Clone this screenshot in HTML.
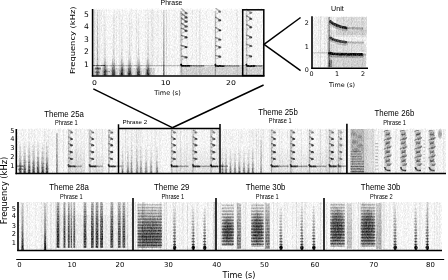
<!DOCTYPE html>
<html><head><meta charset="utf-8"><title>Spectrogram figure</title>
<style>html,body{margin:0;padding:0;background:#fff;}body{width:448px;height:280px;overflow:hidden;}svg{display:block;}text{fill:#000;}</style>
</head><body>
<svg width="448" height="280" viewBox="0 0 448 280"><defs><filter id="spec" color-interpolation-filters="sRGB" x="0" y="0" width="1" height="1">
<feGaussianBlur in="SourceGraphic" stdDeviation="0.5" result="blur"/>
<feComponentTransfer in="blur" result="inv"><feFuncR type="linear" slope="-1" intercept="1"/><feFuncG type="linear" slope="-1" intercept="1"/><feFuncB type="linear" slope="-1" intercept="1"/></feComponentTransfer>
<feTurbulence type="fractalNoise" baseFrequency="1.2 0.6" numOctaves="1" seed="4" result="turb"/>
<feColorMatrix in="turb" type="matrix" values="1.0 0 0 0 0.0  1.0 0 0 0 0.0  1.0 0 0 0 0.0  0 0 0 0 1" result="noise"/>
<feComposite in="inv" in2="noise" operator="arithmetic" k1="0.5" k2="0.75" k3="0.22" k4="-0.11" result="mod"/>
<feComponentTransfer in="mod"><feFuncR type="linear" slope="-1" intercept="1"/><feFuncG type="linear" slope="-1" intercept="1"/><feFuncB type="linear" slope="-1" intercept="1"/></feComponentTransfer>
</filter><linearGradient id="g1" x1="0" y1="0" x2="0" y2="1"><stop offset="0" stop-color="#000" stop-opacity="0.000"/><stop offset="0.6" stop-color="#000" stop-opacity="0.338"/><stop offset="1" stop-color="#000" stop-opacity="0.750"/></linearGradient><linearGradient id="g2" x1="0" y1="0" x2="0" y2="1"><stop offset="0" stop-color="#000" stop-opacity="0.000"/><stop offset="0.6" stop-color="#000" stop-opacity="0.144"/><stop offset="1" stop-color="#000" stop-opacity="0.320"/></linearGradient><linearGradient id="g3" x1="0" y1="0" x2="0" y2="1"><stop offset="0" stop-color="#000" stop-opacity="0.050"/><stop offset="0.75" stop-color="#000" stop-opacity="0.100"/><stop offset="1" stop-color="#000" stop-opacity="0.160"/></linearGradient><linearGradient id="g4" x1="0" y1="0" x2="0" y2="1"><stop offset="0" stop-color="#000" stop-opacity="0.000"/><stop offset="0.6" stop-color="#000" stop-opacity="0.338"/><stop offset="1" stop-color="#000" stop-opacity="0.750"/></linearGradient><linearGradient id="g5" x1="0" y1="0" x2="0" y2="1"><stop offset="0" stop-color="#000" stop-opacity="0.000"/><stop offset="0.6" stop-color="#000" stop-opacity="0.144"/><stop offset="1" stop-color="#000" stop-opacity="0.320"/></linearGradient><linearGradient id="g6" x1="0" y1="0" x2="0" y2="1"><stop offset="0" stop-color="#000" stop-opacity="0.050"/><stop offset="0.75" stop-color="#000" stop-opacity="0.100"/><stop offset="1" stop-color="#000" stop-opacity="0.160"/></linearGradient><linearGradient id="g7" x1="0" y1="0" x2="0" y2="1"><stop offset="0" stop-color="#000" stop-opacity="0.000"/><stop offset="0.6" stop-color="#000" stop-opacity="0.338"/><stop offset="1" stop-color="#000" stop-opacity="0.750"/></linearGradient><linearGradient id="g8" x1="0" y1="0" x2="0" y2="1"><stop offset="0" stop-color="#000" stop-opacity="0.000"/><stop offset="0.6" stop-color="#000" stop-opacity="0.144"/><stop offset="1" stop-color="#000" stop-opacity="0.320"/></linearGradient><linearGradient id="g9" x1="0" y1="0" x2="0" y2="1"><stop offset="0" stop-color="#000" stop-opacity="0.050"/><stop offset="0.75" stop-color="#000" stop-opacity="0.100"/><stop offset="1" stop-color="#000" stop-opacity="0.160"/></linearGradient><linearGradient id="g10" x1="0" y1="0" x2="0" y2="1"><stop offset="0" stop-color="#000" stop-opacity="0.000"/><stop offset="0.6" stop-color="#000" stop-opacity="0.338"/><stop offset="1" stop-color="#000" stop-opacity="0.750"/></linearGradient><linearGradient id="g11" x1="0" y1="0" x2="0" y2="1"><stop offset="0" stop-color="#000" stop-opacity="0.000"/><stop offset="0.6" stop-color="#000" stop-opacity="0.144"/><stop offset="1" stop-color="#000" stop-opacity="0.320"/></linearGradient><linearGradient id="g12" x1="0" y1="0" x2="0" y2="1"><stop offset="0" stop-color="#000" stop-opacity="0.050"/><stop offset="0.75" stop-color="#000" stop-opacity="0.100"/><stop offset="1" stop-color="#000" stop-opacity="0.160"/></linearGradient><linearGradient id="g13" x1="0" y1="0" x2="0" y2="1"><stop offset="0" stop-color="#000" stop-opacity="0.000"/><stop offset="0.6" stop-color="#000" stop-opacity="0.338"/><stop offset="1" stop-color="#000" stop-opacity="0.750"/></linearGradient><linearGradient id="g14" x1="0" y1="0" x2="0" y2="1"><stop offset="0" stop-color="#000" stop-opacity="0.000"/><stop offset="0.6" stop-color="#000" stop-opacity="0.144"/><stop offset="1" stop-color="#000" stop-opacity="0.320"/></linearGradient><linearGradient id="g15" x1="0" y1="0" x2="0" y2="1"><stop offset="0" stop-color="#000" stop-opacity="0.050"/><stop offset="0.75" stop-color="#000" stop-opacity="0.100"/><stop offset="1" stop-color="#000" stop-opacity="0.160"/></linearGradient><linearGradient id="g16" x1="0" y1="0" x2="0" y2="1"><stop offset="0" stop-color="#000" stop-opacity="0.000"/><stop offset="0.6" stop-color="#000" stop-opacity="0.338"/><stop offset="1" stop-color="#000" stop-opacity="0.750"/></linearGradient><linearGradient id="g17" x1="0" y1="0" x2="0" y2="1"><stop offset="0" stop-color="#000" stop-opacity="0.000"/><stop offset="0.6" stop-color="#000" stop-opacity="0.144"/><stop offset="1" stop-color="#000" stop-opacity="0.320"/></linearGradient><linearGradient id="g18" x1="0" y1="0" x2="0" y2="1"><stop offset="0" stop-color="#000" stop-opacity="0.050"/><stop offset="0.75" stop-color="#000" stop-opacity="0.100"/><stop offset="1" stop-color="#000" stop-opacity="0.160"/></linearGradient><linearGradient id="g19" x1="0" y1="0" x2="0" y2="1"><stop offset="0" stop-color="#000" stop-opacity="0.000"/><stop offset="0.6" stop-color="#000" stop-opacity="0.158"/><stop offset="1" stop-color="#000" stop-opacity="0.350"/></linearGradient><linearGradient id="g20" x1="0" y1="0" x2="0" y2="1"><stop offset="0" stop-color="#000" stop-opacity="0.000"/><stop offset="0.6" stop-color="#000" stop-opacity="0.068"/><stop offset="1" stop-color="#000" stop-opacity="0.150"/></linearGradient><linearGradient id="g21" x1="0" y1="0" x2="0" y2="1"><stop offset="0" stop-color="#000" stop-opacity="0.050"/><stop offset="0.75" stop-color="#000" stop-opacity="0.100"/><stop offset="1" stop-color="#000" stop-opacity="0.160"/></linearGradient><linearGradient id="g22" x1="0" y1="0" x2="0" y2="1"><stop offset="0" stop-color="#000" stop-opacity="0.100"/><stop offset="0.75" stop-color="#000" stop-opacity="0.190"/><stop offset="1" stop-color="#000" stop-opacity="0.300"/></linearGradient><linearGradient id="g23" x1="0" y1="0" x2="0" y2="1"><stop offset="0" stop-color="#000" stop-opacity="0.140"/><stop offset="0.75" stop-color="#000" stop-opacity="0.325"/><stop offset="1" stop-color="#000" stop-opacity="0.550"/></linearGradient><linearGradient id="g24" x1="0" y1="0" x2="0" y2="1"><stop offset="0" stop-color="#000" stop-opacity="0.300"/><stop offset="0.75" stop-color="#000" stop-opacity="0.458"/><stop offset="1" stop-color="#000" stop-opacity="0.650"/></linearGradient><linearGradient id="g25" x1="0" y1="0" x2="0" y2="1"><stop offset="0" stop-color="#000" stop-opacity="0.030"/><stop offset="0.5" stop-color="#000" stop-opacity="0.210"/><stop offset="0.8" stop-color="#000" stop-opacity="0.455"/><stop offset="1" stop-color="#000" stop-opacity="0.700"/></linearGradient><linearGradient id="g26" x1="0" y1="0" x2="0" y2="1"><stop offset="0" stop-color="#000" stop-opacity="0.000"/><stop offset="0.6" stop-color="#000" stop-opacity="0.105"/><stop offset="1" stop-color="#000" stop-opacity="0.245"/></linearGradient><linearGradient id="g27" x1="0" y1="0" x2="0" y2="1"><stop offset="0" stop-color="#000" stop-opacity="0.030"/><stop offset="0.5" stop-color="#000" stop-opacity="0.210"/><stop offset="0.8" stop-color="#000" stop-opacity="0.455"/><stop offset="1" stop-color="#000" stop-opacity="0.700"/></linearGradient><linearGradient id="g28" x1="0" y1="0" x2="0" y2="1"><stop offset="0" stop-color="#000" stop-opacity="0.000"/><stop offset="0.6" stop-color="#000" stop-opacity="0.105"/><stop offset="1" stop-color="#000" stop-opacity="0.245"/></linearGradient><linearGradient id="g29" x1="0" y1="0" x2="0" y2="1"><stop offset="0" stop-color="#000" stop-opacity="0.030"/><stop offset="0.5" stop-color="#000" stop-opacity="0.210"/><stop offset="0.8" stop-color="#000" stop-opacity="0.455"/><stop offset="1" stop-color="#000" stop-opacity="0.700"/></linearGradient><linearGradient id="g30" x1="0" y1="0" x2="0" y2="1"><stop offset="0" stop-color="#000" stop-opacity="0.000"/><stop offset="0.6" stop-color="#000" stop-opacity="0.105"/><stop offset="1" stop-color="#000" stop-opacity="0.245"/></linearGradient><linearGradient id="g31" x1="0" y1="0" x2="0" y2="1"><stop offset="0" stop-color="#000" stop-opacity="0.030"/><stop offset="0.5" stop-color="#000" stop-opacity="0.210"/><stop offset="0.8" stop-color="#000" stop-opacity="0.455"/><stop offset="1" stop-color="#000" stop-opacity="0.700"/></linearGradient><linearGradient id="g32" x1="0" y1="0" x2="0" y2="1"><stop offset="0" stop-color="#000" stop-opacity="0.000"/><stop offset="0.6" stop-color="#000" stop-opacity="0.105"/><stop offset="1" stop-color="#000" stop-opacity="0.245"/></linearGradient><linearGradient id="g33" x1="0" y1="0" x2="0" y2="1"><stop offset="0" stop-color="#000" stop-opacity="0.030"/><stop offset="0.5" stop-color="#000" stop-opacity="0.210"/><stop offset="0.8" stop-color="#000" stop-opacity="0.455"/><stop offset="1" stop-color="#000" stop-opacity="0.700"/></linearGradient><linearGradient id="g34" x1="0" y1="0" x2="0" y2="1"><stop offset="0" stop-color="#000" stop-opacity="0.000"/><stop offset="0.6" stop-color="#000" stop-opacity="0.105"/><stop offset="1" stop-color="#000" stop-opacity="0.245"/></linearGradient><linearGradient id="g35" x1="0" y1="0" x2="0" y2="1"><stop offset="0" stop-color="#000" stop-opacity="0.030"/><stop offset="0.5" stop-color="#000" stop-opacity="0.210"/><stop offset="0.8" stop-color="#000" stop-opacity="0.455"/><stop offset="1" stop-color="#000" stop-opacity="0.700"/></linearGradient><linearGradient id="g36" x1="0" y1="0" x2="0" y2="1"><stop offset="0" stop-color="#000" stop-opacity="0.000"/><stop offset="0.6" stop-color="#000" stop-opacity="0.105"/><stop offset="1" stop-color="#000" stop-opacity="0.245"/></linearGradient><linearGradient id="g37" x1="0" y1="0" x2="0" y2="1"><stop offset="0" stop-color="#000" stop-opacity="0.030"/><stop offset="0.5" stop-color="#000" stop-opacity="0.210"/><stop offset="0.8" stop-color="#000" stop-opacity="0.455"/><stop offset="1" stop-color="#000" stop-opacity="0.700"/></linearGradient><linearGradient id="g38" x1="0" y1="0" x2="0" y2="1"><stop offset="0" stop-color="#000" stop-opacity="0.000"/><stop offset="0.6" stop-color="#000" stop-opacity="0.105"/><stop offset="1" stop-color="#000" stop-opacity="0.245"/></linearGradient><linearGradient id="g39" x1="0" y1="0" x2="0" y2="1"><stop offset="0" stop-color="#000" stop-opacity="0.250"/><stop offset="0.5" stop-color="#000" stop-opacity="0.385"/><stop offset="1" stop-color="#000" stop-opacity="0.550"/></linearGradient><linearGradient id="g40" x1="0" y1="0" x2="0" y2="1"><stop offset="0" stop-color="#000" stop-opacity="0.000"/><stop offset="0.4" stop-color="#000" stop-opacity="0.060"/><stop offset="1" stop-color="#000" stop-opacity="0.090"/></linearGradient><linearGradient id="g41" x1="0" y1="0" x2="0" y2="1"><stop offset="0" stop-color="#000" stop-opacity="0.000"/><stop offset="0.4" stop-color="#000" stop-opacity="0.040"/><stop offset="1" stop-color="#000" stop-opacity="0.070"/></linearGradient><linearGradient id="g42" x1="0" y1="0" x2="0" y2="1"><stop offset="0" stop-color="#000" stop-opacity="0.030"/><stop offset="0.5" stop-color="#000" stop-opacity="0.126"/><stop offset="0.8" stop-color="#000" stop-opacity="0.273"/><stop offset="1" stop-color="#000" stop-opacity="0.420"/></linearGradient><linearGradient id="g43" x1="0" y1="0" x2="0" y2="1"><stop offset="0" stop-color="#000" stop-opacity="0.000"/><stop offset="0.6" stop-color="#000" stop-opacity="0.063"/><stop offset="1" stop-color="#000" stop-opacity="0.147"/></linearGradient><linearGradient id="g44" x1="0" y1="0" x2="0" y2="1"><stop offset="0" stop-color="#000" stop-opacity="0.030"/><stop offset="0.5" stop-color="#000" stop-opacity="0.126"/><stop offset="0.8" stop-color="#000" stop-opacity="0.273"/><stop offset="1" stop-color="#000" stop-opacity="0.420"/></linearGradient><linearGradient id="g45" x1="0" y1="0" x2="0" y2="1"><stop offset="0" stop-color="#000" stop-opacity="0.000"/><stop offset="0.6" stop-color="#000" stop-opacity="0.063"/><stop offset="1" stop-color="#000" stop-opacity="0.147"/></linearGradient><linearGradient id="g46" x1="0" y1="0" x2="0" y2="1"><stop offset="0" stop-color="#000" stop-opacity="0.030"/><stop offset="0.5" stop-color="#000" stop-opacity="0.126"/><stop offset="0.8" stop-color="#000" stop-opacity="0.273"/><stop offset="1" stop-color="#000" stop-opacity="0.420"/></linearGradient><linearGradient id="g47" x1="0" y1="0" x2="0" y2="1"><stop offset="0" stop-color="#000" stop-opacity="0.000"/><stop offset="0.6" stop-color="#000" stop-opacity="0.063"/><stop offset="1" stop-color="#000" stop-opacity="0.147"/></linearGradient><linearGradient id="g48" x1="0" y1="0" x2="0" y2="1"><stop offset="0" stop-color="#000" stop-opacity="0.030"/><stop offset="0.5" stop-color="#000" stop-opacity="0.126"/><stop offset="0.8" stop-color="#000" stop-opacity="0.273"/><stop offset="1" stop-color="#000" stop-opacity="0.420"/></linearGradient><linearGradient id="g49" x1="0" y1="0" x2="0" y2="1"><stop offset="0" stop-color="#000" stop-opacity="0.000"/><stop offset="0.6" stop-color="#000" stop-opacity="0.063"/><stop offset="1" stop-color="#000" stop-opacity="0.147"/></linearGradient><linearGradient id="g50" x1="0" y1="0" x2="0" y2="1"><stop offset="0" stop-color="#000" stop-opacity="0.030"/><stop offset="0.5" stop-color="#000" stop-opacity="0.126"/><stop offset="0.8" stop-color="#000" stop-opacity="0.273"/><stop offset="1" stop-color="#000" stop-opacity="0.420"/></linearGradient><linearGradient id="g51" x1="0" y1="0" x2="0" y2="1"><stop offset="0" stop-color="#000" stop-opacity="0.000"/><stop offset="0.6" stop-color="#000" stop-opacity="0.063"/><stop offset="1" stop-color="#000" stop-opacity="0.147"/></linearGradient><linearGradient id="g52" x1="0" y1="0" x2="0" y2="1"><stop offset="0" stop-color="#000" stop-opacity="0.030"/><stop offset="0.5" stop-color="#000" stop-opacity="0.126"/><stop offset="0.8" stop-color="#000" stop-opacity="0.273"/><stop offset="1" stop-color="#000" stop-opacity="0.420"/></linearGradient><linearGradient id="g53" x1="0" y1="0" x2="0" y2="1"><stop offset="0" stop-color="#000" stop-opacity="0.000"/><stop offset="0.6" stop-color="#000" stop-opacity="0.063"/><stop offset="1" stop-color="#000" stop-opacity="0.147"/></linearGradient><linearGradient id="g54" x1="0" y1="0" x2="0" y2="1"><stop offset="0" stop-color="#000" stop-opacity="0.030"/><stop offset="0.5" stop-color="#000" stop-opacity="0.126"/><stop offset="0.8" stop-color="#000" stop-opacity="0.273"/><stop offset="1" stop-color="#000" stop-opacity="0.420"/></linearGradient><linearGradient id="g55" x1="0" y1="0" x2="0" y2="1"><stop offset="0" stop-color="#000" stop-opacity="0.000"/><stop offset="0.6" stop-color="#000" stop-opacity="0.063"/><stop offset="1" stop-color="#000" stop-opacity="0.147"/></linearGradient><linearGradient id="g56" x1="0" y1="0" x2="0" y2="1"><stop offset="0" stop-color="#000" stop-opacity="0.030"/><stop offset="0.5" stop-color="#000" stop-opacity="0.126"/><stop offset="0.8" stop-color="#000" stop-opacity="0.273"/><stop offset="1" stop-color="#000" stop-opacity="0.420"/></linearGradient><linearGradient id="g57" x1="0" y1="0" x2="0" y2="1"><stop offset="0" stop-color="#000" stop-opacity="0.000"/><stop offset="0.6" stop-color="#000" stop-opacity="0.063"/><stop offset="1" stop-color="#000" stop-opacity="0.147"/></linearGradient><linearGradient id="g58" x1="0" y1="0" x2="0" y2="1"><stop offset="0" stop-color="#000" stop-opacity="0.000"/><stop offset="0.4" stop-color="#000" stop-opacity="0.040"/><stop offset="1" stop-color="#000" stop-opacity="0.070"/></linearGradient><linearGradient id="g59" x1="0" y1="0" x2="0" y2="1"><stop offset="0" stop-color="#000" stop-opacity="0.030"/><stop offset="0.5" stop-color="#000" stop-opacity="0.144"/><stop offset="0.8" stop-color="#000" stop-opacity="0.312"/><stop offset="1" stop-color="#000" stop-opacity="0.480"/></linearGradient><linearGradient id="g60" x1="0" y1="0" x2="0" y2="1"><stop offset="0" stop-color="#000" stop-opacity="0.000"/><stop offset="0.6" stop-color="#000" stop-opacity="0.072"/><stop offset="1" stop-color="#000" stop-opacity="0.168"/></linearGradient><linearGradient id="g61" x1="0" y1="0" x2="0" y2="1"><stop offset="0" stop-color="#000" stop-opacity="0.030"/><stop offset="0.5" stop-color="#000" stop-opacity="0.144"/><stop offset="0.8" stop-color="#000" stop-opacity="0.312"/><stop offset="1" stop-color="#000" stop-opacity="0.480"/></linearGradient><linearGradient id="g62" x1="0" y1="0" x2="0" y2="1"><stop offset="0" stop-color="#000" stop-opacity="0.000"/><stop offset="0.6" stop-color="#000" stop-opacity="0.072"/><stop offset="1" stop-color="#000" stop-opacity="0.168"/></linearGradient><linearGradient id="g63" x1="0" y1="0" x2="0" y2="1"><stop offset="0" stop-color="#000" stop-opacity="0.030"/><stop offset="0.5" stop-color="#000" stop-opacity="0.144"/><stop offset="0.8" stop-color="#000" stop-opacity="0.312"/><stop offset="1" stop-color="#000" stop-opacity="0.480"/></linearGradient><linearGradient id="g64" x1="0" y1="0" x2="0" y2="1"><stop offset="0" stop-color="#000" stop-opacity="0.000"/><stop offset="0.6" stop-color="#000" stop-opacity="0.072"/><stop offset="1" stop-color="#000" stop-opacity="0.168"/></linearGradient><linearGradient id="g65" x1="0" y1="0" x2="0" y2="1"><stop offset="0" stop-color="#000" stop-opacity="0.030"/><stop offset="0.5" stop-color="#000" stop-opacity="0.144"/><stop offset="0.8" stop-color="#000" stop-opacity="0.312"/><stop offset="1" stop-color="#000" stop-opacity="0.480"/></linearGradient><linearGradient id="g66" x1="0" y1="0" x2="0" y2="1"><stop offset="0" stop-color="#000" stop-opacity="0.000"/><stop offset="0.6" stop-color="#000" stop-opacity="0.072"/><stop offset="1" stop-color="#000" stop-opacity="0.168"/></linearGradient><linearGradient id="g67" x1="0" y1="0" x2="0" y2="1"><stop offset="0" stop-color="#000" stop-opacity="0.030"/><stop offset="0.5" stop-color="#000" stop-opacity="0.144"/><stop offset="0.8" stop-color="#000" stop-opacity="0.312"/><stop offset="1" stop-color="#000" stop-opacity="0.480"/></linearGradient><linearGradient id="g68" x1="0" y1="0" x2="0" y2="1"><stop offset="0" stop-color="#000" stop-opacity="0.000"/><stop offset="0.6" stop-color="#000" stop-opacity="0.072"/><stop offset="1" stop-color="#000" stop-opacity="0.168"/></linearGradient><linearGradient id="g69" x1="0" y1="0" x2="0" y2="1"><stop offset="0" stop-color="#000" stop-opacity="0.030"/><stop offset="0.5" stop-color="#000" stop-opacity="0.144"/><stop offset="0.8" stop-color="#000" stop-opacity="0.312"/><stop offset="1" stop-color="#000" stop-opacity="0.480"/></linearGradient><linearGradient id="g70" x1="0" y1="0" x2="0" y2="1"><stop offset="0" stop-color="#000" stop-opacity="0.000"/><stop offset="0.6" stop-color="#000" stop-opacity="0.072"/><stop offset="1" stop-color="#000" stop-opacity="0.168"/></linearGradient><linearGradient id="g71" x1="0" y1="0" x2="0" y2="1"><stop offset="0" stop-color="#000" stop-opacity="0.030"/><stop offset="0.5" stop-color="#000" stop-opacity="0.144"/><stop offset="0.8" stop-color="#000" stop-opacity="0.312"/><stop offset="1" stop-color="#000" stop-opacity="0.480"/></linearGradient><linearGradient id="g72" x1="0" y1="0" x2="0" y2="1"><stop offset="0" stop-color="#000" stop-opacity="0.000"/><stop offset="0.6" stop-color="#000" stop-opacity="0.072"/><stop offset="1" stop-color="#000" stop-opacity="0.168"/></linearGradient><linearGradient id="g73" x1="0" y1="0" x2="0" y2="1"><stop offset="0" stop-color="#000" stop-opacity="0.030"/><stop offset="0.5" stop-color="#000" stop-opacity="0.144"/><stop offset="0.8" stop-color="#000" stop-opacity="0.312"/><stop offset="1" stop-color="#000" stop-opacity="0.480"/></linearGradient><linearGradient id="g74" x1="0" y1="0" x2="0" y2="1"><stop offset="0" stop-color="#000" stop-opacity="0.000"/><stop offset="0.6" stop-color="#000" stop-opacity="0.072"/><stop offset="1" stop-color="#000" stop-opacity="0.168"/></linearGradient><linearGradient id="g75" x1="0" y1="0" x2="0" y2="1"><stop offset="0" stop-color="#000" stop-opacity="0.100"/><stop offset="0.75" stop-color="#000" stop-opacity="0.280"/><stop offset="1" stop-color="#000" stop-opacity="0.500"/></linearGradient><linearGradient id="g76" x1="0" y1="0" x2="0" y2="1"><stop offset="0" stop-color="#000" stop-opacity="0.000"/><stop offset="0.4" stop-color="#000" stop-opacity="0.040"/><stop offset="1" stop-color="#000" stop-opacity="0.070"/></linearGradient><linearGradient id="g77" x1="0" y1="0" x2="0" y2="1"><stop offset="0" stop-color="#000" stop-opacity="0.240"/><stop offset="0.5" stop-color="#000" stop-opacity="0.280"/><stop offset="1" stop-color="#000" stop-opacity="0.300"/></linearGradient><radialGradient id="g78"><stop offset="0" stop-color="#000" stop-opacity="0.220"/><stop offset="0.6" stop-color="#000" stop-opacity="0.132"/><stop offset="1" stop-color="#000" stop-opacity="0"/></radialGradient><radialGradient id="g79"><stop offset="0" stop-color="#000" stop-opacity="0.220"/><stop offset="0.6" stop-color="#000" stop-opacity="0.132"/><stop offset="1" stop-color="#000" stop-opacity="0"/></radialGradient><radialGradient id="g80"><stop offset="0" stop-color="#000" stop-opacity="0.220"/><stop offset="0.6" stop-color="#000" stop-opacity="0.132"/><stop offset="1" stop-color="#000" stop-opacity="0"/></radialGradient><radialGradient id="g81"><stop offset="0" stop-color="#000" stop-opacity="0.220"/><stop offset="0.6" stop-color="#000" stop-opacity="0.132"/><stop offset="1" stop-color="#000" stop-opacity="0"/></radialGradient><radialGradient id="g82"><stop offset="0" stop-color="#000" stop-opacity="0.220"/><stop offset="0.6" stop-color="#000" stop-opacity="0.132"/><stop offset="1" stop-color="#000" stop-opacity="0"/></radialGradient><linearGradient id="g83" x1="0" y1="0" x2="1" y2="0"><stop offset="0" stop-color="#000" stop-opacity="0.160"/><stop offset="1" stop-color="#000" stop-opacity="0.030"/></linearGradient><radialGradient id="g84"><stop offset="0" stop-color="#000" stop-opacity="0.240"/><stop offset="0.6" stop-color="#000" stop-opacity="0.144"/><stop offset="1" stop-color="#000" stop-opacity="0"/></radialGradient><radialGradient id="g85"><stop offset="0" stop-color="#000" stop-opacity="0.240"/><stop offset="0.6" stop-color="#000" stop-opacity="0.144"/><stop offset="1" stop-color="#000" stop-opacity="0"/></radialGradient><radialGradient id="g86"><stop offset="0" stop-color="#000" stop-opacity="0.240"/><stop offset="0.6" stop-color="#000" stop-opacity="0.144"/><stop offset="1" stop-color="#000" stop-opacity="0"/></radialGradient><radialGradient id="g87"><stop offset="0" stop-color="#000" stop-opacity="0.240"/><stop offset="0.6" stop-color="#000" stop-opacity="0.144"/><stop offset="1" stop-color="#000" stop-opacity="0"/></radialGradient><radialGradient id="g88"><stop offset="0" stop-color="#000" stop-opacity="0.240"/><stop offset="0.6" stop-color="#000" stop-opacity="0.144"/><stop offset="1" stop-color="#000" stop-opacity="0"/></radialGradient><radialGradient id="g89"><stop offset="0" stop-color="#000" stop-opacity="0.240"/><stop offset="0.6" stop-color="#000" stop-opacity="0.144"/><stop offset="1" stop-color="#000" stop-opacity="0"/></radialGradient><radialGradient id="g90"><stop offset="0" stop-color="#000" stop-opacity="0.240"/><stop offset="0.6" stop-color="#000" stop-opacity="0.144"/><stop offset="1" stop-color="#000" stop-opacity="0"/></radialGradient><radialGradient id="g91"><stop offset="0" stop-color="#000" stop-opacity="0.240"/><stop offset="0.6" stop-color="#000" stop-opacity="0.144"/><stop offset="1" stop-color="#000" stop-opacity="0"/></radialGradient><radialGradient id="g92"><stop offset="0" stop-color="#000" stop-opacity="0.240"/><stop offset="0.6" stop-color="#000" stop-opacity="0.144"/><stop offset="1" stop-color="#000" stop-opacity="0"/></radialGradient><radialGradient id="g93"><stop offset="0" stop-color="#000" stop-opacity="0.240"/><stop offset="0.6" stop-color="#000" stop-opacity="0.144"/><stop offset="1" stop-color="#000" stop-opacity="0"/></radialGradient><radialGradient id="g94"><stop offset="0" stop-color="#000" stop-opacity="0.240"/><stop offset="0.6" stop-color="#000" stop-opacity="0.144"/><stop offset="1" stop-color="#000" stop-opacity="0"/></radialGradient><radialGradient id="g95"><stop offset="0" stop-color="#000" stop-opacity="0.240"/><stop offset="0.6" stop-color="#000" stop-opacity="0.144"/><stop offset="1" stop-color="#000" stop-opacity="0"/></radialGradient><radialGradient id="g96"><stop offset="0" stop-color="#000" stop-opacity="0.240"/><stop offset="0.6" stop-color="#000" stop-opacity="0.144"/><stop offset="1" stop-color="#000" stop-opacity="0"/></radialGradient><radialGradient id="g97"><stop offset="0" stop-color="#000" stop-opacity="0.240"/><stop offset="0.6" stop-color="#000" stop-opacity="0.144"/><stop offset="1" stop-color="#000" stop-opacity="0"/></radialGradient><radialGradient id="g98"><stop offset="0" stop-color="#000" stop-opacity="0.240"/><stop offset="0.6" stop-color="#000" stop-opacity="0.144"/><stop offset="1" stop-color="#000" stop-opacity="0"/></radialGradient><radialGradient id="g99"><stop offset="0" stop-color="#000" stop-opacity="0.240"/><stop offset="0.6" stop-color="#000" stop-opacity="0.144"/><stop offset="1" stop-color="#000" stop-opacity="0"/></radialGradient><radialGradient id="g100"><stop offset="0" stop-color="#000" stop-opacity="0.240"/><stop offset="0.6" stop-color="#000" stop-opacity="0.144"/><stop offset="1" stop-color="#000" stop-opacity="0"/></radialGradient><radialGradient id="g101"><stop offset="0" stop-color="#000" stop-opacity="0.240"/><stop offset="0.6" stop-color="#000" stop-opacity="0.144"/><stop offset="1" stop-color="#000" stop-opacity="0"/></radialGradient><radialGradient id="g102"><stop offset="0" stop-color="#000" stop-opacity="0.240"/><stop offset="0.6" stop-color="#000" stop-opacity="0.144"/><stop offset="1" stop-color="#000" stop-opacity="0"/></radialGradient><radialGradient id="g103"><stop offset="0" stop-color="#000" stop-opacity="0.240"/><stop offset="0.6" stop-color="#000" stop-opacity="0.144"/><stop offset="1" stop-color="#000" stop-opacity="0"/></radialGradient><radialGradient id="g104"><stop offset="0" stop-color="#000" stop-opacity="0.240"/><stop offset="0.6" stop-color="#000" stop-opacity="0.144"/><stop offset="1" stop-color="#000" stop-opacity="0"/></radialGradient><radialGradient id="g105"><stop offset="0" stop-color="#000" stop-opacity="0.240"/><stop offset="0.6" stop-color="#000" stop-opacity="0.144"/><stop offset="1" stop-color="#000" stop-opacity="0"/></radialGradient><radialGradient id="g106"><stop offset="0" stop-color="#000" stop-opacity="0.240"/><stop offset="0.6" stop-color="#000" stop-opacity="0.144"/><stop offset="1" stop-color="#000" stop-opacity="0"/></radialGradient><radialGradient id="g107"><stop offset="0" stop-color="#000" stop-opacity="0.240"/><stop offset="0.6" stop-color="#000" stop-opacity="0.144"/><stop offset="1" stop-color="#000" stop-opacity="0"/></radialGradient><radialGradient id="g108"><stop offset="0" stop-color="#000" stop-opacity="0.240"/><stop offset="0.6" stop-color="#000" stop-opacity="0.144"/><stop offset="1" stop-color="#000" stop-opacity="0"/></radialGradient><radialGradient id="g109"><stop offset="0" stop-color="#000" stop-opacity="0.240"/><stop offset="0.6" stop-color="#000" stop-opacity="0.144"/><stop offset="1" stop-color="#000" stop-opacity="0"/></radialGradient><radialGradient id="g110"><stop offset="0" stop-color="#000" stop-opacity="0.240"/><stop offset="0.6" stop-color="#000" stop-opacity="0.144"/><stop offset="1" stop-color="#000" stop-opacity="0"/></radialGradient><radialGradient id="g111"><stop offset="0" stop-color="#000" stop-opacity="0.240"/><stop offset="0.6" stop-color="#000" stop-opacity="0.144"/><stop offset="1" stop-color="#000" stop-opacity="0"/></radialGradient><radialGradient id="g112"><stop offset="0" stop-color="#000" stop-opacity="0.240"/><stop offset="0.6" stop-color="#000" stop-opacity="0.144"/><stop offset="1" stop-color="#000" stop-opacity="0"/></radialGradient><radialGradient id="g113"><stop offset="0" stop-color="#000" stop-opacity="0.240"/><stop offset="0.6" stop-color="#000" stop-opacity="0.144"/><stop offset="1" stop-color="#000" stop-opacity="0"/></radialGradient><radialGradient id="g114"><stop offset="0" stop-color="#000" stop-opacity="0.240"/><stop offset="0.6" stop-color="#000" stop-opacity="0.144"/><stop offset="1" stop-color="#000" stop-opacity="0"/></radialGradient><radialGradient id="g115"><stop offset="0" stop-color="#000" stop-opacity="0.240"/><stop offset="0.6" stop-color="#000" stop-opacity="0.144"/><stop offset="1" stop-color="#000" stop-opacity="0"/></radialGradient><radialGradient id="g116"><stop offset="0" stop-color="#000" stop-opacity="0.400"/><stop offset="0.6" stop-color="#000" stop-opacity="0.240"/><stop offset="1" stop-color="#000" stop-opacity="0"/></radialGradient><linearGradient id="g117" x1="0" y1="0" x2="0" y2="1"><stop offset="0" stop-color="#000" stop-opacity="0.150"/><stop offset="0.6" stop-color="#000" stop-opacity="0.465"/><stop offset="1" stop-color="#000" stop-opacity="0.850"/></linearGradient><linearGradient id="g118" x1="0" y1="0" x2="0" y2="1"><stop offset="0" stop-color="#000" stop-opacity="0.000"/><stop offset="0.75" stop-color="#000" stop-opacity="0.180"/><stop offset="1" stop-color="#000" stop-opacity="0.400"/></linearGradient><linearGradient id="g119" x1="0" y1="0" x2="0" y2="1"><stop offset="0" stop-color="#000" stop-opacity="0.150"/><stop offset="0.6" stop-color="#000" stop-opacity="0.465"/><stop offset="1" stop-color="#000" stop-opacity="0.850"/></linearGradient><linearGradient id="g120" x1="0" y1="0" x2="0" y2="1"><stop offset="0" stop-color="#000" stop-opacity="0.000"/><stop offset="0.75" stop-color="#000" stop-opacity="0.180"/><stop offset="1" stop-color="#000" stop-opacity="0.400"/></linearGradient><linearGradient id="g121" x1="0" y1="0" x2="0" y2="1"><stop offset="0" stop-color="#000" stop-opacity="0.250"/><stop offset="0.35" stop-color="#000" stop-opacity="0.487"/><stop offset="0.8" stop-color="#000" stop-opacity="0.725"/><stop offset="1" stop-color="#000" stop-opacity="0.580"/></linearGradient><linearGradient id="g122" x1="0" y1="0" x2="0" y2="1"><stop offset="0" stop-color="#000" stop-opacity="0.225"/><stop offset="0.35" stop-color="#000" stop-opacity="0.439"/><stop offset="0.8" stop-color="#000" stop-opacity="0.652"/><stop offset="1" stop-color="#000" stop-opacity="0.522"/></linearGradient><linearGradient id="g123" x1="0" y1="0" x2="0" y2="1"><stop offset="0" stop-color="#000" stop-opacity="0.225"/><stop offset="0.35" stop-color="#000" stop-opacity="0.439"/><stop offset="0.8" stop-color="#000" stop-opacity="0.652"/><stop offset="1" stop-color="#000" stop-opacity="0.522"/></linearGradient><linearGradient id="g124" x1="0" y1="0" x2="0" y2="1"><stop offset="0" stop-color="#000" stop-opacity="0.175"/><stop offset="0.35" stop-color="#000" stop-opacity="0.341"/><stop offset="0.8" stop-color="#000" stop-opacity="0.507"/><stop offset="1" stop-color="#000" stop-opacity="0.406"/></linearGradient><linearGradient id="g125" x1="0" y1="0" x2="0" y2="1"><stop offset="0" stop-color="#000" stop-opacity="0.200"/><stop offset="0.35" stop-color="#000" stop-opacity="0.390"/><stop offset="0.8" stop-color="#000" stop-opacity="0.580"/><stop offset="1" stop-color="#000" stop-opacity="0.464"/></linearGradient><linearGradient id="g126" x1="0" y1="0" x2="0" y2="1"><stop offset="0" stop-color="#000" stop-opacity="0.225"/><stop offset="0.35" stop-color="#000" stop-opacity="0.439"/><stop offset="0.8" stop-color="#000" stop-opacity="0.652"/><stop offset="1" stop-color="#000" stop-opacity="0.522"/></linearGradient><linearGradient id="g127" x1="0" y1="0" x2="0" y2="1"><stop offset="0" stop-color="#000" stop-opacity="0.225"/><stop offset="0.35" stop-color="#000" stop-opacity="0.439"/><stop offset="0.8" stop-color="#000" stop-opacity="0.652"/><stop offset="1" stop-color="#000" stop-opacity="0.522"/></linearGradient><linearGradient id="g128" x1="0" y1="0" x2="0" y2="1"><stop offset="0" stop-color="#000" stop-opacity="0.225"/><stop offset="0.35" stop-color="#000" stop-opacity="0.439"/><stop offset="0.8" stop-color="#000" stop-opacity="0.652"/><stop offset="1" stop-color="#000" stop-opacity="0.522"/></linearGradient><linearGradient id="g129" x1="0" y1="0" x2="0" y2="1"><stop offset="0" stop-color="#000" stop-opacity="0.225"/><stop offset="0.35" stop-color="#000" stop-opacity="0.439"/><stop offset="0.8" stop-color="#000" stop-opacity="0.652"/><stop offset="1" stop-color="#000" stop-opacity="0.522"/></linearGradient><linearGradient id="g130" x1="0" y1="0" x2="0" y2="1"><stop offset="0" stop-color="#000" stop-opacity="0.225"/><stop offset="0.35" stop-color="#000" stop-opacity="0.439"/><stop offset="0.8" stop-color="#000" stop-opacity="0.652"/><stop offset="1" stop-color="#000" stop-opacity="0.522"/></linearGradient><linearGradient id="g131" x1="0" y1="0" x2="0" y2="1"><stop offset="0" stop-color="#000" stop-opacity="0.200"/><stop offset="0.35" stop-color="#000" stop-opacity="0.390"/><stop offset="0.8" stop-color="#000" stop-opacity="0.580"/><stop offset="1" stop-color="#000" stop-opacity="0.464"/></linearGradient><linearGradient id="g132" x1="0" y1="0" x2="0" y2="1"><stop offset="0" stop-color="#000" stop-opacity="0.200"/><stop offset="0.35" stop-color="#000" stop-opacity="0.390"/><stop offset="0.8" stop-color="#000" stop-opacity="0.580"/><stop offset="1" stop-color="#000" stop-opacity="0.464"/></linearGradient><linearGradient id="g133" x1="0" y1="0" x2="0" y2="1"><stop offset="0" stop-color="#000" stop-opacity="0.000"/><stop offset="0.35" stop-color="#000" stop-opacity="0.210"/><stop offset="0.8" stop-color="#000" stop-opacity="0.420"/><stop offset="1" stop-color="#000" stop-opacity="0.336"/></linearGradient><linearGradient id="g134" x1="0" y1="0" x2="0" y2="1"><stop offset="0" stop-color="#000" stop-opacity="0.000"/><stop offset="0.35" stop-color="#000" stop-opacity="0.105"/><stop offset="0.8" stop-color="#000" stop-opacity="0.210"/><stop offset="1" stop-color="#000" stop-opacity="0.168"/></linearGradient><radialGradient id="g135"><stop offset="0" stop-color="#000" stop-opacity="0.250"/><stop offset="0.6" stop-color="#000" stop-opacity="0.150"/><stop offset="1" stop-color="#000" stop-opacity="0"/></radialGradient><linearGradient id="g136" x1="0" y1="0" x2="0" y2="1"><stop offset="0" stop-color="#000" stop-opacity="0.040"/><stop offset="0.55" stop-color="#000" stop-opacity="0.260"/><stop offset="1" stop-color="#000" stop-opacity="0.528"/></linearGradient><linearGradient id="g137" x1="0" y1="0" x2="0" y2="1"><stop offset="0" stop-color="#000" stop-opacity="0.040"/><stop offset="0.55" stop-color="#000" stop-opacity="0.260"/><stop offset="1" stop-color="#000" stop-opacity="0.528"/></linearGradient><linearGradient id="g138" x1="0" y1="0" x2="0" y2="1"><stop offset="0" stop-color="#000" stop-opacity="0.040"/><stop offset="0.55" stop-color="#000" stop-opacity="0.260"/><stop offset="1" stop-color="#000" stop-opacity="0.528"/></linearGradient><linearGradient id="g139" x1="0" y1="0" x2="0" y2="1"><stop offset="0" stop-color="#000" stop-opacity="0.000"/><stop offset="0.35" stop-color="#000" stop-opacity="0.160"/><stop offset="0.8" stop-color="#000" stop-opacity="0.320"/><stop offset="1" stop-color="#000" stop-opacity="0.256"/></linearGradient><linearGradient id="g140" x1="0" y1="0" x2="0" y2="1"><stop offset="0" stop-color="#000" stop-opacity="0.000"/><stop offset="0.35" stop-color="#000" stop-opacity="0.080"/><stop offset="0.8" stop-color="#000" stop-opacity="0.160"/><stop offset="1" stop-color="#000" stop-opacity="0.128"/></linearGradient><radialGradient id="g141"><stop offset="0" stop-color="#000" stop-opacity="0.500"/><stop offset="0.6" stop-color="#000" stop-opacity="0.300"/><stop offset="1" stop-color="#000" stop-opacity="0"/></radialGradient><linearGradient id="g142" x1="0" y1="0" x2="0" y2="1"><stop offset="0" stop-color="#000" stop-opacity="0.150"/><stop offset="0.35" stop-color="#000" stop-opacity="0.275"/><stop offset="0.8" stop-color="#000" stop-opacity="0.400"/><stop offset="1" stop-color="#000" stop-opacity="0.320"/></linearGradient><linearGradient id="g143" x1="0" y1="0" x2="0" y2="1"><stop offset="0" stop-color="#000" stop-opacity="0.030"/><stop offset="0.35" stop-color="#000" stop-opacity="0.175"/><stop offset="0.8" stop-color="#000" stop-opacity="0.320"/><stop offset="1" stop-color="#000" stop-opacity="0.256"/></linearGradient><linearGradient id="g144" x1="0" y1="0" x2="0" y2="1"><stop offset="0" stop-color="#000" stop-opacity="0.015"/><stop offset="0.35" stop-color="#000" stop-opacity="0.087"/><stop offset="0.8" stop-color="#000" stop-opacity="0.160"/><stop offset="1" stop-color="#000" stop-opacity="0.128"/></linearGradient><radialGradient id="g145"><stop offset="0" stop-color="#000" stop-opacity="0.500"/><stop offset="0.6" stop-color="#000" stop-opacity="0.300"/><stop offset="1" stop-color="#000" stop-opacity="0"/></radialGradient><linearGradient id="g146" x1="0" y1="0" x2="0" y2="1"><stop offset="0" stop-color="#000" stop-opacity="0.150"/><stop offset="0.35" stop-color="#000" stop-opacity="0.285"/><stop offset="0.8" stop-color="#000" stop-opacity="0.420"/><stop offset="1" stop-color="#000" stop-opacity="0.336"/></linearGradient><linearGradient id="g147" x1="0" y1="0" x2="0" y2="1"><stop offset="0" stop-color="#000" stop-opacity="0.040"/><stop offset="0.55" stop-color="#000" stop-opacity="0.260"/><stop offset="1" stop-color="#000" stop-opacity="0.528"/></linearGradient><linearGradient id="g148" x1="0" y1="0" x2="0" y2="1"><stop offset="0" stop-color="#000" stop-opacity="0.040"/><stop offset="0.55" stop-color="#000" stop-opacity="0.260"/><stop offset="1" stop-color="#000" stop-opacity="0.528"/></linearGradient><linearGradient id="g149" x1="0" y1="0" x2="0" y2="1"><stop offset="0" stop-color="#000" stop-opacity="0.040"/><stop offset="0.55" stop-color="#000" stop-opacity="0.260"/><stop offset="1" stop-color="#000" stop-opacity="0.528"/></linearGradient><linearGradient id="g150" x1="0" y1="0" x2="0" y2="1"><stop offset="0" stop-color="#000" stop-opacity="0.080"/><stop offset="0.35" stop-color="#000" stop-opacity="0.220"/><stop offset="0.8" stop-color="#000" stop-opacity="0.360"/><stop offset="1" stop-color="#000" stop-opacity="0.288"/></linearGradient><linearGradient id="g151" x1="0" y1="0" x2="0" y2="1"><stop offset="0" stop-color="#000" stop-opacity="0.040"/><stop offset="0.35" stop-color="#000" stop-opacity="0.110"/><stop offset="0.8" stop-color="#000" stop-opacity="0.180"/><stop offset="1" stop-color="#000" stop-opacity="0.144"/></linearGradient><radialGradient id="g152"><stop offset="0" stop-color="#000" stop-opacity="0.500"/><stop offset="0.6" stop-color="#000" stop-opacity="0.300"/><stop offset="1" stop-color="#000" stop-opacity="0"/></radialGradient><linearGradient id="g153" x1="0" y1="0" x2="0" y2="1"><stop offset="0" stop-color="#000" stop-opacity="0.100"/><stop offset="0.35" stop-color="#000" stop-opacity="0.150"/><stop offset="0.8" stop-color="#000" stop-opacity="0.200"/><stop offset="1" stop-color="#000" stop-opacity="0.160"/></linearGradient><linearGradient id="g154" x1="0" y1="0" x2="0" y2="1"><stop offset="0" stop-color="#000" stop-opacity="0.080"/><stop offset="0.35" stop-color="#000" stop-opacity="0.220"/><stop offset="0.8" stop-color="#000" stop-opacity="0.360"/><stop offset="1" stop-color="#000" stop-opacity="0.288"/></linearGradient><linearGradient id="g155" x1="0" y1="0" x2="0" y2="1"><stop offset="0" stop-color="#000" stop-opacity="0.040"/><stop offset="0.35" stop-color="#000" stop-opacity="0.110"/><stop offset="0.8" stop-color="#000" stop-opacity="0.180"/><stop offset="1" stop-color="#000" stop-opacity="0.144"/></linearGradient><radialGradient id="g156"><stop offset="0" stop-color="#000" stop-opacity="0.500"/><stop offset="0.6" stop-color="#000" stop-opacity="0.300"/><stop offset="1" stop-color="#000" stop-opacity="0"/></radialGradient><linearGradient id="g157" x1="0" y1="0" x2="0" y2="1"><stop offset="0" stop-color="#000" stop-opacity="0.150"/><stop offset="0.35" stop-color="#000" stop-opacity="0.200"/><stop offset="0.8" stop-color="#000" stop-opacity="0.250"/><stop offset="1" stop-color="#000" stop-opacity="0.200"/></linearGradient><linearGradient id="g158" x1="0" y1="0" x2="0" y2="1"><stop offset="0" stop-color="#000" stop-opacity="0.040"/><stop offset="0.55" stop-color="#000" stop-opacity="0.260"/><stop offset="1" stop-color="#000" stop-opacity="0.528"/></linearGradient><linearGradient id="g159" x1="0" y1="0" x2="0" y2="1"><stop offset="0" stop-color="#000" stop-opacity="0.040"/><stop offset="0.55" stop-color="#000" stop-opacity="0.260"/><stop offset="1" stop-color="#000" stop-opacity="0.528"/></linearGradient><linearGradient id="g160" x1="0" y1="0" x2="0" y2="1"><stop offset="0" stop-color="#000" stop-opacity="0.040"/><stop offset="0.55" stop-color="#000" stop-opacity="0.260"/><stop offset="1" stop-color="#000" stop-opacity="0.528"/></linearGradient></defs><g filter="url(#spec)">
<rect x="93.00" y="9.50" width="171.00" height="66.00" fill="#f6f6f6" fill-opacity="1.000"/>
<rect x="199.27" y="9.5" width="1.22" height="66.0" fill="#000" fill-opacity="0.057"/>
<rect x="131.29" y="9.5" width="0.74" height="66.0" fill="#000" fill-opacity="0.062"/>
<rect x="93.90" y="9.5" width="1.16" height="66.0" fill="#000" fill-opacity="0.058"/>
<rect x="172.55" y="9.5" width="0.74" height="66.0" fill="#000" fill-opacity="0.027"/>
<rect x="136.33" y="9.5" width="0.86" height="66.0" fill="#000" fill-opacity="0.040"/>
<rect x="187.09" y="9.5" width="1.30" height="66.0" fill="#000" fill-opacity="0.058"/>
<rect x="198.77" y="9.5" width="1.29" height="66.0" fill="#000" fill-opacity="0.023"/>
<rect x="120.24" y="9.5" width="0.99" height="66.0" fill="#000" fill-opacity="0.013"/>
<rect x="99.07" y="9.5" width="0.91" height="66.0" fill="#000" fill-opacity="0.038"/>
<rect x="248.92" y="9.5" width="1.00" height="66.0" fill="#000" fill-opacity="0.041"/>
<rect x="177.47" y="9.5" width="0.70" height="66.0" fill="#000" fill-opacity="0.011"/>
<rect x="125.71" y="9.5" width="1.05" height="66.0" fill="#000" fill-opacity="0.022"/>
<rect x="155.82" y="9.5" width="0.50" height="66.0" fill="#000" fill-opacity="0.060"/>
<rect x="119.26" y="9.5" width="0.71" height="66.0" fill="#000" fill-opacity="0.063"/>
<rect x="179.66" y="9.5" width="1.18" height="66.0" fill="#000" fill-opacity="0.048"/>
<rect x="219.10" y="9.5" width="0.57" height="66.0" fill="#000" fill-opacity="0.042"/>
<rect x="179.32" y="9.5" width="1.20" height="66.0" fill="#000" fill-opacity="0.032"/>
<rect x="194.69" y="9.5" width="0.55" height="66.0" fill="#000" fill-opacity="0.033"/>
<rect x="147.92" y="9.5" width="0.62" height="66.0" fill="#000" fill-opacity="0.059"/>
<rect x="157.51" y="9.5" width="1.28" height="66.0" fill="#000" fill-opacity="0.045"/>
<rect x="195.86" y="9.5" width="1.01" height="66.0" fill="#000" fill-opacity="0.051"/>
<rect x="118.63" y="9.5" width="0.85" height="66.0" fill="#000" fill-opacity="0.024"/>
<rect x="161.42" y="9.5" width="0.58" height="66.0" fill="#000" fill-opacity="0.068"/>
<rect x="129.55" y="9.5" width="1.04" height="66.0" fill="#000" fill-opacity="0.028"/>
<rect x="241.59" y="9.5" width="1.03" height="66.0" fill="#000" fill-opacity="0.018"/>
<rect x="236.66" y="9.5" width="1.26" height="66.0" fill="#000" fill-opacity="0.064"/>
<rect x="189.85" y="9.5" width="0.62" height="66.0" fill="#000" fill-opacity="0.022"/>
<rect x="250.74" y="9.5" width="0.94" height="66.0" fill="#000" fill-opacity="0.021"/>
<rect x="243.29" y="9.5" width="1.01" height="66.0" fill="#000" fill-opacity="0.044"/>
<rect x="156.97" y="9.5" width="0.83" height="66.0" fill="#000" fill-opacity="0.024"/>
<rect x="99.47" y="9.5" width="1.20" height="66.0" fill="#000" fill-opacity="0.038"/>
<rect x="186.10" y="9.5" width="0.76" height="66.0" fill="#000" fill-opacity="0.055"/>
<rect x="97.28" y="9.5" width="0.80" height="66.0" fill="#000" fill-opacity="0.012"/>
<rect x="113.89" y="9.5" width="1.27" height="66.0" fill="#000" fill-opacity="0.049"/>
<rect x="165.80" y="9.5" width="0.92" height="66.0" fill="#000" fill-opacity="0.062"/>
<rect x="151.52" y="9.5" width="0.97" height="66.0" fill="#000" fill-opacity="0.051"/>
<rect x="153.42" y="9.5" width="0.92" height="66.0" fill="#000" fill-opacity="0.056"/>
<rect x="247.56" y="9.5" width="0.62" height="66.0" fill="#000" fill-opacity="0.066"/>
<rect x="93.88" y="9.5" width="1.10" height="66.0" fill="#000" fill-opacity="0.059"/>
<rect x="116.25" y="9.5" width="0.84" height="66.0" fill="#000" fill-opacity="0.059"/>
<rect x="95.43" y="9.5" width="1.00" height="66.0" fill="#000" fill-opacity="0.058"/>
<rect x="180.21" y="9.5" width="1.08" height="66.0" fill="#000" fill-opacity="0.024"/>
<rect x="126.75" y="9.5" width="0.79" height="66.0" fill="#000" fill-opacity="0.021"/>
<rect x="151.83" y="9.5" width="1.26" height="66.0" fill="#000" fill-opacity="0.044"/>
<rect x="150.81" y="9.5" width="0.72" height="66.0" fill="#000" fill-opacity="0.067"/>
<rect x="168.56" y="9.5" width="1.28" height="66.0" fill="#000" fill-opacity="0.041"/>
<rect x="181.60" y="9.5" width="1.22" height="66.0" fill="#000" fill-opacity="0.055"/>
<rect x="191.71" y="9.5" width="0.84" height="66.0" fill="#000" fill-opacity="0.063"/>
<rect x="162.98" y="9.5" width="1.24" height="66.0" fill="#000" fill-opacity="0.014"/>
<rect x="166.10" y="9.5" width="0.92" height="66.0" fill="#000" fill-opacity="0.067"/>
<rect x="135.67" y="9.5" width="1.14" height="66.0" fill="#000" fill-opacity="0.051"/>
<rect x="214.90" y="9.5" width="1.00" height="66.0" fill="#000" fill-opacity="0.068"/>
<rect x="149.56" y="9.5" width="0.82" height="66.0" fill="#000" fill-opacity="0.022"/>
<rect x="101.62" y="9.5" width="0.67" height="66.0" fill="#000" fill-opacity="0.065"/>
<rect x="235.83" y="9.5" width="0.59" height="66.0" fill="#000" fill-opacity="0.046"/>
<rect x="174.46" y="9.5" width="0.98" height="66.0" fill="#000" fill-opacity="0.050"/>
<rect x="145.13" y="9.5" width="1.27" height="66.0" fill="#000" fill-opacity="0.038"/>
<rect x="199.78" y="9.5" width="1.01" height="66.0" fill="#000" fill-opacity="0.021"/>
<rect x="103.52" y="9.5" width="0.83" height="66.0" fill="#000" fill-opacity="0.056"/>
<rect x="231.59" y="9.5" width="1.08" height="66.0" fill="#000" fill-opacity="0.017"/>
<rect x="103.70" y="53.00" width="2.60" height="22.50" fill="url(#g1)"/>
<rect x="102.30" y="61.00" width="5.40" height="14.50" fill="url(#g2)"/>
<rect x="104.30" y="14.00" width="1.40" height="41.00" fill="url(#g3)"/>
<rect x="112.20" y="53.00" width="2.60" height="22.50" fill="url(#g4)"/>
<rect x="110.80" y="61.00" width="5.40" height="14.50" fill="url(#g5)"/>
<rect x="112.80" y="14.00" width="1.40" height="41.00" fill="url(#g6)"/>
<rect x="120.70" y="53.00" width="2.60" height="22.50" fill="url(#g7)"/>
<rect x="119.30" y="61.00" width="5.40" height="14.50" fill="url(#g8)"/>
<rect x="121.30" y="14.00" width="1.40" height="41.00" fill="url(#g9)"/>
<rect x="128.20" y="53.00" width="2.60" height="22.50" fill="url(#g10)"/>
<rect x="126.80" y="61.00" width="5.40" height="14.50" fill="url(#g11)"/>
<rect x="128.80" y="14.00" width="1.40" height="41.00" fill="url(#g12)"/>
<rect x="137.20" y="53.00" width="2.60" height="22.50" fill="url(#g13)"/>
<rect x="135.80" y="61.00" width="5.40" height="14.50" fill="url(#g14)"/>
<rect x="137.80" y="14.00" width="1.40" height="41.00" fill="url(#g15)"/>
<rect x="146.70" y="53.00" width="2.60" height="22.50" fill="url(#g16)"/>
<rect x="145.30" y="61.00" width="5.40" height="14.50" fill="url(#g17)"/>
<rect x="147.30" y="14.00" width="1.40" height="41.00" fill="url(#g18)"/>
<rect x="96.00" y="58.00" width="3.00" height="17.50" fill="url(#g19)"/>
<rect x="94.60" y="66.00" width="5.80" height="9.50" fill="url(#g20)"/>
<rect x="96.80" y="12.00" width="1.40" height="48.00" fill="url(#g21)"/>
<rect x="95.00" y="67.50" width="6.00" height="2.00" fill="#000" fill-opacity="0.450"/>
<rect x="95.00" y="71.50" width="5.00" height="1.50" fill="#000" fill-opacity="0.350"/>
<rect x="104.00" y="71.00" width="6.00" height="1.20" fill="#000" fill-opacity="0.300"/>
<rect x="93.00" y="65.00" width="12.00" height="1.10" fill="#000" fill-opacity="0.550"/>
<rect x="93.00" y="68.00" width="62.00" height="7.50" fill="#000" fill-opacity="0.100"/>
<rect x="104.00" y="65.20" width="160.00" height="1.00" fill="#000" fill-opacity="0.300"/>
<rect x="97.00" y="10.00" width="1.20" height="65.50" fill="url(#g22)"/>
<rect x="163.00" y="10.00" width="1.60" height="65.50" fill="url(#g23)"/>
<rect x="180.50" y="11" width="1.4" height="64.5" fill="#000" fill-opacity="0.22"/>
<path d="M181.40,8.60 L184.92,11.83 L186.80,13.50" stroke="#000" stroke-opacity="0.30" stroke-width="1.4" stroke-linejoin="round" stroke-linecap="round" fill="none"/>
<ellipse cx="186.00" cy="13.20" rx="1.7" ry="1.1" fill="#000" fill-opacity="0.42"/>
<path d="M185.60,13.90 L181.80,15.50" stroke="#000" stroke-opacity="0.12" stroke-width="1.1" stroke-linecap="round" fill="none"/>
<path d="M181.40,13.30 L184.92,16.15 L186.80,17.70" stroke="#000" stroke-opacity="0.43" stroke-width="1.4" stroke-linejoin="round" stroke-linecap="round" fill="none"/>
<ellipse cx="186.00" cy="17.40" rx="1.7" ry="1.1" fill="#000" fill-opacity="0.61"/>
<path d="M185.60,18.10 L181.80,19.70" stroke="#000" stroke-opacity="0.18" stroke-width="1.1" stroke-linecap="round" fill="none"/>
<path d="M181.40,18.00 L184.92,20.48 L186.80,21.90" stroke="#000" stroke-opacity="0.43" stroke-width="1.4" stroke-linejoin="round" stroke-linecap="round" fill="none"/>
<ellipse cx="186.00" cy="21.60" rx="1.7" ry="1.1" fill="#000" fill-opacity="0.61"/>
<path d="M185.60,22.30 L181.80,23.90" stroke="#000" stroke-opacity="0.18" stroke-width="1.1" stroke-linecap="round" fill="none"/>
<path d="M181.40,23.40 L184.92,25.50 L186.80,26.80" stroke="#000" stroke-opacity="0.43" stroke-width="1.4" stroke-linejoin="round" stroke-linecap="round" fill="none"/>
<ellipse cx="186.00" cy="26.50" rx="1.7" ry="1.1" fill="#000" fill-opacity="0.61"/>
<path d="M185.60,27.20 L181.80,28.80" stroke="#000" stroke-opacity="0.18" stroke-width="1.1" stroke-linecap="round" fill="none"/>
<path d="M181.40,28.20 L184.92,29.93 L186.80,31.10" stroke="#000" stroke-opacity="0.43" stroke-width="1.4" stroke-linejoin="round" stroke-linecap="round" fill="none"/>
<ellipse cx="186.00" cy="30.80" rx="1.7" ry="1.1" fill="#000" fill-opacity="0.61"/>
<path d="M185.60,31.50 L181.80,33.10" stroke="#000" stroke-opacity="0.18" stroke-width="1.1" stroke-linecap="round" fill="none"/>
<path d="M181.40,35.30 L184.92,36.65 L186.80,37.70" stroke="#000" stroke-opacity="0.43" stroke-width="1.4" stroke-linejoin="round" stroke-linecap="round" fill="none"/>
<ellipse cx="186.00" cy="37.40" rx="1.7" ry="1.1" fill="#000" fill-opacity="0.61"/>
<path d="M185.60,38.10 L181.80,39.70" stroke="#000" stroke-opacity="0.18" stroke-width="1.1" stroke-linecap="round" fill="none"/>
<path d="M181.40,45.50 L184.92,46.47 L186.80,47.40" stroke="#000" stroke-opacity="0.43" stroke-width="1.4" stroke-linejoin="round" stroke-linecap="round" fill="none"/>
<ellipse cx="186.00" cy="47.10" rx="1.7" ry="1.1" fill="#000" fill-opacity="0.61"/>
<path d="M185.60,47.80 L181.80,49.40" stroke="#000" stroke-opacity="0.18" stroke-width="1.1" stroke-linecap="round" fill="none"/>
<path d="M181.40,56.20 L184.92,56.80 L186.80,57.60" stroke="#000" stroke-opacity="0.43" stroke-width="1.4" stroke-linejoin="round" stroke-linecap="round" fill="none"/>
<ellipse cx="186.00" cy="57.30" rx="1.7" ry="1.1" fill="#000" fill-opacity="0.61"/>
<path d="M185.60,58.00 L181.80,59.60" stroke="#000" stroke-opacity="0.18" stroke-width="1.1" stroke-linecap="round" fill="none"/>
<path d="M180.7,63.8 L181.7,65.8 L190.2,65.8" stroke="#000" stroke-opacity="0.9" stroke-width="1.8" fill="none"/>
<rect x="190.20" y="65.00" width="14.00" height="1.6" fill="#000" fill-opacity="0.4"/>
<rect x="214.80" y="11" width="1.4" height="64.5" fill="#000" fill-opacity="0.22"/>
<path d="M215.70,8.10 L218.86,10.58 L220.50,12.00" stroke="#000" stroke-opacity="0.26" stroke-width="1.4" stroke-linejoin="round" stroke-linecap="round" fill="none"/>
<ellipse cx="219.70" cy="11.70" rx="1.7" ry="1.1" fill="#000" fill-opacity="0.37"/>
<path d="M219.30,12.40 L216.10,14.00" stroke="#000" stroke-opacity="0.11" stroke-width="1.1" stroke-linecap="round" fill="none"/>
<path d="M215.70,17.20 L218.86,19.30 L220.50,20.60" stroke="#000" stroke-opacity="0.38" stroke-width="1.4" stroke-linejoin="round" stroke-linecap="round" fill="none"/>
<ellipse cx="219.70" cy="20.30" rx="1.7" ry="1.1" fill="#000" fill-opacity="0.54"/>
<path d="M219.30,21.00 L216.10,22.60" stroke="#000" stroke-opacity="0.16" stroke-width="1.1" stroke-linecap="round" fill="none"/>
<path d="M215.70,27.70 L218.86,29.43 L220.50,30.60" stroke="#000" stroke-opacity="0.38" stroke-width="1.4" stroke-linejoin="round" stroke-linecap="round" fill="none"/>
<ellipse cx="219.70" cy="30.30" rx="1.7" ry="1.1" fill="#000" fill-opacity="0.54"/>
<path d="M219.30,31.00 L216.10,32.60" stroke="#000" stroke-opacity="0.16" stroke-width="1.1" stroke-linecap="round" fill="none"/>
<path d="M215.70,37.50 L218.86,38.85 L220.50,39.90" stroke="#000" stroke-opacity="0.38" stroke-width="1.4" stroke-linejoin="round" stroke-linecap="round" fill="none"/>
<ellipse cx="219.70" cy="39.60" rx="1.7" ry="1.1" fill="#000" fill-opacity="0.54"/>
<path d="M219.30,40.30 L216.10,41.90" stroke="#000" stroke-opacity="0.16" stroke-width="1.1" stroke-linecap="round" fill="none"/>
<path d="M215.70,45.70 L218.86,46.67 L220.50,47.60" stroke="#000" stroke-opacity="0.38" stroke-width="1.4" stroke-linejoin="round" stroke-linecap="round" fill="none"/>
<ellipse cx="219.70" cy="47.30" rx="1.7" ry="1.1" fill="#000" fill-opacity="0.54"/>
<path d="M219.30,48.00 L216.10,49.60" stroke="#000" stroke-opacity="0.16" stroke-width="1.1" stroke-linecap="round" fill="none"/>
<path d="M215.70,55.60 L218.86,56.20 L220.50,57.00" stroke="#000" stroke-opacity="0.38" stroke-width="1.4" stroke-linejoin="round" stroke-linecap="round" fill="none"/>
<ellipse cx="219.70" cy="56.70" rx="1.7" ry="1.1" fill="#000" fill-opacity="0.54"/>
<path d="M219.30,57.40 L216.10,59.00" stroke="#000" stroke-opacity="0.16" stroke-width="1.1" stroke-linecap="round" fill="none"/>
<path d="M215.0,64 L216.0,66 L224.5,66" stroke="#000" stroke-opacity="0.8" stroke-width="1.8" fill="none"/>
<rect x="224.50" y="65.20" width="15.00" height="1.6" fill="#000" fill-opacity="0.35"/>
<rect x="245.80" y="11" width="1.4" height="64.5" fill="#000" fill-opacity="0.22"/>
<path d="M246.70,9.20 L249.86,11.68 L251.50,13.10" stroke="#000" stroke-opacity="0.26" stroke-width="1.4" stroke-linejoin="round" stroke-linecap="round" fill="none"/>
<ellipse cx="250.70" cy="12.80" rx="1.7" ry="1.1" fill="#000" fill-opacity="0.37"/>
<path d="M250.30,13.50 L247.10,15.10" stroke="#000" stroke-opacity="0.11" stroke-width="1.1" stroke-linecap="round" fill="none"/>
<path d="M246.70,15.80 L249.86,17.90 L251.50,19.20" stroke="#000" stroke-opacity="0.38" stroke-width="1.4" stroke-linejoin="round" stroke-linecap="round" fill="none"/>
<ellipse cx="250.70" cy="18.90" rx="1.7" ry="1.1" fill="#000" fill-opacity="0.54"/>
<path d="M250.30,19.60 L247.10,21.20" stroke="#000" stroke-opacity="0.16" stroke-width="1.1" stroke-linecap="round" fill="none"/>
<path d="M246.70,24.70 L249.86,26.43 L251.50,27.60" stroke="#000" stroke-opacity="0.38" stroke-width="1.4" stroke-linejoin="round" stroke-linecap="round" fill="none"/>
<ellipse cx="250.70" cy="27.30" rx="1.7" ry="1.1" fill="#000" fill-opacity="0.54"/>
<path d="M250.30,28.00 L247.10,29.60" stroke="#000" stroke-opacity="0.16" stroke-width="1.1" stroke-linecap="round" fill="none"/>
<path d="M246.70,35.20 L249.86,36.55 L251.50,37.60" stroke="#000" stroke-opacity="0.38" stroke-width="1.4" stroke-linejoin="round" stroke-linecap="round" fill="none"/>
<ellipse cx="250.70" cy="37.30" rx="1.7" ry="1.1" fill="#000" fill-opacity="0.54"/>
<path d="M250.30,38.00 L247.10,39.60" stroke="#000" stroke-opacity="0.16" stroke-width="1.1" stroke-linecap="round" fill="none"/>
<path d="M246.70,44.40 L249.86,45.38 L251.50,46.30" stroke="#000" stroke-opacity="0.38" stroke-width="1.4" stroke-linejoin="round" stroke-linecap="round" fill="none"/>
<ellipse cx="250.70" cy="46.00" rx="1.7" ry="1.1" fill="#000" fill-opacity="0.54"/>
<path d="M250.30,46.70 L247.10,48.30" stroke="#000" stroke-opacity="0.16" stroke-width="1.1" stroke-linecap="round" fill="none"/>
<path d="M246.70,55.20 L249.86,55.80 L251.50,56.60" stroke="#000" stroke-opacity="0.38" stroke-width="1.4" stroke-linejoin="round" stroke-linecap="round" fill="none"/>
<ellipse cx="250.70" cy="56.30" rx="1.7" ry="1.1" fill="#000" fill-opacity="0.54"/>
<path d="M250.30,57.00 L247.10,58.60" stroke="#000" stroke-opacity="0.16" stroke-width="1.1" stroke-linecap="round" fill="none"/>
<path d="M246.0,64 L247.0,66 L255.5,66" stroke="#000" stroke-opacity="0.8" stroke-width="1.8" fill="none"/>
<rect x="255.50" y="65.20" width="7.00" height="1.6" fill="#000" fill-opacity="0.4"/>
<rect x="181.00" y="66.50" width="82.00" height="9.00" fill="#000" fill-opacity="0.140"/>
</g>
<line x1="92.6" y1="9" x2="92.6" y2="76.4" stroke="#000" stroke-width="1.6"/>
<line x1="91.8" y1="76.0" x2="264.5" y2="76.0" stroke="#000" stroke-width="1.6"/>
<rect x="242.7" y="9.8" width="21.1" height="65.8" fill="none" stroke="#000" stroke-width="1.5"/>
<text x="88.8" y="16.6" style="font-family:'DejaVu Sans',sans-serif;font-size:7.6px" text-anchor="end" >5</text>
<text x="88.8" y="29.3" style="font-family:'DejaVu Sans',sans-serif;font-size:7.6px" text-anchor="end" >4</text>
<text x="88.8" y="41.8" style="font-family:'DejaVu Sans',sans-serif;font-size:7.6px" text-anchor="end" >3</text>
<text x="88.8" y="54.3" style="font-family:'DejaVu Sans',sans-serif;font-size:7.6px" text-anchor="end" >2</text>
<text x="88.8" y="66.8" style="font-family:'DejaVu Sans',sans-serif;font-size:7.6px" text-anchor="end" >1</text>
<text x="0" y="0" style="font-family:'DejaVu Sans',sans-serif;font-size:6.6px" text-anchor="middle" transform="translate(94.5,85) scale(1.18,1)">0</text>
<text x="0" y="0" style="font-family:'DejaVu Sans',sans-serif;font-size:6.6px" text-anchor="middle" transform="translate(165.6,85) scale(1.18,1)">10</text>
<text x="0" y="0" style="font-family:'DejaVu Sans',sans-serif;font-size:6.6px" text-anchor="middle" transform="translate(231.0,85) scale(1.18,1)">20</text>
<text x="167.5" y="94.8" style="font-family:'DejaVu Sans',sans-serif;font-size:6.5px" text-anchor="middle" >Time (s)</text>
<text x="171.5" y="5.2" style="font-family:'Liberation Sans',Arial,sans-serif;font-size:6.9px" text-anchor="middle" >Phrase</text>
<text x="0" y="0" style="font-family:'DejaVu Sans',sans-serif;font-size:7.8px" text-anchor="middle" transform="translate(74.7,40.3) rotate(-90) scale(1.07,1)">Frequency (kHz)</text>
<g filter="url(#spec)">
<rect x="313.00" y="16.50" width="54.00" height="51.00" fill="#f3f3f3" fill-opacity="1.000"/>
<rect x="361.41" y="16.5" width="1.14" height="51.0" fill="#000" fill-opacity="0.063"/>
<rect x="340.74" y="16.5" width="1.23" height="51.0" fill="#000" fill-opacity="0.013"/>
<rect x="314.61" y="16.5" width="0.52" height="51.0" fill="#000" fill-opacity="0.025"/>
<rect x="326.17" y="16.5" width="0.65" height="51.0" fill="#000" fill-opacity="0.044"/>
<rect x="315.07" y="16.5" width="0.97" height="51.0" fill="#000" fill-opacity="0.020"/>
<rect x="348.93" y="16.5" width="0.52" height="51.0" fill="#000" fill-opacity="0.029"/>
<rect x="362.73" y="16.5" width="0.93" height="51.0" fill="#000" fill-opacity="0.059"/>
<rect x="347.88" y="16.5" width="0.99" height="51.0" fill="#000" fill-opacity="0.021"/>
<rect x="343.44" y="16.5" width="0.53" height="51.0" fill="#000" fill-opacity="0.058"/>
<rect x="363.88" y="16.5" width="1.18" height="51.0" fill="#000" fill-opacity="0.013"/>
<rect x="330.95" y="16.5" width="0.75" height="51.0" fill="#000" fill-opacity="0.017"/>
<rect x="346.21" y="16.5" width="1.14" height="51.0" fill="#000" fill-opacity="0.029"/>
<rect x="358.73" y="16.5" width="1.14" height="51.0" fill="#000" fill-opacity="0.018"/>
<rect x="353.64" y="16.5" width="1.21" height="51.0" fill="#000" fill-opacity="0.022"/>
<rect x="343.40" y="16.5" width="1.01" height="51.0" fill="#000" fill-opacity="0.047"/>
<rect x="318.10" y="16.5" width="1.03" height="51.0" fill="#000" fill-opacity="0.048"/>
<rect x="356.67" y="16.5" width="1.14" height="51.0" fill="#000" fill-opacity="0.030"/>
<rect x="351.27" y="16.5" width="1.19" height="51.0" fill="#000" fill-opacity="0.064"/>
<rect x="321.56" y="16.5" width="0.52" height="51.0" fill="#000" fill-opacity="0.049"/>
<rect x="324.38" y="16.5" width="0.95" height="51.0" fill="#000" fill-opacity="0.067"/>
<rect x="333.10" y="16.5" width="0.70" height="51.0" fill="#000" fill-opacity="0.037"/>
<rect x="347.83" y="16.5" width="0.58" height="51.0" fill="#000" fill-opacity="0.033"/>
<rect x="320.09" y="16.5" width="1.03" height="51.0" fill="#000" fill-opacity="0.060"/>
<rect x="332.97" y="16.5" width="0.80" height="51.0" fill="#000" fill-opacity="0.042"/>
<rect x="324.40" y="16.5" width="0.70" height="51.0" fill="#000" fill-opacity="0.030"/>
<rect x="337.24" y="16.5" width="0.57" height="51.0" fill="#000" fill-opacity="0.055"/>
<rect x="343.69" y="16.5" width="0.74" height="51.0" fill="#000" fill-opacity="0.015"/>
<rect x="353.45" y="16.5" width="0.60" height="51.0" fill="#000" fill-opacity="0.018"/>
<rect x="319.93" y="16.5" width="0.57" height="51.0" fill="#000" fill-opacity="0.064"/>
<rect x="327.27" y="16.5" width="0.75" height="51.0" fill="#000" fill-opacity="0.060"/>
<rect x="328.30" y="17.00" width="1.80" height="50.50" fill="url(#g24)"/>
<rect x="327.00" y="17.00" width="5.00" height="50.00" fill="#000" fill-opacity="0.080"/>
<rect x="336.00" y="17.00" width="31.00" height="18.00" fill="#000" fill-opacity="0.090"/>
<rect x="331.00" y="30.00" width="36.00" height="7.00" fill="#000" fill-opacity="0.060"/>
<rect x="331.00" y="44.00" width="35.00" height="8.00" fill="#000" fill-opacity="0.080"/>
<rect x="330.00" y="55.50" width="36.00" height="12.00" fill="#000" fill-opacity="0.130"/>
<rect x="313.00" y="52.30" width="16.00" height="1.10" fill="#000" fill-opacity="0.200"/>
<path d="M330.5,21.5 C333,24 338,26.5 346,27.8" transform="translate(0,1.6)" stroke="#000" stroke-opacity="0.22" stroke-width="3.8" fill="none" stroke-linecap="round"/>
<path d="M330.5,21.5 C333,24 338,26.5 346,27.8" stroke="#000" stroke-opacity="0.75" stroke-width="2.8" fill="none" stroke-linecap="round"/>
<path d="M346,27.8 C352,28.3 358,28.4 363,28.6" stroke="#000" stroke-opacity="0.26" stroke-width="2.2399999999999998" fill="none"/>
<path d="M330.5,37.8 C333,39.5 338,41.3 346,42.2" transform="translate(0,1.6)" stroke="#000" stroke-opacity="0.22" stroke-width="3.6" fill="none" stroke-linecap="round"/>
<path d="M330.5,37.8 C333,39.5 338,41.3 346,42.2" stroke="#000" stroke-opacity="0.75" stroke-width="2.6" fill="none" stroke-linecap="round"/>
<path d="M346,42.2 C352,42.5 358,42.7 364,42.8" stroke="#000" stroke-opacity="0.26" stroke-width="2.08" fill="none"/>
<path d="M329.5,53 C331,53.8 334,54 340,54.1 L362,54.4" transform="translate(0,1.6)" stroke="#000" stroke-opacity="0.27" stroke-width="3.6" fill="none" stroke-linecap="round"/>
<path d="M329.5,53 C331,53.8 334,54 340,54.1 L362,54.4" stroke="#000" stroke-opacity="0.90" stroke-width="2.6" fill="none" stroke-linecap="round"/>
<path d="M362,54.4 L366,54.5" stroke="#000" stroke-opacity="0.32" stroke-width="2.08" fill="none"/>
<rect x="329.00" y="60.00" width="3.00" height="7.00" fill="#000" fill-opacity="0.300"/>
</g>
<line x1="312" y1="16.2" x2="312" y2="69" stroke="#000" stroke-width="1.6"/>
<line x1="311.3" y1="68.3" x2="368" y2="68.3" stroke="#000" stroke-width="1.6"/>
<text x="308.8" y="24.7" style="font-family:'DejaVu Sans',sans-serif;font-size:6.4px" text-anchor="end" >2</text>
<text x="308.8" y="49.2" style="font-family:'DejaVu Sans',sans-serif;font-size:6.4px" text-anchor="end" >1</text>
<text x="308.8" y="72.4" style="font-family:'DejaVu Sans',sans-serif;font-size:6.4px" text-anchor="end" >0</text>
<text x="311.6" y="76" style="font-family:'DejaVu Sans',sans-serif;font-size:6.4px" text-anchor="middle" >0</text>
<text x="337" y="76" style="font-family:'DejaVu Sans',sans-serif;font-size:6.4px" text-anchor="middle" >1</text>
<text x="363.1" y="76" style="font-family:'DejaVu Sans',sans-serif;font-size:6.4px" text-anchor="middle" >2</text>
<text x="342" y="86.5" style="font-family:'DejaVu Sans',sans-serif;font-size:6.4px" text-anchor="middle" >Time (s)</text>
<text x="337.4" y="11" style="font-family:'Liberation Sans',Arial,sans-serif;font-size:7.1px" text-anchor="middle" >Unit</text>
<line x1="264" y1="44.4" x2="300.6" y2="17.5" stroke="#000" stroke-width="1.5"/>
<line x1="264" y1="44.4" x2="300.6" y2="70.6" stroke="#000" stroke-width="1.5"/>
<line x1="93.3" y1="88.9" x2="172.3" y2="127.7" stroke="#000" stroke-width="1.5"/>
<line x1="263.6" y1="85" x2="172.3" y2="127.7" stroke="#000" stroke-width="1.5"/>
<g filter="url(#spec)">
<rect x="17.00" y="129.00" width="429.00" height="44.50" fill="#f5f5f5" fill-opacity="1.000"/>
<rect x="282.33" y="129" width="0.65" height="44.5" fill="#000" fill-opacity="0.036"/>
<rect x="395.32" y="129" width="0.80" height="44.5" fill="#000" fill-opacity="0.053"/>
<rect x="58.43" y="129" width="1.08" height="44.5" fill="#000" fill-opacity="0.057"/>
<rect x="370.43" y="129" width="1.04" height="44.5" fill="#000" fill-opacity="0.032"/>
<rect x="44.48" y="129" width="0.92" height="44.5" fill="#000" fill-opacity="0.055"/>
<rect x="98.68" y="129" width="0.71" height="44.5" fill="#000" fill-opacity="0.042"/>
<rect x="337.29" y="129" width="1.22" height="44.5" fill="#000" fill-opacity="0.018"/>
<rect x="95.87" y="129" width="1.14" height="44.5" fill="#000" fill-opacity="0.049"/>
<rect x="325.58" y="129" width="1.30" height="44.5" fill="#000" fill-opacity="0.066"/>
<rect x="377.81" y="129" width="1.12" height="44.5" fill="#000" fill-opacity="0.034"/>
<rect x="291.45" y="129" width="0.65" height="44.5" fill="#000" fill-opacity="0.056"/>
<rect x="341.29" y="129" width="1.08" height="44.5" fill="#000" fill-opacity="0.037"/>
<rect x="178.86" y="129" width="0.84" height="44.5" fill="#000" fill-opacity="0.012"/>
<rect x="378.37" y="129" width="0.93" height="44.5" fill="#000" fill-opacity="0.033"/>
<rect x="251.56" y="129" width="1.08" height="44.5" fill="#000" fill-opacity="0.033"/>
<rect x="372.51" y="129" width="1.24" height="44.5" fill="#000" fill-opacity="0.033"/>
<rect x="75.99" y="129" width="1.11" height="44.5" fill="#000" fill-opacity="0.070"/>
<rect x="80.34" y="129" width="1.07" height="44.5" fill="#000" fill-opacity="0.060"/>
<rect x="411.00" y="129" width="0.60" height="44.5" fill="#000" fill-opacity="0.016"/>
<rect x="439.81" y="129" width="0.59" height="44.5" fill="#000" fill-opacity="0.021"/>
<rect x="263.08" y="129" width="0.86" height="44.5" fill="#000" fill-opacity="0.055"/>
<rect x="98.56" y="129" width="1.23" height="44.5" fill="#000" fill-opacity="0.023"/>
<rect x="346.18" y="129" width="0.55" height="44.5" fill="#000" fill-opacity="0.038"/>
<rect x="30.93" y="129" width="0.75" height="44.5" fill="#000" fill-opacity="0.029"/>
<rect x="325.05" y="129" width="0.86" height="44.5" fill="#000" fill-opacity="0.013"/>
<rect x="443.01" y="129" width="1.21" height="44.5" fill="#000" fill-opacity="0.065"/>
<rect x="122.53" y="129" width="0.82" height="44.5" fill="#000" fill-opacity="0.024"/>
<rect x="70.46" y="129" width="0.53" height="44.5" fill="#000" fill-opacity="0.040"/>
<rect x="69.70" y="129" width="0.64" height="44.5" fill="#000" fill-opacity="0.062"/>
<rect x="224.26" y="129" width="0.65" height="44.5" fill="#000" fill-opacity="0.050"/>
<rect x="130.79" y="129" width="0.92" height="44.5" fill="#000" fill-opacity="0.027"/>
<rect x="237.92" y="129" width="1.00" height="44.5" fill="#000" fill-opacity="0.042"/>
<rect x="186.32" y="129" width="1.13" height="44.5" fill="#000" fill-opacity="0.062"/>
<rect x="93.77" y="129" width="0.61" height="44.5" fill="#000" fill-opacity="0.017"/>
<rect x="436.27" y="129" width="1.25" height="44.5" fill="#000" fill-opacity="0.024"/>
<rect x="432.12" y="129" width="0.67" height="44.5" fill="#000" fill-opacity="0.040"/>
<rect x="229.88" y="129" width="1.23" height="44.5" fill="#000" fill-opacity="0.012"/>
<rect x="151.97" y="129" width="0.98" height="44.5" fill="#000" fill-opacity="0.014"/>
<rect x="118.24" y="129" width="0.87" height="44.5" fill="#000" fill-opacity="0.063"/>
<rect x="342.69" y="129" width="1.16" height="44.5" fill="#000" fill-opacity="0.056"/>
<rect x="319.90" y="129" width="1.18" height="44.5" fill="#000" fill-opacity="0.051"/>
<rect x="331.87" y="129" width="0.74" height="44.5" fill="#000" fill-opacity="0.020"/>
<rect x="340.79" y="129" width="0.63" height="44.5" fill="#000" fill-opacity="0.065"/>
<rect x="272.36" y="129" width="0.76" height="44.5" fill="#000" fill-opacity="0.066"/>
<rect x="83.40" y="129" width="0.91" height="44.5" fill="#000" fill-opacity="0.015"/>
<rect x="430.20" y="129" width="0.96" height="44.5" fill="#000" fill-opacity="0.058"/>
<rect x="137.66" y="129" width="1.14" height="44.5" fill="#000" fill-opacity="0.052"/>
<rect x="292.50" y="129" width="1.26" height="44.5" fill="#000" fill-opacity="0.036"/>
<rect x="194.66" y="129" width="1.05" height="44.5" fill="#000" fill-opacity="0.060"/>
<rect x="160.41" y="129" width="1.04" height="44.5" fill="#000" fill-opacity="0.023"/>
<rect x="253.13" y="129" width="1.12" height="44.5" fill="#000" fill-opacity="0.014"/>
<rect x="328.52" y="129" width="0.51" height="44.5" fill="#000" fill-opacity="0.068"/>
<rect x="217.59" y="129" width="0.83" height="44.5" fill="#000" fill-opacity="0.053"/>
<rect x="240.97" y="129" width="1.08" height="44.5" fill="#000" fill-opacity="0.015"/>
<rect x="257.87" y="129" width="0.95" height="44.5" fill="#000" fill-opacity="0.066"/>
<rect x="33.95" y="129" width="0.86" height="44.5" fill="#000" fill-opacity="0.048"/>
<rect x="252.72" y="129" width="0.56" height="44.5" fill="#000" fill-opacity="0.046"/>
<rect x="112.10" y="129" width="0.66" height="44.5" fill="#000" fill-opacity="0.063"/>
<rect x="101.68" y="129" width="0.86" height="44.5" fill="#000" fill-opacity="0.055"/>
<rect x="319.73" y="129" width="0.94" height="44.5" fill="#000" fill-opacity="0.058"/>
<rect x="216.37" y="129" width="1.00" height="44.5" fill="#000" fill-opacity="0.059"/>
<rect x="307.22" y="129" width="1.01" height="44.5" fill="#000" fill-opacity="0.034"/>
<rect x="255.96" y="129" width="0.82" height="44.5" fill="#000" fill-opacity="0.055"/>
<rect x="179.82" y="129" width="0.87" height="44.5" fill="#000" fill-opacity="0.055"/>
<rect x="232.56" y="129" width="0.77" height="44.5" fill="#000" fill-opacity="0.060"/>
<rect x="180.05" y="129" width="1.18" height="44.5" fill="#000" fill-opacity="0.057"/>
<rect x="208.44" y="129" width="1.07" height="44.5" fill="#000" fill-opacity="0.012"/>
<rect x="183.83" y="129" width="1.19" height="44.5" fill="#000" fill-opacity="0.045"/>
<rect x="255.75" y="129" width="1.03" height="44.5" fill="#000" fill-opacity="0.051"/>
<rect x="266.78" y="129" width="0.84" height="44.5" fill="#000" fill-opacity="0.021"/>
<rect x="142.25" y="129" width="0.73" height="44.5" fill="#000" fill-opacity="0.036"/>
<rect x="444.60" y="129" width="0.78" height="44.5" fill="#000" fill-opacity="0.037"/>
<rect x="176.06" y="129" width="0.97" height="44.5" fill="#000" fill-opacity="0.067"/>
<rect x="397.52" y="129" width="0.80" height="44.5" fill="#000" fill-opacity="0.026"/>
<rect x="395.52" y="129" width="0.90" height="44.5" fill="#000" fill-opacity="0.051"/>
<rect x="48.37" y="129" width="1.19" height="44.5" fill="#000" fill-opacity="0.029"/>
<rect x="228.66" y="129" width="0.66" height="44.5" fill="#000" fill-opacity="0.035"/>
<rect x="371.40" y="129" width="1.16" height="44.5" fill="#000" fill-opacity="0.038"/>
<rect x="345.67" y="129" width="0.87" height="44.5" fill="#000" fill-opacity="0.032"/>
<rect x="250.64" y="129" width="0.66" height="44.5" fill="#000" fill-opacity="0.029"/>
<rect x="319.39" y="129" width="1.12" height="44.5" fill="#000" fill-opacity="0.013"/>
<rect x="330.65" y="129" width="1.15" height="44.5" fill="#000" fill-opacity="0.037"/>
<rect x="43.73" y="129" width="1.05" height="44.5" fill="#000" fill-opacity="0.025"/>
<rect x="292.36" y="129" width="0.80" height="44.5" fill="#000" fill-opacity="0.048"/>
<rect x="127.48" y="129" width="0.88" height="44.5" fill="#000" fill-opacity="0.041"/>
<rect x="287.07" y="129" width="0.66" height="44.5" fill="#000" fill-opacity="0.068"/>
<rect x="140.75" y="129" width="0.74" height="44.5" fill="#000" fill-opacity="0.025"/>
<rect x="45.88" y="129" width="0.84" height="44.5" fill="#000" fill-opacity="0.056"/>
<rect x="320.69" y="129" width="0.66" height="44.5" fill="#000" fill-opacity="0.018"/>
<rect x="154.57" y="129" width="1.11" height="44.5" fill="#000" fill-opacity="0.039"/>
<rect x="412.12" y="129" width="1.03" height="44.5" fill="#000" fill-opacity="0.047"/>
<rect x="345.57" y="129" width="1.10" height="44.5" fill="#000" fill-opacity="0.031"/>
<rect x="127.00" y="129" width="0.85" height="44.5" fill="#000" fill-opacity="0.039"/>
<rect x="77.66" y="129" width="0.85" height="44.5" fill="#000" fill-opacity="0.048"/>
<rect x="75.09" y="129" width="0.61" height="44.5" fill="#000" fill-opacity="0.020"/>
<rect x="138.27" y="129" width="1.27" height="44.5" fill="#000" fill-opacity="0.012"/>
<rect x="95.64" y="129" width="0.63" height="44.5" fill="#000" fill-opacity="0.038"/>
<rect x="23.45" y="129" width="0.87" height="44.5" fill="#000" fill-opacity="0.020"/>
<rect x="132.41" y="129" width="1.13" height="44.5" fill="#000" fill-opacity="0.021"/>
<rect x="281.13" y="129" width="0.83" height="44.5" fill="#000" fill-opacity="0.035"/>
<rect x="366.61" y="129" width="0.63" height="44.5" fill="#000" fill-opacity="0.065"/>
<rect x="399.41" y="129" width="1.03" height="44.5" fill="#000" fill-opacity="0.013"/>
<rect x="300.90" y="129" width="0.98" height="44.5" fill="#000" fill-opacity="0.056"/>
<rect x="108.52" y="129" width="1.26" height="44.5" fill="#000" fill-opacity="0.063"/>
<rect x="65.94" y="129" width="0.75" height="44.5" fill="#000" fill-opacity="0.012"/>
<rect x="372.65" y="129" width="1.23" height="44.5" fill="#000" fill-opacity="0.069"/>
<rect x="278.90" y="129" width="1.03" height="44.5" fill="#000" fill-opacity="0.051"/>
<rect x="261.02" y="129" width="1.26" height="44.5" fill="#000" fill-opacity="0.046"/>
<rect x="160.69" y="129" width="0.91" height="44.5" fill="#000" fill-opacity="0.011"/>
<rect x="326.93" y="129" width="1.06" height="44.5" fill="#000" fill-opacity="0.035"/>
<rect x="381.43" y="129" width="1.10" height="44.5" fill="#000" fill-opacity="0.030"/>
<rect x="50.17" y="129" width="0.61" height="44.5" fill="#000" fill-opacity="0.021"/>
<rect x="147.08" y="129" width="0.86" height="44.5" fill="#000" fill-opacity="0.066"/>
<rect x="136.16" y="129" width="1.22" height="44.5" fill="#000" fill-opacity="0.051"/>
<rect x="382.29" y="129" width="0.82" height="44.5" fill="#000" fill-opacity="0.010"/>
<rect x="353.82" y="129" width="0.70" height="44.5" fill="#000" fill-opacity="0.019"/>
<rect x="359.18" y="129" width="1.05" height="44.5" fill="#000" fill-opacity="0.023"/>
<rect x="131.53" y="129" width="1.25" height="44.5" fill="#000" fill-opacity="0.026"/>
<rect x="317.63" y="129" width="0.60" height="44.5" fill="#000" fill-opacity="0.059"/>
<rect x="67.33" y="129" width="0.91" height="44.5" fill="#000" fill-opacity="0.012"/>
<rect x="252.43" y="129" width="1.18" height="44.5" fill="#000" fill-opacity="0.015"/>
<rect x="134.38" y="129" width="1.11" height="44.5" fill="#000" fill-opacity="0.046"/>
<rect x="150.88" y="129" width="1.00" height="44.5" fill="#000" fill-opacity="0.037"/>
<rect x="386.09" y="129" width="0.73" height="44.5" fill="#000" fill-opacity="0.055"/>
<rect x="289.07" y="129" width="1.09" height="44.5" fill="#000" fill-opacity="0.033"/>
<rect x="327.27" y="129" width="1.06" height="44.5" fill="#000" fill-opacity="0.033"/>
<rect x="28.32" y="129" width="1.27" height="44.5" fill="#000" fill-opacity="0.053"/>
<rect x="104.63" y="129" width="1.08" height="44.5" fill="#000" fill-opacity="0.027"/>
<rect x="217.85" y="129" width="1.19" height="44.5" fill="#000" fill-opacity="0.037"/>
<rect x="140.27" y="129" width="0.74" height="44.5" fill="#000" fill-opacity="0.015"/>
<rect x="110.95" y="129" width="0.72" height="44.5" fill="#000" fill-opacity="0.020"/>
<rect x="43.99" y="129" width="0.87" height="44.5" fill="#000" fill-opacity="0.023"/>
<rect x="333.19" y="129" width="1.24" height="44.5" fill="#000" fill-opacity="0.026"/>
<rect x="261.92" y="129" width="0.91" height="44.5" fill="#000" fill-opacity="0.015"/>
<rect x="70.45" y="129" width="1.21" height="44.5" fill="#000" fill-opacity="0.038"/>
<rect x="361.37" y="129" width="0.55" height="44.5" fill="#000" fill-opacity="0.046"/>
<rect x="387.35" y="129" width="1.19" height="44.5" fill="#000" fill-opacity="0.010"/>
<rect x="240.30" y="129" width="0.80" height="44.5" fill="#000" fill-opacity="0.056"/>
<rect x="48.34" y="129" width="0.71" height="44.5" fill="#000" fill-opacity="0.059"/>
<rect x="217.97" y="129" width="0.86" height="44.5" fill="#000" fill-opacity="0.068"/>
<rect x="153.91" y="129" width="0.53" height="44.5" fill="#000" fill-opacity="0.034"/>
<rect x="82.64" y="129" width="0.57" height="44.5" fill="#000" fill-opacity="0.044"/>
<rect x="425.13" y="129" width="0.96" height="44.5" fill="#000" fill-opacity="0.049"/>
<rect x="155.51" y="129" width="0.96" height="44.5" fill="#000" fill-opacity="0.055"/>
<rect x="269.21" y="129" width="1.14" height="44.5" fill="#000" fill-opacity="0.043"/>
<rect x="101.81" y="129" width="0.97" height="44.5" fill="#000" fill-opacity="0.039"/>
<rect x="88.02" y="129" width="1.00" height="44.5" fill="#000" fill-opacity="0.059"/>
<rect x="74.82" y="129" width="0.94" height="44.5" fill="#000" fill-opacity="0.054"/>
<rect x="189.49" y="129" width="0.72" height="44.5" fill="#000" fill-opacity="0.032"/>
<rect x="248.85" y="129" width="1.05" height="44.5" fill="#000" fill-opacity="0.044"/>
<rect x="62.81" y="129" width="1.15" height="44.5" fill="#000" fill-opacity="0.065"/>
<rect x="60.35" y="129" width="0.70" height="44.5" fill="#000" fill-opacity="0.020"/>
<rect x="380.44" y="129" width="1.23" height="44.5" fill="#000" fill-opacity="0.013"/>
<rect x="159.28" y="129" width="0.65" height="44.5" fill="#000" fill-opacity="0.038"/>
<rect x="411.44" y="129" width="0.56" height="44.5" fill="#000" fill-opacity="0.020"/>
<rect x="225.45" y="129" width="0.92" height="44.5" fill="#000" fill-opacity="0.055"/>
<rect x="204.33" y="129" width="0.61" height="44.5" fill="#000" fill-opacity="0.031"/>
<rect x="437.34" y="129" width="1.10" height="44.5" fill="#000" fill-opacity="0.017"/>
<rect x="362.91" y="129" width="0.75" height="44.5" fill="#000" fill-opacity="0.057"/>
<rect x="22.44" y="129" width="1.20" height="44.5" fill="#000" fill-opacity="0.020"/>
<rect x="212.06" y="129" width="1.03" height="44.5" fill="#000" fill-opacity="0.040"/>
<rect x="87.79" y="129" width="0.61" height="44.5" fill="#000" fill-opacity="0.027"/>
<rect x="39.42" y="129" width="0.67" height="44.5" fill="#000" fill-opacity="0.018"/>
<rect x="215.93" y="129" width="0.79" height="44.5" fill="#000" fill-opacity="0.045"/>
<rect x="137.22" y="129" width="0.53" height="44.5" fill="#000" fill-opacity="0.030"/>
<rect x="340.22" y="129" width="0.70" height="44.5" fill="#000" fill-opacity="0.034"/>
<rect x="340.13" y="129" width="0.83" height="44.5" fill="#000" fill-opacity="0.063"/>
<rect x="409.93" y="129" width="0.75" height="44.5" fill="#000" fill-opacity="0.054"/>
<rect x="125.33" y="129" width="0.61" height="44.5" fill="#000" fill-opacity="0.036"/>
<rect x="274.86" y="129" width="1.25" height="44.5" fill="#000" fill-opacity="0.019"/>
<rect x="321.89" y="129" width="0.88" height="44.5" fill="#000" fill-opacity="0.018"/>
<rect x="433.30" y="129" width="1.06" height="44.5" fill="#000" fill-opacity="0.018"/>
<rect x="404.66" y="129" width="0.58" height="44.5" fill="#000" fill-opacity="0.016"/>
<rect x="158.90" y="129" width="1.25" height="44.5" fill="#000" fill-opacity="0.012"/>
<rect x="409.99" y="129" width="0.99" height="44.5" fill="#000" fill-opacity="0.014"/>
<rect x="260.36" y="129" width="0.87" height="44.5" fill="#000" fill-opacity="0.044"/>
<rect x="332.52" y="129" width="1.04" height="44.5" fill="#000" fill-opacity="0.070"/>
<rect x="84.05" y="129" width="1.15" height="44.5" fill="#000" fill-opacity="0.035"/>
<rect x="352.26" y="129" width="1.21" height="44.5" fill="#000" fill-opacity="0.070"/>
<rect x="130.87" y="129" width="0.86" height="44.5" fill="#000" fill-opacity="0.067"/>
<rect x="421.78" y="129" width="0.80" height="44.5" fill="#000" fill-opacity="0.066"/>
<rect x="190.72" y="129" width="0.80" height="44.5" fill="#000" fill-opacity="0.055"/>
<rect x="218.68" y="129" width="0.86" height="44.5" fill="#000" fill-opacity="0.033"/>
<rect x="202.24" y="129" width="0.61" height="44.5" fill="#000" fill-opacity="0.014"/>
<rect x="339.71" y="129" width="0.95" height="44.5" fill="#000" fill-opacity="0.050"/>
<rect x="360.40" y="129" width="0.68" height="44.5" fill="#000" fill-opacity="0.024"/>
<rect x="135.94" y="129" width="0.74" height="44.5" fill="#000" fill-opacity="0.056"/>
<rect x="177.15" y="129" width="0.76" height="44.5" fill="#000" fill-opacity="0.048"/>
<rect x="96.85" y="129" width="0.59" height="44.5" fill="#000" fill-opacity="0.052"/>
<rect x="340.76" y="129" width="0.74" height="44.5" fill="#000" fill-opacity="0.048"/>
<rect x="31.58" y="129" width="0.82" height="44.5" fill="#000" fill-opacity="0.045"/>
<rect x="125.46" y="129" width="0.78" height="44.5" fill="#000" fill-opacity="0.047"/>
<rect x="269.48" y="129" width="0.62" height="44.5" fill="#000" fill-opacity="0.052"/>
<rect x="51.25" y="129" width="1.28" height="44.5" fill="#000" fill-opacity="0.022"/>
<rect x="125.52" y="129" width="0.66" height="44.5" fill="#000" fill-opacity="0.069"/>
<rect x="139.66" y="129" width="0.98" height="44.5" fill="#000" fill-opacity="0.069"/>
<rect x="423.63" y="129" width="0.53" height="44.5" fill="#000" fill-opacity="0.041"/>
<rect x="274.36" y="129" width="1.06" height="44.5" fill="#000" fill-opacity="0.030"/>
<rect x="157.34" y="129" width="0.50" height="44.5" fill="#000" fill-opacity="0.012"/>
<rect x="252.42" y="129" width="0.56" height="44.5" fill="#000" fill-opacity="0.022"/>
<rect x="19.25" y="142.00" width="2.00" height="31.00" fill="url(#g25)"/>
<rect x="18.45" y="156.00" width="3.60" height="17.00" fill="url(#g26)"/>
<rect x="18.75" y="146.60" width="3.00" height="0.90" fill="#000" fill-opacity="0.053"/>
<rect x="18.75" y="151.17" width="3.00" height="0.90" fill="#000" fill-opacity="0.076"/>
<rect x="18.75" y="156.27" width="3.00" height="0.90" fill="#000" fill-opacity="0.101"/>
<rect x="18.75" y="163.62" width="3.00" height="0.90" fill="#000" fill-opacity="0.137"/>
<rect x="18.75" y="167.64" width="3.00" height="0.90" fill="#000" fill-opacity="0.157"/>
<rect x="23.70" y="142.00" width="2.00" height="31.00" fill="url(#g27)"/>
<rect x="22.90" y="156.00" width="3.60" height="17.00" fill="url(#g28)"/>
<rect x="23.20" y="146.29" width="3.00" height="0.90" fill="#000" fill-opacity="0.051"/>
<rect x="23.20" y="152.70" width="3.00" height="0.90" fill="#000" fill-opacity="0.083"/>
<rect x="23.20" y="156.22" width="3.00" height="0.90" fill="#000" fill-opacity="0.101"/>
<rect x="23.20" y="161.99" width="3.00" height="0.90" fill="#000" fill-opacity="0.129"/>
<rect x="23.20" y="168.91" width="3.00" height="0.90" fill="#000" fill-opacity="0.164"/>
<rect x="28.20" y="142.00" width="2.00" height="31.00" fill="url(#g29)"/>
<rect x="27.40" y="156.00" width="3.60" height="17.00" fill="url(#g30)"/>
<rect x="27.70" y="147.95" width="3.00" height="0.90" fill="#000" fill-opacity="0.060"/>
<rect x="27.70" y="152.53" width="3.00" height="0.90" fill="#000" fill-opacity="0.082"/>
<rect x="27.70" y="156.42" width="3.00" height="0.90" fill="#000" fill-opacity="0.102"/>
<rect x="27.70" y="162.16" width="3.00" height="0.90" fill="#000" fill-opacity="0.130"/>
<rect x="27.70" y="166.67" width="3.00" height="0.90" fill="#000" fill-opacity="0.153"/>
<rect x="32.60" y="142.00" width="2.00" height="31.00" fill="url(#g31)"/>
<rect x="31.80" y="156.00" width="3.60" height="17.00" fill="url(#g32)"/>
<rect x="32.10" y="146.33" width="3.00" height="0.90" fill="#000" fill-opacity="0.051"/>
<rect x="32.10" y="151.06" width="3.00" height="0.90" fill="#000" fill-opacity="0.075"/>
<rect x="32.10" y="156.50" width="3.00" height="0.90" fill="#000" fill-opacity="0.102"/>
<rect x="32.10" y="162.92" width="3.00" height="0.90" fill="#000" fill-opacity="0.134"/>
<rect x="32.10" y="166.84" width="3.00" height="0.90" fill="#000" fill-opacity="0.153"/>
<rect x="37.10" y="142.00" width="2.00" height="31.00" fill="url(#g33)"/>
<rect x="36.30" y="156.00" width="3.60" height="17.00" fill="url(#g34)"/>
<rect x="36.60" y="146.17" width="3.00" height="0.90" fill="#000" fill-opacity="0.051"/>
<rect x="36.60" y="153.17" width="3.00" height="0.90" fill="#000" fill-opacity="0.085"/>
<rect x="36.60" y="157.01" width="3.00" height="0.90" fill="#000" fill-opacity="0.105"/>
<rect x="36.60" y="162.20" width="3.00" height="0.90" fill="#000" fill-opacity="0.130"/>
<rect x="36.60" y="166.81" width="3.00" height="0.90" fill="#000" fill-opacity="0.153"/>
<rect x="41.60" y="142.00" width="2.00" height="31.00" fill="url(#g35)"/>
<rect x="40.80" y="156.00" width="3.60" height="17.00" fill="url(#g36)"/>
<rect x="41.10" y="147.71" width="3.00" height="0.90" fill="#000" fill-opacity="0.058"/>
<rect x="41.10" y="152.62" width="3.00" height="0.90" fill="#000" fill-opacity="0.083"/>
<rect x="41.10" y="157.51" width="3.00" height="0.90" fill="#000" fill-opacity="0.107"/>
<rect x="41.10" y="162.88" width="3.00" height="0.90" fill="#000" fill-opacity="0.134"/>
<rect x="41.10" y="166.84" width="3.00" height="0.90" fill="#000" fill-opacity="0.153"/>
<rect x="46.00" y="142.00" width="2.00" height="31.00" fill="url(#g37)"/>
<rect x="45.20" y="156.00" width="3.60" height="17.00" fill="url(#g38)"/>
<rect x="45.50" y="146.42" width="3.00" height="0.90" fill="#000" fill-opacity="0.052"/>
<rect x="45.50" y="152.40" width="3.00" height="0.90" fill="#000" fill-opacity="0.082"/>
<rect x="45.50" y="158.49" width="3.00" height="0.90" fill="#000" fill-opacity="0.112"/>
<rect x="45.50" y="163.36" width="3.00" height="0.90" fill="#000" fill-opacity="0.136"/>
<rect x="45.50" y="168.14" width="3.00" height="0.90" fill="#000" fill-opacity="0.160"/>
<rect x="56.20" y="133.00" width="1.50" height="40.00" fill="url(#g39)"/>
<rect x="17.00" y="165.60" width="7.00" height="1.10" fill="#000" fill-opacity="0.550"/>
<rect x="18.00" y="168.50" width="5.00" height="1.50" fill="#000" fill-opacity="0.350"/>
<rect x="67.90" y="130" width="1.4" height="43.5" fill="#000" fill-opacity="0.22"/>
<path d="M68.80,130.00 L71.12,131.65 L72.20,132.80" stroke="#000" stroke-opacity="0.26" stroke-width="1.4" stroke-linejoin="round" stroke-linecap="round" fill="none"/>
<ellipse cx="71.40" cy="132.50" rx="1.7" ry="1.1" fill="#000" fill-opacity="0.37"/>
<path d="M71.00,133.20 L69.20,134.80" stroke="#000" stroke-opacity="0.11" stroke-width="1.1" stroke-linecap="round" fill="none"/>
<path d="M68.80,136.88 L71.12,138.24 L72.20,139.30" stroke="#000" stroke-opacity="0.38" stroke-width="1.4" stroke-linejoin="round" stroke-linecap="round" fill="none"/>
<ellipse cx="71.40" cy="139.00" rx="1.7" ry="1.1" fill="#000" fill-opacity="0.54"/>
<path d="M71.00,139.70 L69.20,141.30" stroke="#000" stroke-opacity="0.16" stroke-width="1.1" stroke-linecap="round" fill="none"/>
<path d="M68.80,143.56 L71.12,144.64 L72.20,145.60" stroke="#000" stroke-opacity="0.38" stroke-width="1.4" stroke-linejoin="round" stroke-linecap="round" fill="none"/>
<ellipse cx="71.40" cy="145.30" rx="1.7" ry="1.1" fill="#000" fill-opacity="0.54"/>
<path d="M71.00,146.00 L69.20,147.60" stroke="#000" stroke-opacity="0.16" stroke-width="1.1" stroke-linecap="round" fill="none"/>
<path d="M68.80,150.84 L71.12,151.64 L72.20,152.50" stroke="#000" stroke-opacity="0.38" stroke-width="1.4" stroke-linejoin="round" stroke-linecap="round" fill="none"/>
<ellipse cx="71.40" cy="152.20" rx="1.7" ry="1.1" fill="#000" fill-opacity="0.54"/>
<path d="M71.00,152.90 L69.20,154.50" stroke="#000" stroke-opacity="0.16" stroke-width="1.1" stroke-linecap="round" fill="none"/>
<path d="M68.80,158.02 L71.12,158.53 L72.20,159.30" stroke="#000" stroke-opacity="0.38" stroke-width="1.4" stroke-linejoin="round" stroke-linecap="round" fill="none"/>
<ellipse cx="71.40" cy="159.00" rx="1.7" ry="1.1" fill="#000" fill-opacity="0.54"/>
<path d="M71.00,159.70 L69.20,161.30" stroke="#000" stroke-opacity="0.16" stroke-width="1.1" stroke-linecap="round" fill="none"/>
<path d="M68.1,164.3 L69.1,166.3 L75.6,166.3" stroke="#000" stroke-opacity="0.8" stroke-width="1.8" fill="none"/>
<rect x="75.60" y="165.50" width="6.00" height="1.6" fill="#000" fill-opacity="0.3"/>
<rect x="89.10" y="130" width="1.4" height="43.5" fill="#000" fill-opacity="0.22"/>
<path d="M90.00,130.00 L92.32,131.65 L93.40,132.80" stroke="#000" stroke-opacity="0.26" stroke-width="1.4" stroke-linejoin="round" stroke-linecap="round" fill="none"/>
<ellipse cx="92.60" cy="132.50" rx="1.7" ry="1.1" fill="#000" fill-opacity="0.37"/>
<path d="M92.20,133.20 L90.40,134.80" stroke="#000" stroke-opacity="0.11" stroke-width="1.1" stroke-linecap="round" fill="none"/>
<path d="M90.00,136.88 L92.32,138.24 L93.40,139.30" stroke="#000" stroke-opacity="0.38" stroke-width="1.4" stroke-linejoin="round" stroke-linecap="round" fill="none"/>
<ellipse cx="92.60" cy="139.00" rx="1.7" ry="1.1" fill="#000" fill-opacity="0.54"/>
<path d="M92.20,139.70 L90.40,141.30" stroke="#000" stroke-opacity="0.16" stroke-width="1.1" stroke-linecap="round" fill="none"/>
<path d="M90.00,143.56 L92.32,144.64 L93.40,145.60" stroke="#000" stroke-opacity="0.38" stroke-width="1.4" stroke-linejoin="round" stroke-linecap="round" fill="none"/>
<ellipse cx="92.60" cy="145.30" rx="1.7" ry="1.1" fill="#000" fill-opacity="0.54"/>
<path d="M92.20,146.00 L90.40,147.60" stroke="#000" stroke-opacity="0.16" stroke-width="1.1" stroke-linecap="round" fill="none"/>
<path d="M90.00,150.84 L92.32,151.64 L93.40,152.50" stroke="#000" stroke-opacity="0.38" stroke-width="1.4" stroke-linejoin="round" stroke-linecap="round" fill="none"/>
<ellipse cx="92.60" cy="152.20" rx="1.7" ry="1.1" fill="#000" fill-opacity="0.54"/>
<path d="M92.20,152.90 L90.40,154.50" stroke="#000" stroke-opacity="0.16" stroke-width="1.1" stroke-linecap="round" fill="none"/>
<path d="M90.00,158.02 L92.32,158.53 L93.40,159.30" stroke="#000" stroke-opacity="0.38" stroke-width="1.4" stroke-linejoin="round" stroke-linecap="round" fill="none"/>
<ellipse cx="92.60" cy="159.00" rx="1.7" ry="1.1" fill="#000" fill-opacity="0.54"/>
<path d="M92.20,159.70 L90.40,161.30" stroke="#000" stroke-opacity="0.16" stroke-width="1.1" stroke-linecap="round" fill="none"/>
<path d="M89.3,164.3 L90.3,166.3 L96.8,166.3" stroke="#000" stroke-opacity="0.8" stroke-width="1.8" fill="none"/>
<rect x="96.80" y="165.50" width="6.00" height="1.6" fill="#000" fill-opacity="0.3"/>
<rect x="108.10" y="130" width="1.4" height="43.5" fill="#000" fill-opacity="0.22"/>
<path d="M109.00,130.00 L111.32,131.65 L112.40,132.80" stroke="#000" stroke-opacity="0.26" stroke-width="1.4" stroke-linejoin="round" stroke-linecap="round" fill="none"/>
<ellipse cx="111.60" cy="132.50" rx="1.7" ry="1.1" fill="#000" fill-opacity="0.37"/>
<path d="M111.20,133.20 L109.40,134.80" stroke="#000" stroke-opacity="0.11" stroke-width="1.1" stroke-linecap="round" fill="none"/>
<path d="M109.00,136.88 L111.32,138.24 L112.40,139.30" stroke="#000" stroke-opacity="0.38" stroke-width="1.4" stroke-linejoin="round" stroke-linecap="round" fill="none"/>
<ellipse cx="111.60" cy="139.00" rx="1.7" ry="1.1" fill="#000" fill-opacity="0.54"/>
<path d="M111.20,139.70 L109.40,141.30" stroke="#000" stroke-opacity="0.16" stroke-width="1.1" stroke-linecap="round" fill="none"/>
<path d="M109.00,143.56 L111.32,144.64 L112.40,145.60" stroke="#000" stroke-opacity="0.38" stroke-width="1.4" stroke-linejoin="round" stroke-linecap="round" fill="none"/>
<ellipse cx="111.60" cy="145.30" rx="1.7" ry="1.1" fill="#000" fill-opacity="0.54"/>
<path d="M111.20,146.00 L109.40,147.60" stroke="#000" stroke-opacity="0.16" stroke-width="1.1" stroke-linecap="round" fill="none"/>
<path d="M109.00,150.84 L111.32,151.64 L112.40,152.50" stroke="#000" stroke-opacity="0.38" stroke-width="1.4" stroke-linejoin="round" stroke-linecap="round" fill="none"/>
<ellipse cx="111.60" cy="152.20" rx="1.7" ry="1.1" fill="#000" fill-opacity="0.54"/>
<path d="M111.20,152.90 L109.40,154.50" stroke="#000" stroke-opacity="0.16" stroke-width="1.1" stroke-linecap="round" fill="none"/>
<path d="M109.00,158.02 L111.32,158.53 L112.40,159.30" stroke="#000" stroke-opacity="0.38" stroke-width="1.4" stroke-linejoin="round" stroke-linecap="round" fill="none"/>
<ellipse cx="111.60" cy="159.00" rx="1.7" ry="1.1" fill="#000" fill-opacity="0.54"/>
<path d="M111.20,159.70 L109.40,161.30" stroke="#000" stroke-opacity="0.16" stroke-width="1.1" stroke-linecap="round" fill="none"/>
<path d="M108.3,164.3 L109.3,166.3 L115.8,166.3" stroke="#000" stroke-opacity="0.8" stroke-width="1.8" fill="none"/>
<rect x="115.80" y="165.50" width="6.00" height="1.6" fill="#000" fill-opacity="0.3"/>
<rect x="69.00" y="145.00" width="16.00" height="28.00" fill="url(#g40)"/>
<rect x="90.00" y="150.00" width="14.00" height="23.00" fill="url(#g41)"/>
<rect x="121.70" y="146.00" width="1.60" height="27.00" fill="url(#g42)"/>
<rect x="120.90" y="160.00" width="3.20" height="13.00" fill="url(#g43)"/>
<rect x="121.00" y="151.05" width="3.00" height="0.90" fill="#000" fill-opacity="0.047"/>
<rect x="121.00" y="155.04" width="3.00" height="0.90" fill="#000" fill-opacity="0.061"/>
<rect x="121.00" y="162.34" width="3.00" height="0.90" fill="#000" fill-opacity="0.086"/>
<rect x="121.00" y="165.56" width="3.00" height="0.90" fill="#000" fill-opacity="0.097"/>
<rect x="121.00" y="170.91" width="3.00" height="0.90" fill="#000" fill-opacity="0.115"/>
<rect x="127.20" y="146.00" width="1.60" height="27.00" fill="url(#g44)"/>
<rect x="126.40" y="160.00" width="3.20" height="13.00" fill="url(#g45)"/>
<rect x="126.50" y="151.46" width="3.00" height="0.90" fill="#000" fill-opacity="0.049"/>
<rect x="126.50" y="156.95" width="3.00" height="0.90" fill="#000" fill-opacity="0.067"/>
<rect x="126.50" y="162.09" width="3.00" height="0.90" fill="#000" fill-opacity="0.085"/>
<rect x="126.50" y="166.49" width="3.00" height="0.90" fill="#000" fill-opacity="0.100"/>
<rect x="126.50" y="171.02" width="3.00" height="0.90" fill="#000" fill-opacity="0.116"/>
<rect x="130.70" y="146.00" width="1.60" height="27.00" fill="url(#g46)"/>
<rect x="129.90" y="160.00" width="3.20" height="13.00" fill="url(#g47)"/>
<rect x="130.00" y="149.88" width="3.00" height="0.90" fill="#000" fill-opacity="0.043"/>
<rect x="130.00" y="157.04" width="3.00" height="0.90" fill="#000" fill-opacity="0.068"/>
<rect x="130.00" y="162.55" width="3.00" height="0.90" fill="#000" fill-opacity="0.087"/>
<rect x="130.00" y="165.99" width="3.00" height="0.90" fill="#000" fill-opacity="0.098"/>
<rect x="130.00" y="172.68" width="3.00" height="0.90" fill="#000" fill-opacity="0.121"/>
<rect x="136.20" y="146.00" width="1.60" height="27.00" fill="url(#g48)"/>
<rect x="135.40" y="160.00" width="3.20" height="13.00" fill="url(#g49)"/>
<rect x="135.50" y="150.77" width="3.00" height="0.90" fill="#000" fill-opacity="0.046"/>
<rect x="135.50" y="155.75" width="3.00" height="0.90" fill="#000" fill-opacity="0.063"/>
<rect x="135.50" y="161.41" width="3.00" height="0.90" fill="#000" fill-opacity="0.083"/>
<rect x="135.50" y="165.42" width="3.00" height="0.90" fill="#000" fill-opacity="0.096"/>
<rect x="135.50" y="171.66" width="3.00" height="0.90" fill="#000" fill-opacity="0.118"/>
<rect x="140.20" y="146.00" width="1.60" height="27.00" fill="url(#g50)"/>
<rect x="139.40" y="160.00" width="3.20" height="13.00" fill="url(#g51)"/>
<rect x="139.50" y="150.28" width="3.00" height="0.90" fill="#000" fill-opacity="0.045"/>
<rect x="139.50" y="156.71" width="3.00" height="0.90" fill="#000" fill-opacity="0.067"/>
<rect x="139.50" y="161.41" width="3.00" height="0.90" fill="#000" fill-opacity="0.083"/>
<rect x="139.50" y="167.49" width="3.00" height="0.90" fill="#000" fill-opacity="0.104"/>
<rect x="139.50" y="172.75" width="3.00" height="0.90" fill="#000" fill-opacity="0.122"/>
<rect x="145.20" y="146.00" width="1.60" height="27.00" fill="url(#g52)"/>
<rect x="144.40" y="160.00" width="3.20" height="13.00" fill="url(#g53)"/>
<rect x="144.50" y="150.56" width="3.00" height="0.90" fill="#000" fill-opacity="0.046"/>
<rect x="144.50" y="155.67" width="3.00" height="0.90" fill="#000" fill-opacity="0.063"/>
<rect x="144.50" y="162.45" width="3.00" height="0.90" fill="#000" fill-opacity="0.086"/>
<rect x="144.50" y="166.61" width="3.00" height="0.90" fill="#000" fill-opacity="0.101"/>
<rect x="144.50" y="170.83" width="3.00" height="0.90" fill="#000" fill-opacity="0.115"/>
<rect x="150.20" y="146.00" width="1.60" height="27.00" fill="url(#g54)"/>
<rect x="149.40" y="160.00" width="3.20" height="13.00" fill="url(#g55)"/>
<rect x="149.50" y="149.91" width="3.00" height="0.90" fill="#000" fill-opacity="0.043"/>
<rect x="149.50" y="157.38" width="3.00" height="0.90" fill="#000" fill-opacity="0.069"/>
<rect x="149.50" y="161.59" width="3.00" height="0.90" fill="#000" fill-opacity="0.083"/>
<rect x="149.50" y="165.53" width="3.00" height="0.90" fill="#000" fill-opacity="0.097"/>
<rect x="149.50" y="171.83" width="3.00" height="0.90" fill="#000" fill-opacity="0.118"/>
<rect x="156.20" y="146.00" width="1.60" height="27.00" fill="url(#g56)"/>
<rect x="155.40" y="160.00" width="3.20" height="13.00" fill="url(#g57)"/>
<rect x="155.50" y="151.01" width="3.00" height="0.90" fill="#000" fill-opacity="0.047"/>
<rect x="155.50" y="156.04" width="3.00" height="0.90" fill="#000" fill-opacity="0.064"/>
<rect x="155.50" y="162.48" width="3.00" height="0.90" fill="#000" fill-opacity="0.086"/>
<rect x="155.50" y="167.68" width="3.00" height="0.90" fill="#000" fill-opacity="0.104"/>
<rect x="155.50" y="170.90" width="3.00" height="0.90" fill="#000" fill-opacity="0.115"/>
<rect x="170.80" y="130" width="1.4" height="43.5" fill="#000" fill-opacity="0.22"/>
<path d="M171.70,130.00 L174.02,131.65 L175.10,132.80" stroke="#000" stroke-opacity="0.26" stroke-width="1.4" stroke-linejoin="round" stroke-linecap="round" fill="none"/>
<ellipse cx="174.30" cy="132.50" rx="1.7" ry="1.1" fill="#000" fill-opacity="0.37"/>
<path d="M173.90,133.20 L172.10,134.80" stroke="#000" stroke-opacity="0.11" stroke-width="1.1" stroke-linecap="round" fill="none"/>
<path d="M171.70,136.88 L174.02,138.24 L175.10,139.30" stroke="#000" stroke-opacity="0.38" stroke-width="1.4" stroke-linejoin="round" stroke-linecap="round" fill="none"/>
<ellipse cx="174.30" cy="139.00" rx="1.7" ry="1.1" fill="#000" fill-opacity="0.54"/>
<path d="M173.90,139.70 L172.10,141.30" stroke="#000" stroke-opacity="0.16" stroke-width="1.1" stroke-linecap="round" fill="none"/>
<path d="M171.70,143.56 L174.02,144.64 L175.10,145.60" stroke="#000" stroke-opacity="0.38" stroke-width="1.4" stroke-linejoin="round" stroke-linecap="round" fill="none"/>
<ellipse cx="174.30" cy="145.30" rx="1.7" ry="1.1" fill="#000" fill-opacity="0.54"/>
<path d="M173.90,146.00 L172.10,147.60" stroke="#000" stroke-opacity="0.16" stroke-width="1.1" stroke-linecap="round" fill="none"/>
<path d="M171.70,150.84 L174.02,151.64 L175.10,152.50" stroke="#000" stroke-opacity="0.38" stroke-width="1.4" stroke-linejoin="round" stroke-linecap="round" fill="none"/>
<ellipse cx="174.30" cy="152.20" rx="1.7" ry="1.1" fill="#000" fill-opacity="0.54"/>
<path d="M173.90,152.90 L172.10,154.50" stroke="#000" stroke-opacity="0.16" stroke-width="1.1" stroke-linecap="round" fill="none"/>
<path d="M171.70,158.02 L174.02,158.53 L175.10,159.30" stroke="#000" stroke-opacity="0.38" stroke-width="1.4" stroke-linejoin="round" stroke-linecap="round" fill="none"/>
<ellipse cx="174.30" cy="159.00" rx="1.7" ry="1.1" fill="#000" fill-opacity="0.54"/>
<path d="M173.90,159.70 L172.10,161.30" stroke="#000" stroke-opacity="0.16" stroke-width="1.1" stroke-linecap="round" fill="none"/>
<path d="M171.0,164.3 L172.0,166.3 L178.5,166.3" stroke="#000" stroke-opacity="0.8" stroke-width="1.8" fill="none"/>
<rect x="178.50" y="165.50" width="10.00" height="1.6" fill="#000" fill-opacity="0.35"/>
<rect x="192.30" y="130" width="1.4" height="43.5" fill="#000" fill-opacity="0.22"/>
<path d="M193.20,130.00 L195.52,131.65 L196.60,132.80" stroke="#000" stroke-opacity="0.26" stroke-width="1.4" stroke-linejoin="round" stroke-linecap="round" fill="none"/>
<ellipse cx="195.80" cy="132.50" rx="1.7" ry="1.1" fill="#000" fill-opacity="0.37"/>
<path d="M195.40,133.20 L193.60,134.80" stroke="#000" stroke-opacity="0.11" stroke-width="1.1" stroke-linecap="round" fill="none"/>
<path d="M193.20,136.88 L195.52,138.24 L196.60,139.30" stroke="#000" stroke-opacity="0.38" stroke-width="1.4" stroke-linejoin="round" stroke-linecap="round" fill="none"/>
<ellipse cx="195.80" cy="139.00" rx="1.7" ry="1.1" fill="#000" fill-opacity="0.54"/>
<path d="M195.40,139.70 L193.60,141.30" stroke="#000" stroke-opacity="0.16" stroke-width="1.1" stroke-linecap="round" fill="none"/>
<path d="M193.20,143.56 L195.52,144.64 L196.60,145.60" stroke="#000" stroke-opacity="0.38" stroke-width="1.4" stroke-linejoin="round" stroke-linecap="round" fill="none"/>
<ellipse cx="195.80" cy="145.30" rx="1.7" ry="1.1" fill="#000" fill-opacity="0.54"/>
<path d="M195.40,146.00 L193.60,147.60" stroke="#000" stroke-opacity="0.16" stroke-width="1.1" stroke-linecap="round" fill="none"/>
<path d="M193.20,150.84 L195.52,151.64 L196.60,152.50" stroke="#000" stroke-opacity="0.38" stroke-width="1.4" stroke-linejoin="round" stroke-linecap="round" fill="none"/>
<ellipse cx="195.80" cy="152.20" rx="1.7" ry="1.1" fill="#000" fill-opacity="0.54"/>
<path d="M195.40,152.90 L193.60,154.50" stroke="#000" stroke-opacity="0.16" stroke-width="1.1" stroke-linecap="round" fill="none"/>
<path d="M193.20,158.02 L195.52,158.53 L196.60,159.30" stroke="#000" stroke-opacity="0.38" stroke-width="1.4" stroke-linejoin="round" stroke-linecap="round" fill="none"/>
<ellipse cx="195.80" cy="159.00" rx="1.7" ry="1.1" fill="#000" fill-opacity="0.54"/>
<path d="M195.40,159.70 L193.60,161.30" stroke="#000" stroke-opacity="0.16" stroke-width="1.1" stroke-linecap="round" fill="none"/>
<path d="M192.5,164.3 L193.5,166.3 L200,166.3" stroke="#000" stroke-opacity="0.8" stroke-width="1.8" fill="none"/>
<rect x="200.00" y="165.50" width="10.00" height="1.6" fill="#000" fill-opacity="0.35"/>
<rect x="210.30" y="130" width="1.4" height="43.5" fill="#000" fill-opacity="0.22"/>
<path d="M211.20,130.00 L213.52,131.65 L214.60,132.80" stroke="#000" stroke-opacity="0.26" stroke-width="1.4" stroke-linejoin="round" stroke-linecap="round" fill="none"/>
<ellipse cx="213.80" cy="132.50" rx="1.7" ry="1.1" fill="#000" fill-opacity="0.37"/>
<path d="M213.40,133.20 L211.60,134.80" stroke="#000" stroke-opacity="0.11" stroke-width="1.1" stroke-linecap="round" fill="none"/>
<path d="M211.20,136.88 L213.52,138.24 L214.60,139.30" stroke="#000" stroke-opacity="0.38" stroke-width="1.4" stroke-linejoin="round" stroke-linecap="round" fill="none"/>
<ellipse cx="213.80" cy="139.00" rx="1.7" ry="1.1" fill="#000" fill-opacity="0.54"/>
<path d="M213.40,139.70 L211.60,141.30" stroke="#000" stroke-opacity="0.16" stroke-width="1.1" stroke-linecap="round" fill="none"/>
<path d="M211.20,143.56 L213.52,144.64 L214.60,145.60" stroke="#000" stroke-opacity="0.38" stroke-width="1.4" stroke-linejoin="round" stroke-linecap="round" fill="none"/>
<ellipse cx="213.80" cy="145.30" rx="1.7" ry="1.1" fill="#000" fill-opacity="0.54"/>
<path d="M213.40,146.00 L211.60,147.60" stroke="#000" stroke-opacity="0.16" stroke-width="1.1" stroke-linecap="round" fill="none"/>
<path d="M211.20,150.84 L213.52,151.64 L214.60,152.50" stroke="#000" stroke-opacity="0.38" stroke-width="1.4" stroke-linejoin="round" stroke-linecap="round" fill="none"/>
<ellipse cx="213.80" cy="152.20" rx="1.7" ry="1.1" fill="#000" fill-opacity="0.54"/>
<path d="M213.40,152.90 L211.60,154.50" stroke="#000" stroke-opacity="0.16" stroke-width="1.1" stroke-linecap="round" fill="none"/>
<path d="M211.20,158.02 L213.52,158.53 L214.60,159.30" stroke="#000" stroke-opacity="0.38" stroke-width="1.4" stroke-linejoin="round" stroke-linecap="round" fill="none"/>
<ellipse cx="213.80" cy="159.00" rx="1.7" ry="1.1" fill="#000" fill-opacity="0.54"/>
<path d="M213.40,159.70 L211.60,161.30" stroke="#000" stroke-opacity="0.16" stroke-width="1.1" stroke-linecap="round" fill="none"/>
<path d="M210.5,164.3 L211.5,166.3 L218,166.3" stroke="#000" stroke-opacity="0.8" stroke-width="1.8" fill="none"/>
<rect x="218.00" y="165.50" width="10.00" height="1.6" fill="#000" fill-opacity="0.35"/>
<rect x="171.00" y="145.00" width="45.00" height="28.00" fill="url(#g58)"/>
<rect x="221.70" y="148.00" width="1.60" height="25.00" fill="url(#g59)"/>
<rect x="220.90" y="162.00" width="3.20" height="11.00" fill="url(#g60)"/>
<rect x="221.00" y="152.16" width="3.00" height="0.90" fill="#000" fill-opacity="0.048"/>
<rect x="221.00" y="157.98" width="3.00" height="0.90" fill="#000" fill-opacity="0.072"/>
<rect x="221.00" y="164.20" width="3.00" height="0.90" fill="#000" fill-opacity="0.098"/>
<rect x="221.00" y="168.90" width="3.00" height="0.90" fill="#000" fill-opacity="0.118"/>
<rect x="225.20" y="148.00" width="1.60" height="25.00" fill="url(#g61)"/>
<rect x="224.40" y="162.00" width="3.20" height="11.00" fill="url(#g62)"/>
<rect x="224.50" y="153.55" width="3.00" height="0.90" fill="#000" fill-opacity="0.053"/>
<rect x="224.50" y="158.38" width="3.00" height="0.90" fill="#000" fill-opacity="0.074"/>
<rect x="224.50" y="162.70" width="3.00" height="0.90" fill="#000" fill-opacity="0.092"/>
<rect x="224.50" y="169.36" width="3.00" height="0.90" fill="#000" fill-opacity="0.120"/>
<rect x="229.70" y="148.00" width="1.60" height="25.00" fill="url(#g63)"/>
<rect x="228.90" y="162.00" width="3.20" height="11.00" fill="url(#g64)"/>
<rect x="229.00" y="151.83" width="3.00" height="0.90" fill="#000" fill-opacity="0.046"/>
<rect x="229.00" y="158.68" width="3.00" height="0.90" fill="#000" fill-opacity="0.075"/>
<rect x="229.00" y="162.67" width="3.00" height="0.90" fill="#000" fill-opacity="0.092"/>
<rect x="229.00" y="168.53" width="3.00" height="0.90" fill="#000" fill-opacity="0.117"/>
<rect x="234.20" y="148.00" width="1.60" height="25.00" fill="url(#g65)"/>
<rect x="233.40" y="162.00" width="3.20" height="11.00" fill="url(#g66)"/>
<rect x="233.50" y="154.14" width="3.00" height="0.90" fill="#000" fill-opacity="0.056"/>
<rect x="233.50" y="158.29" width="3.00" height="0.90" fill="#000" fill-opacity="0.073"/>
<rect x="233.50" y="162.34" width="3.00" height="0.90" fill="#000" fill-opacity="0.091"/>
<rect x="233.50" y="168.43" width="3.00" height="0.90" fill="#000" fill-opacity="0.116"/>
<rect x="238.60" y="148.00" width="1.60" height="25.00" fill="url(#g67)"/>
<rect x="237.80" y="162.00" width="3.20" height="11.00" fill="url(#g68)"/>
<rect x="237.90" y="153.38" width="3.00" height="0.90" fill="#000" fill-opacity="0.053"/>
<rect x="237.90" y="157.14" width="3.00" height="0.90" fill="#000" fill-opacity="0.069"/>
<rect x="237.90" y="162.81" width="3.00" height="0.90" fill="#000" fill-opacity="0.093"/>
<rect x="237.90" y="167.44" width="3.00" height="0.90" fill="#000" fill-opacity="0.112"/>
<rect x="243.20" y="148.00" width="1.60" height="25.00" fill="url(#g69)"/>
<rect x="242.40" y="162.00" width="3.20" height="11.00" fill="url(#g70)"/>
<rect x="242.50" y="153.10" width="3.00" height="0.90" fill="#000" fill-opacity="0.052"/>
<rect x="242.50" y="157.92" width="3.00" height="0.90" fill="#000" fill-opacity="0.072"/>
<rect x="242.50" y="163.41" width="3.00" height="0.90" fill="#000" fill-opacity="0.095"/>
<rect x="242.50" y="168.11" width="3.00" height="0.90" fill="#000" fill-opacity="0.115"/>
<rect x="247.60" y="148.00" width="1.60" height="25.00" fill="url(#g71)"/>
<rect x="246.80" y="162.00" width="3.20" height="11.00" fill="url(#g72)"/>
<rect x="246.90" y="153.38" width="3.00" height="0.90" fill="#000" fill-opacity="0.053"/>
<rect x="246.90" y="157.42" width="3.00" height="0.90" fill="#000" fill-opacity="0.070"/>
<rect x="246.90" y="164.38" width="3.00" height="0.90" fill="#000" fill-opacity="0.099"/>
<rect x="246.90" y="169.70" width="3.00" height="0.90" fill="#000" fill-opacity="0.122"/>
<rect x="252.00" y="148.00" width="1.60" height="25.00" fill="url(#g73)"/>
<rect x="251.20" y="162.00" width="3.20" height="11.00" fill="url(#g74)"/>
<rect x="251.30" y="152.98" width="3.00" height="0.90" fill="#000" fill-opacity="0.051"/>
<rect x="251.30" y="158.12" width="3.00" height="0.90" fill="#000" fill-opacity="0.073"/>
<rect x="251.30" y="164.26" width="3.00" height="0.90" fill="#000" fill-opacity="0.099"/>
<rect x="251.30" y="168.10" width="3.00" height="0.90" fill="#000" fill-opacity="0.115"/>
<rect x="260.30" y="140.00" width="1.40" height="33.00" fill="url(#g75)"/>
<rect x="219.00" y="165.60" width="4.00" height="1.10" fill="#000" fill-opacity="0.500"/>
<rect x="270.80" y="130" width="1.4" height="43.5" fill="#000" fill-opacity="0.22"/>
<path d="M271.70,130.00 L274.02,131.65 L275.10,132.80" stroke="#000" stroke-opacity="0.26" stroke-width="1.4" stroke-linejoin="round" stroke-linecap="round" fill="none"/>
<ellipse cx="274.30" cy="132.50" rx="1.7" ry="1.1" fill="#000" fill-opacity="0.37"/>
<path d="M273.90,133.20 L272.10,134.80" stroke="#000" stroke-opacity="0.11" stroke-width="1.1" stroke-linecap="round" fill="none"/>
<path d="M271.70,136.88 L274.02,138.24 L275.10,139.30" stroke="#000" stroke-opacity="0.38" stroke-width="1.4" stroke-linejoin="round" stroke-linecap="round" fill="none"/>
<ellipse cx="274.30" cy="139.00" rx="1.7" ry="1.1" fill="#000" fill-opacity="0.54"/>
<path d="M273.90,139.70 L272.10,141.30" stroke="#000" stroke-opacity="0.16" stroke-width="1.1" stroke-linecap="round" fill="none"/>
<path d="M271.70,143.56 L274.02,144.64 L275.10,145.60" stroke="#000" stroke-opacity="0.38" stroke-width="1.4" stroke-linejoin="round" stroke-linecap="round" fill="none"/>
<ellipse cx="274.30" cy="145.30" rx="1.7" ry="1.1" fill="#000" fill-opacity="0.54"/>
<path d="M273.90,146.00 L272.10,147.60" stroke="#000" stroke-opacity="0.16" stroke-width="1.1" stroke-linecap="round" fill="none"/>
<path d="M271.70,150.84 L274.02,151.64 L275.10,152.50" stroke="#000" stroke-opacity="0.38" stroke-width="1.4" stroke-linejoin="round" stroke-linecap="round" fill="none"/>
<ellipse cx="274.30" cy="152.20" rx="1.7" ry="1.1" fill="#000" fill-opacity="0.54"/>
<path d="M273.90,152.90 L272.10,154.50" stroke="#000" stroke-opacity="0.16" stroke-width="1.1" stroke-linecap="round" fill="none"/>
<path d="M271.70,158.02 L274.02,158.53 L275.10,159.30" stroke="#000" stroke-opacity="0.38" stroke-width="1.4" stroke-linejoin="round" stroke-linecap="round" fill="none"/>
<ellipse cx="274.30" cy="159.00" rx="1.7" ry="1.1" fill="#000" fill-opacity="0.54"/>
<path d="M273.90,159.70 L272.10,161.30" stroke="#000" stroke-opacity="0.16" stroke-width="1.1" stroke-linecap="round" fill="none"/>
<path d="M271.0,164.3 L272.0,166.3 L278.5,166.3" stroke="#000" stroke-opacity="0.8" stroke-width="1.8" fill="none"/>
<rect x="278.50" y="165.50" width="10.00" height="1.6" fill="#000" fill-opacity="0.35"/>
<rect x="290.10" y="130" width="1.4" height="43.5" fill="#000" fill-opacity="0.22"/>
<path d="M291.00,130.00 L293.32,131.65 L294.40,132.80" stroke="#000" stroke-opacity="0.26" stroke-width="1.4" stroke-linejoin="round" stroke-linecap="round" fill="none"/>
<ellipse cx="293.60" cy="132.50" rx="1.7" ry="1.1" fill="#000" fill-opacity="0.37"/>
<path d="M293.20,133.20 L291.40,134.80" stroke="#000" stroke-opacity="0.11" stroke-width="1.1" stroke-linecap="round" fill="none"/>
<path d="M291.00,136.88 L293.32,138.24 L294.40,139.30" stroke="#000" stroke-opacity="0.38" stroke-width="1.4" stroke-linejoin="round" stroke-linecap="round" fill="none"/>
<ellipse cx="293.60" cy="139.00" rx="1.7" ry="1.1" fill="#000" fill-opacity="0.54"/>
<path d="M293.20,139.70 L291.40,141.30" stroke="#000" stroke-opacity="0.16" stroke-width="1.1" stroke-linecap="round" fill="none"/>
<path d="M291.00,143.56 L293.32,144.64 L294.40,145.60" stroke="#000" stroke-opacity="0.38" stroke-width="1.4" stroke-linejoin="round" stroke-linecap="round" fill="none"/>
<ellipse cx="293.60" cy="145.30" rx="1.7" ry="1.1" fill="#000" fill-opacity="0.54"/>
<path d="M293.20,146.00 L291.40,147.60" stroke="#000" stroke-opacity="0.16" stroke-width="1.1" stroke-linecap="round" fill="none"/>
<path d="M291.00,150.84 L293.32,151.64 L294.40,152.50" stroke="#000" stroke-opacity="0.38" stroke-width="1.4" stroke-linejoin="round" stroke-linecap="round" fill="none"/>
<ellipse cx="293.60" cy="152.20" rx="1.7" ry="1.1" fill="#000" fill-opacity="0.54"/>
<path d="M293.20,152.90 L291.40,154.50" stroke="#000" stroke-opacity="0.16" stroke-width="1.1" stroke-linecap="round" fill="none"/>
<path d="M291.00,158.02 L293.32,158.53 L294.40,159.30" stroke="#000" stroke-opacity="0.38" stroke-width="1.4" stroke-linejoin="round" stroke-linecap="round" fill="none"/>
<ellipse cx="293.60" cy="159.00" rx="1.7" ry="1.1" fill="#000" fill-opacity="0.54"/>
<path d="M293.20,159.70 L291.40,161.30" stroke="#000" stroke-opacity="0.16" stroke-width="1.1" stroke-linecap="round" fill="none"/>
<path d="M290.3,164.3 L291.3,166.3 L297.8,166.3" stroke="#000" stroke-opacity="0.8" stroke-width="1.8" fill="none"/>
<rect x="297.80" y="165.50" width="10.00" height="1.6" fill="#000" fill-opacity="0.35"/>
<rect x="308.80" y="130" width="1.4" height="43.5" fill="#000" fill-opacity="0.22"/>
<path d="M309.70,130.00 L312.02,131.65 L313.10,132.80" stroke="#000" stroke-opacity="0.26" stroke-width="1.4" stroke-linejoin="round" stroke-linecap="round" fill="none"/>
<ellipse cx="312.30" cy="132.50" rx="1.7" ry="1.1" fill="#000" fill-opacity="0.37"/>
<path d="M311.90,133.20 L310.10,134.80" stroke="#000" stroke-opacity="0.11" stroke-width="1.1" stroke-linecap="round" fill="none"/>
<path d="M309.70,136.88 L312.02,138.24 L313.10,139.30" stroke="#000" stroke-opacity="0.38" stroke-width="1.4" stroke-linejoin="round" stroke-linecap="round" fill="none"/>
<ellipse cx="312.30" cy="139.00" rx="1.7" ry="1.1" fill="#000" fill-opacity="0.54"/>
<path d="M311.90,139.70 L310.10,141.30" stroke="#000" stroke-opacity="0.16" stroke-width="1.1" stroke-linecap="round" fill="none"/>
<path d="M309.70,143.56 L312.02,144.64 L313.10,145.60" stroke="#000" stroke-opacity="0.38" stroke-width="1.4" stroke-linejoin="round" stroke-linecap="round" fill="none"/>
<ellipse cx="312.30" cy="145.30" rx="1.7" ry="1.1" fill="#000" fill-opacity="0.54"/>
<path d="M311.90,146.00 L310.10,147.60" stroke="#000" stroke-opacity="0.16" stroke-width="1.1" stroke-linecap="round" fill="none"/>
<path d="M309.70,150.84 L312.02,151.64 L313.10,152.50" stroke="#000" stroke-opacity="0.38" stroke-width="1.4" stroke-linejoin="round" stroke-linecap="round" fill="none"/>
<ellipse cx="312.30" cy="152.20" rx="1.7" ry="1.1" fill="#000" fill-opacity="0.54"/>
<path d="M311.90,152.90 L310.10,154.50" stroke="#000" stroke-opacity="0.16" stroke-width="1.1" stroke-linecap="round" fill="none"/>
<path d="M309.70,158.02 L312.02,158.53 L313.10,159.30" stroke="#000" stroke-opacity="0.38" stroke-width="1.4" stroke-linejoin="round" stroke-linecap="round" fill="none"/>
<ellipse cx="312.30" cy="159.00" rx="1.7" ry="1.1" fill="#000" fill-opacity="0.54"/>
<path d="M311.90,159.70 L310.10,161.30" stroke="#000" stroke-opacity="0.16" stroke-width="1.1" stroke-linecap="round" fill="none"/>
<path d="M309.0,164.3 L310.0,166.3 L316.5,166.3" stroke="#000" stroke-opacity="0.8" stroke-width="1.8" fill="none"/>
<rect x="316.50" y="165.50" width="10.00" height="1.6" fill="#000" fill-opacity="0.35"/>
<rect x="328.80" y="130" width="1.4" height="43.5" fill="#000" fill-opacity="0.22"/>
<path d="M329.70,130.00 L332.02,131.65 L333.10,132.80" stroke="#000" stroke-opacity="0.26" stroke-width="1.4" stroke-linejoin="round" stroke-linecap="round" fill="none"/>
<ellipse cx="332.30" cy="132.50" rx="1.7" ry="1.1" fill="#000" fill-opacity="0.37"/>
<path d="M331.90,133.20 L330.10,134.80" stroke="#000" stroke-opacity="0.11" stroke-width="1.1" stroke-linecap="round" fill="none"/>
<path d="M329.70,136.88 L332.02,138.24 L333.10,139.30" stroke="#000" stroke-opacity="0.38" stroke-width="1.4" stroke-linejoin="round" stroke-linecap="round" fill="none"/>
<ellipse cx="332.30" cy="139.00" rx="1.7" ry="1.1" fill="#000" fill-opacity="0.54"/>
<path d="M331.90,139.70 L330.10,141.30" stroke="#000" stroke-opacity="0.16" stroke-width="1.1" stroke-linecap="round" fill="none"/>
<path d="M329.70,143.56 L332.02,144.64 L333.10,145.60" stroke="#000" stroke-opacity="0.38" stroke-width="1.4" stroke-linejoin="round" stroke-linecap="round" fill="none"/>
<ellipse cx="332.30" cy="145.30" rx="1.7" ry="1.1" fill="#000" fill-opacity="0.54"/>
<path d="M331.90,146.00 L330.10,147.60" stroke="#000" stroke-opacity="0.16" stroke-width="1.1" stroke-linecap="round" fill="none"/>
<path d="M329.70,150.84 L332.02,151.64 L333.10,152.50" stroke="#000" stroke-opacity="0.38" stroke-width="1.4" stroke-linejoin="round" stroke-linecap="round" fill="none"/>
<ellipse cx="332.30" cy="152.20" rx="1.7" ry="1.1" fill="#000" fill-opacity="0.54"/>
<path d="M331.90,152.90 L330.10,154.50" stroke="#000" stroke-opacity="0.16" stroke-width="1.1" stroke-linecap="round" fill="none"/>
<path d="M329.70,158.02 L332.02,158.53 L333.10,159.30" stroke="#000" stroke-opacity="0.38" stroke-width="1.4" stroke-linejoin="round" stroke-linecap="round" fill="none"/>
<ellipse cx="332.30" cy="159.00" rx="1.7" ry="1.1" fill="#000" fill-opacity="0.54"/>
<path d="M331.90,159.70 L330.10,161.30" stroke="#000" stroke-opacity="0.16" stroke-width="1.1" stroke-linecap="round" fill="none"/>
<path d="M329.0,164.3 L330.0,166.3 L336.5,166.3" stroke="#000" stroke-opacity="0.8" stroke-width="1.8" fill="none"/>
<rect x="336.50" y="165.50" width="10.00" height="1.6" fill="#000" fill-opacity="0.35"/>
<rect x="337.80" y="130" width="1.4" height="43.5" fill="#000" fill-opacity="0.22"/>
<path d="M338.70,130.00 L340.78,131.65 L341.70,132.80" stroke="#000" stroke-opacity="0.15" stroke-width="1.4" stroke-linejoin="round" stroke-linecap="round" fill="none"/>
<ellipse cx="340.90" cy="132.50" rx="1.7" ry="1.1" fill="#000" fill-opacity="0.21"/>
<path d="M340.50,133.20 L339.10,134.80" stroke="#000" stroke-opacity="0.06" stroke-width="1.1" stroke-linecap="round" fill="none"/>
<path d="M338.70,136.88 L340.78,138.24 L341.70,139.30" stroke="#000" stroke-opacity="0.22" stroke-width="1.4" stroke-linejoin="round" stroke-linecap="round" fill="none"/>
<ellipse cx="340.90" cy="139.00" rx="1.7" ry="1.1" fill="#000" fill-opacity="0.31"/>
<path d="M340.50,139.70 L339.10,141.30" stroke="#000" stroke-opacity="0.09" stroke-width="1.1" stroke-linecap="round" fill="none"/>
<path d="M338.70,143.56 L340.78,144.64 L341.70,145.60" stroke="#000" stroke-opacity="0.22" stroke-width="1.4" stroke-linejoin="round" stroke-linecap="round" fill="none"/>
<ellipse cx="340.90" cy="145.30" rx="1.7" ry="1.1" fill="#000" fill-opacity="0.31"/>
<path d="M340.50,146.00 L339.10,147.60" stroke="#000" stroke-opacity="0.09" stroke-width="1.1" stroke-linecap="round" fill="none"/>
<path d="M338.70,150.84 L340.78,151.64 L341.70,152.50" stroke="#000" stroke-opacity="0.22" stroke-width="1.4" stroke-linejoin="round" stroke-linecap="round" fill="none"/>
<ellipse cx="340.90" cy="152.20" rx="1.7" ry="1.1" fill="#000" fill-opacity="0.31"/>
<path d="M340.50,152.90 L339.10,154.50" stroke="#000" stroke-opacity="0.09" stroke-width="1.1" stroke-linecap="round" fill="none"/>
<path d="M338.70,158.02 L340.78,158.53 L341.70,159.30" stroke="#000" stroke-opacity="0.22" stroke-width="1.4" stroke-linejoin="round" stroke-linecap="round" fill="none"/>
<ellipse cx="340.90" cy="159.00" rx="1.7" ry="1.1" fill="#000" fill-opacity="0.31"/>
<path d="M340.50,159.70 L339.10,161.30" stroke="#000" stroke-opacity="0.09" stroke-width="1.1" stroke-linecap="round" fill="none"/>
<path d="M338.0,164.3 L339.0,166.3 L341.5,166.3" stroke="#000" stroke-opacity="0.45" stroke-width="1.8" fill="none"/>
<rect x="271.00" y="145.00" width="70.00" height="28.00" fill="url(#g76)"/>
<rect x="350.50" y="129.00" width="13.40" height="44.00" fill="url(#g77)"/>
<ellipse cx="354.00" cy="134.00" rx="4.00" ry="3.00" fill="url(#g78)"/>
<ellipse cx="359.00" cy="137.00" rx="4.00" ry="3.00" fill="url(#g79)"/>
<ellipse cx="355.00" cy="142.00" rx="4.00" ry="3.00" fill="url(#g80)"/>
<ellipse cx="360.00" cy="146.00" rx="4.00" ry="3.00" fill="url(#g81)"/>
<ellipse cx="356.00" cy="150.00" rx="4.00" ry="3.00" fill="url(#g82)"/>
<rect x="350.50" y="151.00" width="10.40" height="1.00" fill="#000" fill-opacity="0.260"/>
<rect x="350.50" y="153.50" width="10.40" height="1.00" fill="#000" fill-opacity="0.260"/>
<rect x="350.50" y="156.00" width="10.40" height="1.00" fill="#000" fill-opacity="0.260"/>
<rect x="350.50" y="158.50" width="10.40" height="1.00" fill="#000" fill-opacity="0.260"/>
<rect x="350.50" y="161.00" width="13.40" height="1.00" fill="#000" fill-opacity="0.260"/>
<rect x="350.50" y="163.50" width="13.40" height="1.00" fill="#000" fill-opacity="0.260"/>
<rect x="350.50" y="166.00" width="13.40" height="1.00" fill="#000" fill-opacity="0.420"/>
<rect x="350.50" y="168.50" width="13.40" height="1.00" fill="#000" fill-opacity="0.420"/>
<rect x="350.50" y="171.00" width="13.40" height="1.00" fill="#000" fill-opacity="0.420"/>
<rect x="363.90" y="129.00" width="12.00" height="44.00" fill="url(#g83)"/>
<rect x="375.30" y="143.00" width="2.60" height="1.20" fill="#000" fill-opacity="0.250"/>
<rect x="375.30" y="146.20" width="2.60" height="1.20" fill="#000" fill-opacity="0.250"/>
<rect x="375.30" y="149.40" width="2.60" height="1.20" fill="#000" fill-opacity="0.250"/>
<rect x="375.30" y="152.60" width="2.60" height="1.20" fill="#000" fill-opacity="0.250"/>
<rect x="375.30" y="155.80" width="2.60" height="1.20" fill="#000" fill-opacity="0.250"/>
<rect x="375.30" y="159.00" width="2.60" height="1.20" fill="#000" fill-opacity="0.250"/>
<rect x="375.30" y="162.20" width="2.60" height="1.20" fill="#000" fill-opacity="0.250"/>
<rect x="375.30" y="165.40" width="2.60" height="1.20" fill="#000" fill-opacity="0.250"/>
<rect x="375.30" y="168.60" width="2.60" height="1.20" fill="#000" fill-opacity="0.250"/>
<rect x="384.20" y="130.00" width="6.40" height="42.00" fill="#000" fill-opacity="0.140"/>
<ellipse cx="386.80" cy="132.50" rx="2.90" ry="2.0" fill="none" stroke="#000" stroke-opacity="0.36" stroke-width="1.1" stroke-dasharray="5 3"/>
<ellipse cx="387.30" cy="133.50" rx="3.20" ry="2.20" fill="url(#g84)"/>
<ellipse cx="388.20" cy="136.90" rx="2.90" ry="2.0" fill="none" stroke="#000" stroke-opacity="0.36" stroke-width="1.1" stroke-dasharray="5 3"/>
<ellipse cx="388.70" cy="137.90" rx="3.20" ry="2.20" fill="url(#g85)"/>
<ellipse cx="386.80" cy="141.30" rx="2.90" ry="2.0" fill="none" stroke="#000" stroke-opacity="0.36" stroke-width="1.1" stroke-dasharray="5 3"/>
<ellipse cx="387.30" cy="142.30" rx="3.20" ry="2.20" fill="url(#g86)"/>
<ellipse cx="388.20" cy="145.70" rx="2.90" ry="2.0" fill="none" stroke="#000" stroke-opacity="0.36" stroke-width="1.1" stroke-dasharray="5 3"/>
<ellipse cx="388.70" cy="146.70" rx="3.20" ry="2.20" fill="url(#g87)"/>
<ellipse cx="386.80" cy="150.10" rx="2.90" ry="2.0" fill="none" stroke="#000" stroke-opacity="0.36" stroke-width="1.1" stroke-dasharray="5 3"/>
<ellipse cx="387.30" cy="151.10" rx="3.20" ry="2.20" fill="url(#g88)"/>
<ellipse cx="388.20" cy="154.50" rx="2.90" ry="2.0" fill="none" stroke="#000" stroke-opacity="0.36" stroke-width="1.1" stroke-dasharray="5 3"/>
<ellipse cx="388.70" cy="155.50" rx="3.20" ry="2.20" fill="url(#g89)"/>
<ellipse cx="386.80" cy="158.90" rx="2.90" ry="2.0" fill="none" stroke="#000" stroke-opacity="0.36" stroke-width="1.1" stroke-dasharray="5 3"/>
<ellipse cx="387.30" cy="159.90" rx="3.20" ry="2.20" fill="url(#g90)"/>
<ellipse cx="388.20" cy="163.30" rx="2.90" ry="2.0" fill="none" stroke="#000" stroke-opacity="0.36" stroke-width="1.1" stroke-dasharray="5 3"/>
<ellipse cx="388.70" cy="164.30" rx="3.20" ry="2.20" fill="url(#g91)"/>
<path d="M384.70,167.00 q0.5,4 5.90,3.5" stroke="#000" stroke-opacity="0.66" stroke-width="1.6" fill="none"/>
<rect x="400.20" y="130.00" width="6.00" height="42.00" fill="#000" fill-opacity="0.140"/>
<ellipse cx="402.60" cy="132.50" rx="2.70" ry="2.0" fill="none" stroke="#000" stroke-opacity="0.36" stroke-width="1.1" stroke-dasharray="5 3"/>
<ellipse cx="403.10" cy="133.50" rx="3.00" ry="2.20" fill="url(#g92)"/>
<ellipse cx="404.00" cy="136.90" rx="2.70" ry="2.0" fill="none" stroke="#000" stroke-opacity="0.36" stroke-width="1.1" stroke-dasharray="5 3"/>
<ellipse cx="404.50" cy="137.90" rx="3.00" ry="2.20" fill="url(#g93)"/>
<ellipse cx="402.60" cy="141.30" rx="2.70" ry="2.0" fill="none" stroke="#000" stroke-opacity="0.36" stroke-width="1.1" stroke-dasharray="5 3"/>
<ellipse cx="403.10" cy="142.30" rx="3.00" ry="2.20" fill="url(#g94)"/>
<ellipse cx="404.00" cy="145.70" rx="2.70" ry="2.0" fill="none" stroke="#000" stroke-opacity="0.36" stroke-width="1.1" stroke-dasharray="5 3"/>
<ellipse cx="404.50" cy="146.70" rx="3.00" ry="2.20" fill="url(#g95)"/>
<ellipse cx="402.60" cy="150.10" rx="2.70" ry="2.0" fill="none" stroke="#000" stroke-opacity="0.36" stroke-width="1.1" stroke-dasharray="5 3"/>
<ellipse cx="403.10" cy="151.10" rx="3.00" ry="2.20" fill="url(#g96)"/>
<ellipse cx="404.00" cy="154.50" rx="2.70" ry="2.0" fill="none" stroke="#000" stroke-opacity="0.36" stroke-width="1.1" stroke-dasharray="5 3"/>
<ellipse cx="404.50" cy="155.50" rx="3.00" ry="2.20" fill="url(#g97)"/>
<ellipse cx="402.60" cy="158.90" rx="2.70" ry="2.0" fill="none" stroke="#000" stroke-opacity="0.36" stroke-width="1.1" stroke-dasharray="5 3"/>
<ellipse cx="403.10" cy="159.90" rx="3.00" ry="2.20" fill="url(#g98)"/>
<ellipse cx="404.00" cy="163.30" rx="2.70" ry="2.0" fill="none" stroke="#000" stroke-opacity="0.36" stroke-width="1.1" stroke-dasharray="5 3"/>
<ellipse cx="404.50" cy="164.30" rx="3.00" ry="2.20" fill="url(#g99)"/>
<path d="M400.70,167.00 q0.5,4 5.50,3.5" stroke="#000" stroke-opacity="0.66" stroke-width="1.6" fill="none"/>
<rect x="414.70" y="130.00" width="6.40" height="42.00" fill="#000" fill-opacity="0.140"/>
<ellipse cx="417.30" cy="132.50" rx="2.90" ry="2.0" fill="none" stroke="#000" stroke-opacity="0.36" stroke-width="1.1" stroke-dasharray="5 3"/>
<ellipse cx="417.80" cy="133.50" rx="3.20" ry="2.20" fill="url(#g100)"/>
<ellipse cx="418.70" cy="136.90" rx="2.90" ry="2.0" fill="none" stroke="#000" stroke-opacity="0.36" stroke-width="1.1" stroke-dasharray="5 3"/>
<ellipse cx="419.20" cy="137.90" rx="3.20" ry="2.20" fill="url(#g101)"/>
<ellipse cx="417.30" cy="141.30" rx="2.90" ry="2.0" fill="none" stroke="#000" stroke-opacity="0.36" stroke-width="1.1" stroke-dasharray="5 3"/>
<ellipse cx="417.80" cy="142.30" rx="3.20" ry="2.20" fill="url(#g102)"/>
<ellipse cx="418.70" cy="145.70" rx="2.90" ry="2.0" fill="none" stroke="#000" stroke-opacity="0.36" stroke-width="1.1" stroke-dasharray="5 3"/>
<ellipse cx="419.20" cy="146.70" rx="3.20" ry="2.20" fill="url(#g103)"/>
<ellipse cx="417.30" cy="150.10" rx="2.90" ry="2.0" fill="none" stroke="#000" stroke-opacity="0.36" stroke-width="1.1" stroke-dasharray="5 3"/>
<ellipse cx="417.80" cy="151.10" rx="3.20" ry="2.20" fill="url(#g104)"/>
<ellipse cx="418.70" cy="154.50" rx="2.90" ry="2.0" fill="none" stroke="#000" stroke-opacity="0.36" stroke-width="1.1" stroke-dasharray="5 3"/>
<ellipse cx="419.20" cy="155.50" rx="3.20" ry="2.20" fill="url(#g105)"/>
<ellipse cx="417.30" cy="158.90" rx="2.90" ry="2.0" fill="none" stroke="#000" stroke-opacity="0.36" stroke-width="1.1" stroke-dasharray="5 3"/>
<ellipse cx="417.80" cy="159.90" rx="3.20" ry="2.20" fill="url(#g106)"/>
<ellipse cx="418.70" cy="163.30" rx="2.90" ry="2.0" fill="none" stroke="#000" stroke-opacity="0.36" stroke-width="1.1" stroke-dasharray="5 3"/>
<ellipse cx="419.20" cy="164.30" rx="3.20" ry="2.20" fill="url(#g107)"/>
<path d="M415.20,167.00 q0.5,4 5.90,3.5" stroke="#000" stroke-opacity="0.66" stroke-width="1.6" fill="none"/>
<rect x="428.70" y="130.00" width="6.00" height="42.00" fill="#000" fill-opacity="0.140"/>
<ellipse cx="431.10" cy="132.50" rx="2.70" ry="2.0" fill="none" stroke="#000" stroke-opacity="0.36" stroke-width="1.1" stroke-dasharray="5 3"/>
<ellipse cx="431.60" cy="133.50" rx="3.00" ry="2.20" fill="url(#g108)"/>
<ellipse cx="432.50" cy="136.90" rx="2.70" ry="2.0" fill="none" stroke="#000" stroke-opacity="0.36" stroke-width="1.1" stroke-dasharray="5 3"/>
<ellipse cx="433.00" cy="137.90" rx="3.00" ry="2.20" fill="url(#g109)"/>
<ellipse cx="431.10" cy="141.30" rx="2.70" ry="2.0" fill="none" stroke="#000" stroke-opacity="0.36" stroke-width="1.1" stroke-dasharray="5 3"/>
<ellipse cx="431.60" cy="142.30" rx="3.00" ry="2.20" fill="url(#g110)"/>
<ellipse cx="432.50" cy="145.70" rx="2.70" ry="2.0" fill="none" stroke="#000" stroke-opacity="0.36" stroke-width="1.1" stroke-dasharray="5 3"/>
<ellipse cx="433.00" cy="146.70" rx="3.00" ry="2.20" fill="url(#g111)"/>
<ellipse cx="431.10" cy="150.10" rx="2.70" ry="2.0" fill="none" stroke="#000" stroke-opacity="0.36" stroke-width="1.1" stroke-dasharray="5 3"/>
<ellipse cx="431.60" cy="151.10" rx="3.00" ry="2.20" fill="url(#g112)"/>
<ellipse cx="432.50" cy="154.50" rx="2.70" ry="2.0" fill="none" stroke="#000" stroke-opacity="0.36" stroke-width="1.1" stroke-dasharray="5 3"/>
<ellipse cx="433.00" cy="155.50" rx="3.00" ry="2.20" fill="url(#g113)"/>
<ellipse cx="431.10" cy="158.90" rx="2.70" ry="2.0" fill="none" stroke="#000" stroke-opacity="0.36" stroke-width="1.1" stroke-dasharray="5 3"/>
<ellipse cx="431.60" cy="159.90" rx="3.00" ry="2.20" fill="url(#g114)"/>
<ellipse cx="432.50" cy="163.30" rx="2.70" ry="2.0" fill="none" stroke="#000" stroke-opacity="0.36" stroke-width="1.1" stroke-dasharray="5 3"/>
<ellipse cx="433.00" cy="164.30" rx="3.00" ry="2.20" fill="url(#g115)"/>
<path d="M429.20,167.00 q0.5,4 5.50,3.5" stroke="#000" stroke-opacity="0.66" stroke-width="1.6" fill="none"/>
<ellipse cx="440.00" cy="134.00" rx="2.50" ry="6.00" fill="url(#g116)"/>
<rect x="423.50" y="140.00" width="1.60" height="1.20" fill="#000" fill-opacity="0.200"/>
<rect x="423.50" y="143.50" width="1.60" height="1.20" fill="#000" fill-opacity="0.200"/>
<rect x="423.50" y="147.00" width="1.60" height="1.20" fill="#000" fill-opacity="0.200"/>
<rect x="423.50" y="150.50" width="1.60" height="1.20" fill="#000" fill-opacity="0.200"/>
<rect x="423.50" y="154.00" width="1.60" height="1.20" fill="#000" fill-opacity="0.200"/>
<rect x="423.50" y="157.50" width="1.60" height="1.20" fill="#000" fill-opacity="0.200"/>
<rect x="423.50" y="161.00" width="1.60" height="1.20" fill="#000" fill-opacity="0.200"/>
<rect x="423.50" y="164.50" width="1.60" height="1.20" fill="#000" fill-opacity="0.200"/>
<rect x="423.50" y="168.00" width="1.60" height="1.20" fill="#000" fill-opacity="0.200"/>
<rect x="423.50" y="171.50" width="1.60" height="1.20" fill="#000" fill-opacity="0.200"/>
</g>
<line x1="16.3" y1="129" x2="16.3" y2="174.2" stroke="#000" stroke-width="1.6"/>
<line x1="15.5" y1="173.5" x2="446" y2="173.5" stroke="#000" stroke-width="1.6"/>
<path d="M118.5,124.3 V173.5 M117.8,128.6 H220 M220,124.1 V173.5" stroke="#000" stroke-width="1.5" fill="none"/>
<line x1="346.9" y1="123.8" x2="346.9" y2="173.5" stroke="#000" stroke-width="1.6"/>
<text x="14.4" y="132.9" style="font-family:'DejaVu Sans',sans-serif;font-size:6.6px" text-anchor="end" >5</text>
<text x="14.4" y="141.4" style="font-family:'DejaVu Sans',sans-serif;font-size:6.6px" text-anchor="end" >4</text>
<text x="14.4" y="150.4" style="font-family:'DejaVu Sans',sans-serif;font-size:6.6px" text-anchor="end" >3</text>
<text x="14.4" y="159.4" style="font-family:'DejaVu Sans',sans-serif;font-size:6.6px" text-anchor="end" >2</text>
<text x="14.4" y="168.20000000000002" style="font-family:'DejaVu Sans',sans-serif;font-size:6.6px" text-anchor="end" >1</text>
<text x="0" y="0" style="font-family:'Liberation Sans',Arial,sans-serif;font-size:8.5px" text-anchor="middle" transform="translate(64.10,117.10) scale(0.925,1)">Theme 25a</text>
<text x="0" y="0" style="font-family:'Liberation Sans',Arial,sans-serif;font-size:6.5px" text-anchor="middle" transform="translate(66.30,124.50) scale(0.875,1)">Phrase 1</text>
<text x="0" y="0" style="font-family:'Liberation Sans',Arial,sans-serif;font-size:8.5px" text-anchor="middle" transform="translate(278.00,114.80) scale(0.925,1)">Theme 25b</text>
<text x="0" y="0" style="font-family:'Liberation Sans',Arial,sans-serif;font-size:6.5px" text-anchor="middle" transform="translate(280.20,123.20) scale(0.875,1)">Phrase 1</text>
<text x="0" y="0" style="font-family:'Liberation Sans',Arial,sans-serif;font-size:8.5px" text-anchor="middle" transform="translate(394.40,115.60) scale(0.925,1)">Theme 26b</text>
<text x="0" y="0" style="font-family:'Liberation Sans',Arial,sans-serif;font-size:6.5px" text-anchor="middle" transform="translate(394.50,124.50) scale(0.875,1)">Phrase 1</text>
<text x="134.8" y="124.2" style="font-family:'Liberation Sans',Arial,sans-serif;font-size:6.15px" text-anchor="middle" >Phrase 2</text>
<g filter="url(#spec)">
<rect x="18.50" y="202.00" width="423.50" height="48.50" fill="#f6f6f6" fill-opacity="1.000"/>
<rect x="357.81" y="202" width="0.73" height="48.5" fill="#000" fill-opacity="0.060"/>
<rect x="159.62" y="202" width="0.98" height="48.5" fill="#000" fill-opacity="0.075"/>
<rect x="41.45" y="202" width="1.15" height="48.5" fill="#000" fill-opacity="0.048"/>
<rect x="178.66" y="202" width="0.78" height="48.5" fill="#000" fill-opacity="0.015"/>
<rect x="127.66" y="202" width="1.00" height="48.5" fill="#000" fill-opacity="0.017"/>
<rect x="301.32" y="202" width="1.27" height="48.5" fill="#000" fill-opacity="0.079"/>
<rect x="394.20" y="202" width="1.15" height="48.5" fill="#000" fill-opacity="0.022"/>
<rect x="428.39" y="202" width="0.66" height="48.5" fill="#000" fill-opacity="0.071"/>
<rect x="389.40" y="202" width="1.00" height="48.5" fill="#000" fill-opacity="0.046"/>
<rect x="103.18" y="202" width="0.92" height="48.5" fill="#000" fill-opacity="0.030"/>
<rect x="71.68" y="202" width="0.60" height="48.5" fill="#000" fill-opacity="0.066"/>
<rect x="408.22" y="202" width="0.61" height="48.5" fill="#000" fill-opacity="0.011"/>
<rect x="129.88" y="202" width="0.61" height="48.5" fill="#000" fill-opacity="0.023"/>
<rect x="264.96" y="202" width="0.84" height="48.5" fill="#000" fill-opacity="0.040"/>
<rect x="105.37" y="202" width="1.03" height="48.5" fill="#000" fill-opacity="0.030"/>
<rect x="187.14" y="202" width="0.87" height="48.5" fill="#000" fill-opacity="0.073"/>
<rect x="122.59" y="202" width="1.07" height="48.5" fill="#000" fill-opacity="0.032"/>
<rect x="396.40" y="202" width="0.82" height="48.5" fill="#000" fill-opacity="0.045"/>
<rect x="389.12" y="202" width="1.04" height="48.5" fill="#000" fill-opacity="0.017"/>
<rect x="76.31" y="202" width="1.29" height="48.5" fill="#000" fill-opacity="0.012"/>
<rect x="145.62" y="202" width="1.27" height="48.5" fill="#000" fill-opacity="0.011"/>
<rect x="86.69" y="202" width="0.67" height="48.5" fill="#000" fill-opacity="0.016"/>
<rect x="217.90" y="202" width="0.97" height="48.5" fill="#000" fill-opacity="0.032"/>
<rect x="64.40" y="202" width="1.15" height="48.5" fill="#000" fill-opacity="0.066"/>
<rect x="255.99" y="202" width="0.61" height="48.5" fill="#000" fill-opacity="0.048"/>
<rect x="284.47" y="202" width="0.84" height="48.5" fill="#000" fill-opacity="0.070"/>
<rect x="183.29" y="202" width="0.91" height="48.5" fill="#000" fill-opacity="0.018"/>
<rect x="256.60" y="202" width="1.11" height="48.5" fill="#000" fill-opacity="0.061"/>
<rect x="127.07" y="202" width="1.29" height="48.5" fill="#000" fill-opacity="0.060"/>
<rect x="197.54" y="202" width="0.83" height="48.5" fill="#000" fill-opacity="0.065"/>
<rect x="92.73" y="202" width="1.01" height="48.5" fill="#000" fill-opacity="0.060"/>
<rect x="236.65" y="202" width="1.20" height="48.5" fill="#000" fill-opacity="0.043"/>
<rect x="214.92" y="202" width="0.73" height="48.5" fill="#000" fill-opacity="0.074"/>
<rect x="152.12" y="202" width="1.06" height="48.5" fill="#000" fill-opacity="0.039"/>
<rect x="413.72" y="202" width="1.26" height="48.5" fill="#000" fill-opacity="0.012"/>
<rect x="438.69" y="202" width="0.98" height="48.5" fill="#000" fill-opacity="0.015"/>
<rect x="228.50" y="202" width="0.54" height="48.5" fill="#000" fill-opacity="0.048"/>
<rect x="96.85" y="202" width="0.79" height="48.5" fill="#000" fill-opacity="0.031"/>
<rect x="272.93" y="202" width="1.16" height="48.5" fill="#000" fill-opacity="0.076"/>
<rect x="157.44" y="202" width="0.96" height="48.5" fill="#000" fill-opacity="0.010"/>
<rect x="175.74" y="202" width="1.27" height="48.5" fill="#000" fill-opacity="0.018"/>
<rect x="386.00" y="202" width="1.02" height="48.5" fill="#000" fill-opacity="0.031"/>
<rect x="347.27" y="202" width="0.73" height="48.5" fill="#000" fill-opacity="0.073"/>
<rect x="53.47" y="202" width="0.60" height="48.5" fill="#000" fill-opacity="0.063"/>
<rect x="208.28" y="202" width="0.62" height="48.5" fill="#000" fill-opacity="0.046"/>
<rect x="143.97" y="202" width="0.94" height="48.5" fill="#000" fill-opacity="0.062"/>
<rect x="380.51" y="202" width="0.55" height="48.5" fill="#000" fill-opacity="0.051"/>
<rect x="434.10" y="202" width="0.87" height="48.5" fill="#000" fill-opacity="0.064"/>
<rect x="59.59" y="202" width="1.20" height="48.5" fill="#000" fill-opacity="0.051"/>
<rect x="393.79" y="202" width="1.13" height="48.5" fill="#000" fill-opacity="0.071"/>
<rect x="42.71" y="202" width="1.07" height="48.5" fill="#000" fill-opacity="0.024"/>
<rect x="130.80" y="202" width="0.76" height="48.5" fill="#000" fill-opacity="0.051"/>
<rect x="283.77" y="202" width="1.25" height="48.5" fill="#000" fill-opacity="0.011"/>
<rect x="100.23" y="202" width="0.79" height="48.5" fill="#000" fill-opacity="0.067"/>
<rect x="250.84" y="202" width="0.91" height="48.5" fill="#000" fill-opacity="0.063"/>
<rect x="295.26" y="202" width="0.73" height="48.5" fill="#000" fill-opacity="0.016"/>
<rect x="213.82" y="202" width="1.20" height="48.5" fill="#000" fill-opacity="0.052"/>
<rect x="41.01" y="202" width="0.85" height="48.5" fill="#000" fill-opacity="0.037"/>
<rect x="264.57" y="202" width="0.97" height="48.5" fill="#000" fill-opacity="0.077"/>
<rect x="161.34" y="202" width="0.83" height="48.5" fill="#000" fill-opacity="0.053"/>
<rect x="393.00" y="202" width="1.06" height="48.5" fill="#000" fill-opacity="0.043"/>
<rect x="362.65" y="202" width="0.89" height="48.5" fill="#000" fill-opacity="0.077"/>
<rect x="137.86" y="202" width="0.60" height="48.5" fill="#000" fill-opacity="0.068"/>
<rect x="144.11" y="202" width="1.18" height="48.5" fill="#000" fill-opacity="0.053"/>
<rect x="233.54" y="202" width="0.57" height="48.5" fill="#000" fill-opacity="0.065"/>
<rect x="46.35" y="202" width="1.27" height="48.5" fill="#000" fill-opacity="0.071"/>
<rect x="146.50" y="202" width="0.60" height="48.5" fill="#000" fill-opacity="0.072"/>
<rect x="221.24" y="202" width="0.60" height="48.5" fill="#000" fill-opacity="0.045"/>
<rect x="122.78" y="202" width="0.83" height="48.5" fill="#000" fill-opacity="0.055"/>
<rect x="405.24" y="202" width="1.14" height="48.5" fill="#000" fill-opacity="0.021"/>
<rect x="220.17" y="202" width="0.89" height="48.5" fill="#000" fill-opacity="0.079"/>
<rect x="55.21" y="202" width="0.91" height="48.5" fill="#000" fill-opacity="0.074"/>
<rect x="187.01" y="202" width="0.71" height="48.5" fill="#000" fill-opacity="0.049"/>
<rect x="153.74" y="202" width="1.24" height="48.5" fill="#000" fill-opacity="0.016"/>
<rect x="105.83" y="202" width="0.57" height="48.5" fill="#000" fill-opacity="0.060"/>
<rect x="142.35" y="202" width="1.22" height="48.5" fill="#000" fill-opacity="0.073"/>
<rect x="414.12" y="202" width="0.70" height="48.5" fill="#000" fill-opacity="0.010"/>
<rect x="182.26" y="202" width="1.27" height="48.5" fill="#000" fill-opacity="0.063"/>
<rect x="43.71" y="202" width="1.06" height="48.5" fill="#000" fill-opacity="0.074"/>
<rect x="427.36" y="202" width="1.07" height="48.5" fill="#000" fill-opacity="0.070"/>
<rect x="374.12" y="202" width="0.79" height="48.5" fill="#000" fill-opacity="0.017"/>
<rect x="325.85" y="202" width="0.61" height="48.5" fill="#000" fill-opacity="0.037"/>
<rect x="439.20" y="202" width="0.95" height="48.5" fill="#000" fill-opacity="0.047"/>
<rect x="418.98" y="202" width="0.73" height="48.5" fill="#000" fill-opacity="0.080"/>
<rect x="403.81" y="202" width="0.79" height="48.5" fill="#000" fill-opacity="0.033"/>
<rect x="71.97" y="202" width="1.23" height="48.5" fill="#000" fill-opacity="0.023"/>
<rect x="22.29" y="202" width="1.21" height="48.5" fill="#000" fill-opacity="0.052"/>
<rect x="302.36" y="202" width="1.09" height="48.5" fill="#000" fill-opacity="0.013"/>
<rect x="57.31" y="202" width="0.90" height="48.5" fill="#000" fill-opacity="0.014"/>
<rect x="231.58" y="202" width="1.09" height="48.5" fill="#000" fill-opacity="0.056"/>
<rect x="279.03" y="202" width="0.54" height="48.5" fill="#000" fill-opacity="0.027"/>
<rect x="397.69" y="202" width="0.60" height="48.5" fill="#000" fill-opacity="0.047"/>
<rect x="39.65" y="202" width="1.25" height="48.5" fill="#000" fill-opacity="0.022"/>
<rect x="191.73" y="202" width="0.94" height="48.5" fill="#000" fill-opacity="0.060"/>
<rect x="414.57" y="202" width="1.09" height="48.5" fill="#000" fill-opacity="0.034"/>
<rect x="50.33" y="202" width="1.07" height="48.5" fill="#000" fill-opacity="0.078"/>
<rect x="25.69" y="202" width="1.12" height="48.5" fill="#000" fill-opacity="0.022"/>
<rect x="212.83" y="202" width="0.92" height="48.5" fill="#000" fill-opacity="0.053"/>
<rect x="436.58" y="202" width="1.05" height="48.5" fill="#000" fill-opacity="0.037"/>
<rect x="320.60" y="202" width="0.87" height="48.5" fill="#000" fill-opacity="0.039"/>
<rect x="172.99" y="202" width="0.89" height="48.5" fill="#000" fill-opacity="0.030"/>
<rect x="120.79" y="202" width="0.62" height="48.5" fill="#000" fill-opacity="0.041"/>
<rect x="142.40" y="202" width="1.17" height="48.5" fill="#000" fill-opacity="0.069"/>
<rect x="163.79" y="202" width="1.00" height="48.5" fill="#000" fill-opacity="0.073"/>
<rect x="170.25" y="202" width="0.94" height="48.5" fill="#000" fill-opacity="0.041"/>
<rect x="293.24" y="202" width="1.27" height="48.5" fill="#000" fill-opacity="0.020"/>
<rect x="426.38" y="202" width="1.03" height="48.5" fill="#000" fill-opacity="0.066"/>
<rect x="286.84" y="202" width="1.20" height="48.5" fill="#000" fill-opacity="0.033"/>
<rect x="317.65" y="202" width="0.71" height="48.5" fill="#000" fill-opacity="0.046"/>
<rect x="306.43" y="202" width="0.66" height="48.5" fill="#000" fill-opacity="0.014"/>
<rect x="352.68" y="202" width="1.15" height="48.5" fill="#000" fill-opacity="0.057"/>
<rect x="154.30" y="202" width="1.03" height="48.5" fill="#000" fill-opacity="0.016"/>
<rect x="298.41" y="202" width="0.96" height="48.5" fill="#000" fill-opacity="0.053"/>
<rect x="207.35" y="202" width="0.68" height="48.5" fill="#000" fill-opacity="0.061"/>
<rect x="214.60" y="202" width="1.10" height="48.5" fill="#000" fill-opacity="0.035"/>
<rect x="55.59" y="202" width="0.93" height="48.5" fill="#000" fill-opacity="0.054"/>
<rect x="407.95" y="202" width="1.21" height="48.5" fill="#000" fill-opacity="0.014"/>
<rect x="344.60" y="202" width="0.71" height="48.5" fill="#000" fill-opacity="0.059"/>
<rect x="178.83" y="202" width="0.76" height="48.5" fill="#000" fill-opacity="0.044"/>
<rect x="242.65" y="202" width="1.06" height="48.5" fill="#000" fill-opacity="0.055"/>
<rect x="305.06" y="202" width="0.81" height="48.5" fill="#000" fill-opacity="0.057"/>
<rect x="164.43" y="202" width="0.99" height="48.5" fill="#000" fill-opacity="0.042"/>
<rect x="256.28" y="202" width="0.51" height="48.5" fill="#000" fill-opacity="0.045"/>
<rect x="111.44" y="202" width="0.81" height="48.5" fill="#000" fill-opacity="0.015"/>
<rect x="296.04" y="202" width="1.21" height="48.5" fill="#000" fill-opacity="0.035"/>
<rect x="62.89" y="202" width="1.00" height="48.5" fill="#000" fill-opacity="0.019"/>
<rect x="395.21" y="202" width="0.60" height="48.5" fill="#000" fill-opacity="0.035"/>
<rect x="227.49" y="202" width="0.59" height="48.5" fill="#000" fill-opacity="0.032"/>
<rect x="134.81" y="202" width="1.07" height="48.5" fill="#000" fill-opacity="0.079"/>
<rect x="171.80" y="202" width="1.13" height="48.5" fill="#000" fill-opacity="0.020"/>
<rect x="263.51" y="202" width="0.85" height="48.5" fill="#000" fill-opacity="0.030"/>
<rect x="365.67" y="202" width="1.10" height="48.5" fill="#000" fill-opacity="0.019"/>
<rect x="142.04" y="202" width="1.16" height="48.5" fill="#000" fill-opacity="0.079"/>
<rect x="276.89" y="202" width="1.20" height="48.5" fill="#000" fill-opacity="0.079"/>
<rect x="331.38" y="202" width="1.02" height="48.5" fill="#000" fill-opacity="0.025"/>
<rect x="175.00" y="202" width="1.00" height="48.5" fill="#000" fill-opacity="0.075"/>
<rect x="146.03" y="202" width="0.82" height="48.5" fill="#000" fill-opacity="0.012"/>
<rect x="312.87" y="202" width="0.85" height="48.5" fill="#000" fill-opacity="0.066"/>
<rect x="117.22" y="202" width="1.03" height="48.5" fill="#000" fill-opacity="0.057"/>
<rect x="214.68" y="202" width="0.65" height="48.5" fill="#000" fill-opacity="0.038"/>
<rect x="333.28" y="202" width="0.65" height="48.5" fill="#000" fill-opacity="0.016"/>
<rect x="214.03" y="202" width="0.69" height="48.5" fill="#000" fill-opacity="0.066"/>
<rect x="363.79" y="202" width="1.26" height="48.5" fill="#000" fill-opacity="0.069"/>
<rect x="292.05" y="202" width="0.65" height="48.5" fill="#000" fill-opacity="0.068"/>
<rect x="326.12" y="202" width="1.10" height="48.5" fill="#000" fill-opacity="0.059"/>
<rect x="369.18" y="202" width="0.74" height="48.5" fill="#000" fill-opacity="0.057"/>
<rect x="237.06" y="202" width="0.77" height="48.5" fill="#000" fill-opacity="0.033"/>
<rect x="84.19" y="202" width="0.89" height="48.5" fill="#000" fill-opacity="0.036"/>
<rect x="196.59" y="202" width="1.18" height="48.5" fill="#000" fill-opacity="0.058"/>
<rect x="305.90" y="202" width="1.29" height="48.5" fill="#000" fill-opacity="0.025"/>
<rect x="233.09" y="202" width="0.57" height="48.5" fill="#000" fill-opacity="0.037"/>
<rect x="420.02" y="202" width="0.57" height="48.5" fill="#000" fill-opacity="0.063"/>
<rect x="384.15" y="202" width="0.91" height="48.5" fill="#000" fill-opacity="0.066"/>
<rect x="204.84" y="202" width="0.78" height="48.5" fill="#000" fill-opacity="0.045"/>
<rect x="100.78" y="202" width="0.75" height="48.5" fill="#000" fill-opacity="0.031"/>
<rect x="436.10" y="202" width="0.77" height="48.5" fill="#000" fill-opacity="0.026"/>
<rect x="415.55" y="202" width="0.61" height="48.5" fill="#000" fill-opacity="0.078"/>
<rect x="379.02" y="202" width="1.02" height="48.5" fill="#000" fill-opacity="0.040"/>
<rect x="101.83" y="202" width="0.58" height="48.5" fill="#000" fill-opacity="0.017"/>
<rect x="166.01" y="202" width="0.83" height="48.5" fill="#000" fill-opacity="0.075"/>
<rect x="245.06" y="202" width="1.29" height="48.5" fill="#000" fill-opacity="0.060"/>
<rect x="80.31" y="202" width="0.94" height="48.5" fill="#000" fill-opacity="0.021"/>
<rect x="35.06" y="202" width="1.26" height="48.5" fill="#000" fill-opacity="0.034"/>
<rect x="98.60" y="202" width="0.58" height="48.5" fill="#000" fill-opacity="0.056"/>
<rect x="213.34" y="202" width="0.51" height="48.5" fill="#000" fill-opacity="0.060"/>
<rect x="126.95" y="202" width="1.12" height="48.5" fill="#000" fill-opacity="0.044"/>
<rect x="244.78" y="202" width="0.87" height="48.5" fill="#000" fill-opacity="0.057"/>
<rect x="436.79" y="202" width="1.14" height="48.5" fill="#000" fill-opacity="0.015"/>
<rect x="227.55" y="202" width="0.69" height="48.5" fill="#000" fill-opacity="0.017"/>
<rect x="100.96" y="202" width="0.70" height="48.5" fill="#000" fill-opacity="0.077"/>
<rect x="333.21" y="202" width="1.18" height="48.5" fill="#000" fill-opacity="0.059"/>
<rect x="151.86" y="202" width="0.81" height="48.5" fill="#000" fill-opacity="0.041"/>
<rect x="142.46" y="202" width="0.84" height="48.5" fill="#000" fill-opacity="0.064"/>
<rect x="50.48" y="202" width="0.72" height="48.5" fill="#000" fill-opacity="0.044"/>
<rect x="304.20" y="202" width="1.02" height="48.5" fill="#000" fill-opacity="0.061"/>
<rect x="62.97" y="202" width="0.64" height="48.5" fill="#000" fill-opacity="0.032"/>
<rect x="137.51" y="202" width="1.10" height="48.5" fill="#000" fill-opacity="0.080"/>
<rect x="307.12" y="202" width="0.53" height="48.5" fill="#000" fill-opacity="0.031"/>
<rect x="357.78" y="202" width="1.24" height="48.5" fill="#000" fill-opacity="0.052"/>
<rect x="165.88" y="202" width="0.78" height="48.5" fill="#000" fill-opacity="0.054"/>
<rect x="383.62" y="202" width="0.77" height="48.5" fill="#000" fill-opacity="0.023"/>
<rect x="19.68" y="202" width="0.61" height="48.5" fill="#000" fill-opacity="0.070"/>
<rect x="282.39" y="202" width="1.29" height="48.5" fill="#000" fill-opacity="0.015"/>
<rect x="173.14" y="202" width="1.14" height="48.5" fill="#000" fill-opacity="0.056"/>
<rect x="46.67" y="202" width="0.82" height="48.5" fill="#000" fill-opacity="0.055"/>
<rect x="309.08" y="202" width="0.86" height="48.5" fill="#000" fill-opacity="0.023"/>
<rect x="426.60" y="202" width="0.87" height="48.5" fill="#000" fill-opacity="0.060"/>
<rect x="244.46" y="202" width="0.56" height="48.5" fill="#000" fill-opacity="0.027"/>
<rect x="45.13" y="202" width="0.65" height="48.5" fill="#000" fill-opacity="0.024"/>
<rect x="193.78" y="202" width="0.76" height="48.5" fill="#000" fill-opacity="0.035"/>
<rect x="363.63" y="202" width="0.52" height="48.5" fill="#000" fill-opacity="0.017"/>
<rect x="359.80" y="202" width="0.93" height="48.5" fill="#000" fill-opacity="0.041"/>
<rect x="131.44" y="202" width="0.93" height="48.5" fill="#000" fill-opacity="0.026"/>
<rect x="381.16" y="202" width="1.16" height="48.5" fill="#000" fill-opacity="0.033"/>
<rect x="28.85" y="202" width="1.21" height="48.5" fill="#000" fill-opacity="0.031"/>
<rect x="296.03" y="202" width="1.19" height="48.5" fill="#000" fill-opacity="0.066"/>
<rect x="382.91" y="202" width="0.89" height="48.5" fill="#000" fill-opacity="0.069"/>
<rect x="213.34" y="202" width="0.71" height="48.5" fill="#000" fill-opacity="0.044"/>
<rect x="160.20" y="202" width="1.11" height="48.5" fill="#000" fill-opacity="0.068"/>
<rect x="78.14" y="202" width="0.63" height="48.5" fill="#000" fill-opacity="0.037"/>
<rect x="214.24" y="202" width="1.27" height="48.5" fill="#000" fill-opacity="0.076"/>
<rect x="427.07" y="202" width="1.08" height="48.5" fill="#000" fill-opacity="0.057"/>
<rect x="132.74" y="202" width="0.80" height="48.5" fill="#000" fill-opacity="0.010"/>
<rect x="370.42" y="202" width="0.72" height="48.5" fill="#000" fill-opacity="0.016"/>
<rect x="151.84" y="202" width="0.76" height="48.5" fill="#000" fill-opacity="0.061"/>
<rect x="20.91" y="202" width="0.68" height="48.5" fill="#000" fill-opacity="0.073"/>
<rect x="379.69" y="202" width="1.00" height="48.5" fill="#000" fill-opacity="0.049"/>
<rect x="112.56" y="202" width="1.20" height="48.5" fill="#000" fill-opacity="0.063"/>
<rect x="235.21" y="202" width="0.63" height="48.5" fill="#000" fill-opacity="0.025"/>
<rect x="178.75" y="202" width="0.76" height="48.5" fill="#000" fill-opacity="0.014"/>
<rect x="190.19" y="202" width="0.86" height="48.5" fill="#000" fill-opacity="0.030"/>
<rect x="180.87" y="202" width="0.77" height="48.5" fill="#000" fill-opacity="0.036"/>
<rect x="280.04" y="202" width="0.90" height="48.5" fill="#000" fill-opacity="0.024"/>
<rect x="354.50" y="202" width="0.91" height="48.5" fill="#000" fill-opacity="0.042"/>
<rect x="319.89" y="202" width="1.10" height="48.5" fill="#000" fill-opacity="0.069"/>
<rect x="361.25" y="202" width="1.04" height="48.5" fill="#000" fill-opacity="0.060"/>
<rect x="84.89" y="202" width="1.06" height="48.5" fill="#000" fill-opacity="0.028"/>
<rect x="127.44" y="202" width="0.60" height="48.5" fill="#000" fill-opacity="0.038"/>
<rect x="26.90" y="202" width="1.03" height="48.5" fill="#000" fill-opacity="0.062"/>
<rect x="346.17" y="202" width="0.60" height="48.5" fill="#000" fill-opacity="0.055"/>
<rect x="21.60" y="203.00" width="1.90" height="47.00" fill="url(#g117)"/>
<rect x="21.20" y="236.00" width="2.60" height="14.00" fill="url(#g118)"/>
<rect x="44.20" y="203.00" width="1.90" height="47.00" fill="url(#g119)"/>
<rect x="43.80" y="232.00" width="2.50" height="18.00" fill="url(#g120)"/>
<rect x="56.60" y="202.00" width="2.80" height="46.00" fill="url(#g121)"/>
<rect x="56.90" y="203.50" width="2.20" height="1.20" fill="#000" fill-opacity="0.154"/>
<rect x="56.90" y="206.00" width="2.20" height="1.20" fill="#000" fill-opacity="0.176"/>
<rect x="56.90" y="208.50" width="2.20" height="1.20" fill="#000" fill-opacity="0.199"/>
<rect x="56.90" y="211.00" width="2.20" height="1.20" fill="#000" fill-opacity="0.221"/>
<rect x="56.90" y="213.50" width="2.20" height="1.20" fill="#000" fill-opacity="0.244"/>
<rect x="56.90" y="216.00" width="2.20" height="1.20" fill="#000" fill-opacity="0.267"/>
<rect x="56.90" y="218.50" width="2.20" height="1.20" fill="#000" fill-opacity="0.289"/>
<rect x="56.90" y="221.00" width="2.20" height="1.20" fill="#000" fill-opacity="0.312"/>
<rect x="56.90" y="223.50" width="2.20" height="1.20" fill="#000" fill-opacity="0.334"/>
<rect x="56.90" y="226.00" width="2.20" height="1.20" fill="#000" fill-opacity="0.357"/>
<rect x="56.90" y="228.50" width="2.20" height="1.20" fill="#000" fill-opacity="0.380"/>
<rect x="56.90" y="231.00" width="2.20" height="1.20" fill="#000" fill-opacity="0.400"/>
<rect x="56.90" y="233.50" width="2.20" height="1.20" fill="#000" fill-opacity="0.400"/>
<rect x="56.90" y="236.00" width="2.20" height="1.20" fill="#000" fill-opacity="0.400"/>
<rect x="56.90" y="238.50" width="2.20" height="1.20" fill="#000" fill-opacity="0.400"/>
<rect x="56.90" y="241.00" width="2.20" height="1.20" fill="#000" fill-opacity="0.400"/>
<rect x="56.90" y="243.50" width="2.20" height="1.20" fill="#000" fill-opacity="0.400"/>
<rect x="56.90" y="246.00" width="2.20" height="1.20" fill="#000" fill-opacity="0.400"/>
<rect x="63.50" y="202.00" width="1.90" height="46.00" fill="url(#g122)"/>
<rect x="63.80" y="203.50" width="1.30" height="1.20" fill="#000" fill-opacity="0.154"/>
<rect x="63.80" y="206.00" width="1.30" height="1.20" fill="#000" fill-opacity="0.176"/>
<rect x="63.80" y="208.50" width="1.30" height="1.20" fill="#000" fill-opacity="0.199"/>
<rect x="63.80" y="211.00" width="1.30" height="1.20" fill="#000" fill-opacity="0.221"/>
<rect x="63.80" y="213.50" width="1.30" height="1.20" fill="#000" fill-opacity="0.244"/>
<rect x="63.80" y="216.00" width="1.30" height="1.20" fill="#000" fill-opacity="0.267"/>
<rect x="63.80" y="218.50" width="1.30" height="1.20" fill="#000" fill-opacity="0.289"/>
<rect x="63.80" y="221.00" width="1.30" height="1.20" fill="#000" fill-opacity="0.312"/>
<rect x="63.80" y="223.50" width="1.30" height="1.20" fill="#000" fill-opacity="0.334"/>
<rect x="63.80" y="226.00" width="1.30" height="1.20" fill="#000" fill-opacity="0.357"/>
<rect x="63.80" y="228.50" width="1.30" height="1.20" fill="#000" fill-opacity="0.380"/>
<rect x="63.80" y="231.00" width="1.30" height="1.20" fill="#000" fill-opacity="0.400"/>
<rect x="63.80" y="233.50" width="1.30" height="1.20" fill="#000" fill-opacity="0.400"/>
<rect x="63.80" y="236.00" width="1.30" height="1.20" fill="#000" fill-opacity="0.400"/>
<rect x="63.80" y="238.50" width="1.30" height="1.20" fill="#000" fill-opacity="0.400"/>
<rect x="63.80" y="241.00" width="1.30" height="1.20" fill="#000" fill-opacity="0.400"/>
<rect x="63.80" y="243.50" width="1.30" height="1.20" fill="#000" fill-opacity="0.400"/>
<rect x="63.80" y="246.00" width="1.30" height="1.20" fill="#000" fill-opacity="0.400"/>
<rect x="67.80" y="202.00" width="1.90" height="46.00" fill="url(#g123)"/>
<rect x="68.10" y="203.50" width="1.30" height="1.20" fill="#000" fill-opacity="0.154"/>
<rect x="68.10" y="206.00" width="1.30" height="1.20" fill="#000" fill-opacity="0.176"/>
<rect x="68.10" y="208.50" width="1.30" height="1.20" fill="#000" fill-opacity="0.199"/>
<rect x="68.10" y="211.00" width="1.30" height="1.20" fill="#000" fill-opacity="0.221"/>
<rect x="68.10" y="213.50" width="1.30" height="1.20" fill="#000" fill-opacity="0.244"/>
<rect x="68.10" y="216.00" width="1.30" height="1.20" fill="#000" fill-opacity="0.267"/>
<rect x="68.10" y="218.50" width="1.30" height="1.20" fill="#000" fill-opacity="0.289"/>
<rect x="68.10" y="221.00" width="1.30" height="1.20" fill="#000" fill-opacity="0.312"/>
<rect x="68.10" y="223.50" width="1.30" height="1.20" fill="#000" fill-opacity="0.334"/>
<rect x="68.10" y="226.00" width="1.30" height="1.20" fill="#000" fill-opacity="0.357"/>
<rect x="68.10" y="228.50" width="1.30" height="1.20" fill="#000" fill-opacity="0.380"/>
<rect x="68.10" y="231.00" width="1.30" height="1.20" fill="#000" fill-opacity="0.400"/>
<rect x="68.10" y="233.50" width="1.30" height="1.20" fill="#000" fill-opacity="0.400"/>
<rect x="68.10" y="236.00" width="1.30" height="1.20" fill="#000" fill-opacity="0.400"/>
<rect x="68.10" y="238.50" width="1.30" height="1.20" fill="#000" fill-opacity="0.400"/>
<rect x="68.10" y="241.00" width="1.30" height="1.20" fill="#000" fill-opacity="0.400"/>
<rect x="68.10" y="243.50" width="1.30" height="1.20" fill="#000" fill-opacity="0.400"/>
<rect x="68.10" y="246.00" width="1.30" height="1.20" fill="#000" fill-opacity="0.400"/>
<rect x="70.60" y="202.00" width="1.40" height="46.00" fill="url(#g124)"/>
<rect x="70.90" y="203.50" width="0.80" height="1.20" fill="#000" fill-opacity="0.154"/>
<rect x="70.90" y="206.00" width="0.80" height="1.20" fill="#000" fill-opacity="0.176"/>
<rect x="70.90" y="208.50" width="0.80" height="1.20" fill="#000" fill-opacity="0.199"/>
<rect x="70.90" y="211.00" width="0.80" height="1.20" fill="#000" fill-opacity="0.221"/>
<rect x="70.90" y="213.50" width="0.80" height="1.20" fill="#000" fill-opacity="0.244"/>
<rect x="70.90" y="216.00" width="0.80" height="1.20" fill="#000" fill-opacity="0.267"/>
<rect x="70.90" y="218.50" width="0.80" height="1.20" fill="#000" fill-opacity="0.289"/>
<rect x="70.90" y="221.00" width="0.80" height="1.20" fill="#000" fill-opacity="0.312"/>
<rect x="70.90" y="223.50" width="0.80" height="1.20" fill="#000" fill-opacity="0.334"/>
<rect x="70.90" y="226.00" width="0.80" height="1.20" fill="#000" fill-opacity="0.357"/>
<rect x="70.90" y="228.50" width="0.80" height="1.20" fill="#000" fill-opacity="0.380"/>
<rect x="70.90" y="231.00" width="0.80" height="1.20" fill="#000" fill-opacity="0.400"/>
<rect x="70.90" y="233.50" width="0.80" height="1.20" fill="#000" fill-opacity="0.400"/>
<rect x="70.90" y="236.00" width="0.80" height="1.20" fill="#000" fill-opacity="0.400"/>
<rect x="70.90" y="238.50" width="0.80" height="1.20" fill="#000" fill-opacity="0.400"/>
<rect x="70.90" y="241.00" width="0.80" height="1.20" fill="#000" fill-opacity="0.400"/>
<rect x="70.90" y="243.50" width="0.80" height="1.20" fill="#000" fill-opacity="0.400"/>
<rect x="70.90" y="246.00" width="0.80" height="1.20" fill="#000" fill-opacity="0.400"/>
<rect x="73.40" y="202.00" width="1.80" height="46.00" fill="url(#g125)"/>
<rect x="73.70" y="203.50" width="1.20" height="1.20" fill="#000" fill-opacity="0.154"/>
<rect x="73.70" y="206.00" width="1.20" height="1.20" fill="#000" fill-opacity="0.176"/>
<rect x="73.70" y="208.50" width="1.20" height="1.20" fill="#000" fill-opacity="0.199"/>
<rect x="73.70" y="211.00" width="1.20" height="1.20" fill="#000" fill-opacity="0.221"/>
<rect x="73.70" y="213.50" width="1.20" height="1.20" fill="#000" fill-opacity="0.244"/>
<rect x="73.70" y="216.00" width="1.20" height="1.20" fill="#000" fill-opacity="0.267"/>
<rect x="73.70" y="218.50" width="1.20" height="1.20" fill="#000" fill-opacity="0.289"/>
<rect x="73.70" y="221.00" width="1.20" height="1.20" fill="#000" fill-opacity="0.312"/>
<rect x="73.70" y="223.50" width="1.20" height="1.20" fill="#000" fill-opacity="0.334"/>
<rect x="73.70" y="226.00" width="1.20" height="1.20" fill="#000" fill-opacity="0.357"/>
<rect x="73.70" y="228.50" width="1.20" height="1.20" fill="#000" fill-opacity="0.380"/>
<rect x="73.70" y="231.00" width="1.20" height="1.20" fill="#000" fill-opacity="0.400"/>
<rect x="73.70" y="233.50" width="1.20" height="1.20" fill="#000" fill-opacity="0.400"/>
<rect x="73.70" y="236.00" width="1.20" height="1.20" fill="#000" fill-opacity="0.400"/>
<rect x="73.70" y="238.50" width="1.20" height="1.20" fill="#000" fill-opacity="0.400"/>
<rect x="73.70" y="241.00" width="1.20" height="1.20" fill="#000" fill-opacity="0.400"/>
<rect x="73.70" y="243.50" width="1.20" height="1.20" fill="#000" fill-opacity="0.400"/>
<rect x="73.70" y="246.00" width="1.20" height="1.20" fill="#000" fill-opacity="0.400"/>
<rect x="83.60" y="202.00" width="2.80" height="46.00" fill="url(#g126)"/>
<rect x="83.90" y="203.50" width="2.20" height="1.20" fill="#000" fill-opacity="0.154"/>
<rect x="83.90" y="206.00" width="2.20" height="1.20" fill="#000" fill-opacity="0.176"/>
<rect x="83.90" y="208.50" width="2.20" height="1.20" fill="#000" fill-opacity="0.199"/>
<rect x="83.90" y="211.00" width="2.20" height="1.20" fill="#000" fill-opacity="0.221"/>
<rect x="83.90" y="213.50" width="2.20" height="1.20" fill="#000" fill-opacity="0.244"/>
<rect x="83.90" y="216.00" width="2.20" height="1.20" fill="#000" fill-opacity="0.267"/>
<rect x="83.90" y="218.50" width="2.20" height="1.20" fill="#000" fill-opacity="0.289"/>
<rect x="83.90" y="221.00" width="2.20" height="1.20" fill="#000" fill-opacity="0.312"/>
<rect x="83.90" y="223.50" width="2.20" height="1.20" fill="#000" fill-opacity="0.334"/>
<rect x="83.90" y="226.00" width="2.20" height="1.20" fill="#000" fill-opacity="0.357"/>
<rect x="83.90" y="228.50" width="2.20" height="1.20" fill="#000" fill-opacity="0.380"/>
<rect x="83.90" y="231.00" width="2.20" height="1.20" fill="#000" fill-opacity="0.400"/>
<rect x="83.90" y="233.50" width="2.20" height="1.20" fill="#000" fill-opacity="0.400"/>
<rect x="83.90" y="236.00" width="2.20" height="1.20" fill="#000" fill-opacity="0.400"/>
<rect x="83.90" y="238.50" width="2.20" height="1.20" fill="#000" fill-opacity="0.400"/>
<rect x="83.90" y="241.00" width="2.20" height="1.20" fill="#000" fill-opacity="0.400"/>
<rect x="83.90" y="243.50" width="2.20" height="1.20" fill="#000" fill-opacity="0.400"/>
<rect x="83.90" y="246.00" width="2.20" height="1.20" fill="#000" fill-opacity="0.400"/>
<rect x="91.00" y="202.00" width="2.70" height="46.00" fill="url(#g127)"/>
<rect x="91.30" y="203.50" width="2.10" height="1.20" fill="#000" fill-opacity="0.154"/>
<rect x="91.30" y="206.00" width="2.10" height="1.20" fill="#000" fill-opacity="0.176"/>
<rect x="91.30" y="208.50" width="2.10" height="1.20" fill="#000" fill-opacity="0.199"/>
<rect x="91.30" y="211.00" width="2.10" height="1.20" fill="#000" fill-opacity="0.221"/>
<rect x="91.30" y="213.50" width="2.10" height="1.20" fill="#000" fill-opacity="0.244"/>
<rect x="91.30" y="216.00" width="2.10" height="1.20" fill="#000" fill-opacity="0.267"/>
<rect x="91.30" y="218.50" width="2.10" height="1.20" fill="#000" fill-opacity="0.289"/>
<rect x="91.30" y="221.00" width="2.10" height="1.20" fill="#000" fill-opacity="0.312"/>
<rect x="91.30" y="223.50" width="2.10" height="1.20" fill="#000" fill-opacity="0.334"/>
<rect x="91.30" y="226.00" width="2.10" height="1.20" fill="#000" fill-opacity="0.357"/>
<rect x="91.30" y="228.50" width="2.10" height="1.20" fill="#000" fill-opacity="0.380"/>
<rect x="91.30" y="231.00" width="2.10" height="1.20" fill="#000" fill-opacity="0.400"/>
<rect x="91.30" y="233.50" width="2.10" height="1.20" fill="#000" fill-opacity="0.400"/>
<rect x="91.30" y="236.00" width="2.10" height="1.20" fill="#000" fill-opacity="0.400"/>
<rect x="91.30" y="238.50" width="2.10" height="1.20" fill="#000" fill-opacity="0.400"/>
<rect x="91.30" y="241.00" width="2.10" height="1.20" fill="#000" fill-opacity="0.400"/>
<rect x="91.30" y="243.50" width="2.10" height="1.20" fill="#000" fill-opacity="0.400"/>
<rect x="91.30" y="246.00" width="2.10" height="1.20" fill="#000" fill-opacity="0.400"/>
<rect x="95.60" y="202.00" width="2.80" height="46.00" fill="url(#g128)"/>
<rect x="95.90" y="203.50" width="2.20" height="1.20" fill="#000" fill-opacity="0.154"/>
<rect x="95.90" y="206.00" width="2.20" height="1.20" fill="#000" fill-opacity="0.176"/>
<rect x="95.90" y="208.50" width="2.20" height="1.20" fill="#000" fill-opacity="0.199"/>
<rect x="95.90" y="211.00" width="2.20" height="1.20" fill="#000" fill-opacity="0.221"/>
<rect x="95.90" y="213.50" width="2.20" height="1.20" fill="#000" fill-opacity="0.244"/>
<rect x="95.90" y="216.00" width="2.20" height="1.20" fill="#000" fill-opacity="0.267"/>
<rect x="95.90" y="218.50" width="2.20" height="1.20" fill="#000" fill-opacity="0.289"/>
<rect x="95.90" y="221.00" width="2.20" height="1.20" fill="#000" fill-opacity="0.312"/>
<rect x="95.90" y="223.50" width="2.20" height="1.20" fill="#000" fill-opacity="0.334"/>
<rect x="95.90" y="226.00" width="2.20" height="1.20" fill="#000" fill-opacity="0.357"/>
<rect x="95.90" y="228.50" width="2.20" height="1.20" fill="#000" fill-opacity="0.380"/>
<rect x="95.90" y="231.00" width="2.20" height="1.20" fill="#000" fill-opacity="0.400"/>
<rect x="95.90" y="233.50" width="2.20" height="1.20" fill="#000" fill-opacity="0.400"/>
<rect x="95.90" y="236.00" width="2.20" height="1.20" fill="#000" fill-opacity="0.400"/>
<rect x="95.90" y="238.50" width="2.20" height="1.20" fill="#000" fill-opacity="0.400"/>
<rect x="95.90" y="241.00" width="2.20" height="1.20" fill="#000" fill-opacity="0.400"/>
<rect x="95.90" y="243.50" width="2.20" height="1.20" fill="#000" fill-opacity="0.400"/>
<rect x="95.90" y="246.00" width="2.20" height="1.20" fill="#000" fill-opacity="0.400"/>
<rect x="100.20" y="202.00" width="2.80" height="46.00" fill="url(#g129)"/>
<rect x="100.50" y="203.50" width="2.20" height="1.20" fill="#000" fill-opacity="0.154"/>
<rect x="100.50" y="206.00" width="2.20" height="1.20" fill="#000" fill-opacity="0.176"/>
<rect x="100.50" y="208.50" width="2.20" height="1.20" fill="#000" fill-opacity="0.199"/>
<rect x="100.50" y="211.00" width="2.20" height="1.20" fill="#000" fill-opacity="0.221"/>
<rect x="100.50" y="213.50" width="2.20" height="1.20" fill="#000" fill-opacity="0.244"/>
<rect x="100.50" y="216.00" width="2.20" height="1.20" fill="#000" fill-opacity="0.267"/>
<rect x="100.50" y="218.50" width="2.20" height="1.20" fill="#000" fill-opacity="0.289"/>
<rect x="100.50" y="221.00" width="2.20" height="1.20" fill="#000" fill-opacity="0.312"/>
<rect x="100.50" y="223.50" width="2.20" height="1.20" fill="#000" fill-opacity="0.334"/>
<rect x="100.50" y="226.00" width="2.20" height="1.20" fill="#000" fill-opacity="0.357"/>
<rect x="100.50" y="228.50" width="2.20" height="1.20" fill="#000" fill-opacity="0.380"/>
<rect x="100.50" y="231.00" width="2.20" height="1.20" fill="#000" fill-opacity="0.400"/>
<rect x="100.50" y="233.50" width="2.20" height="1.20" fill="#000" fill-opacity="0.400"/>
<rect x="100.50" y="236.00" width="2.20" height="1.20" fill="#000" fill-opacity="0.400"/>
<rect x="100.50" y="238.50" width="2.20" height="1.20" fill="#000" fill-opacity="0.400"/>
<rect x="100.50" y="241.00" width="2.20" height="1.20" fill="#000" fill-opacity="0.400"/>
<rect x="100.50" y="243.50" width="2.20" height="1.20" fill="#000" fill-opacity="0.400"/>
<rect x="100.50" y="246.00" width="2.20" height="1.20" fill="#000" fill-opacity="0.400"/>
<rect x="110.40" y="202.00" width="2.80" height="46.00" fill="url(#g130)"/>
<rect x="110.70" y="203.50" width="2.20" height="1.20" fill="#000" fill-opacity="0.154"/>
<rect x="110.70" y="206.00" width="2.20" height="1.20" fill="#000" fill-opacity="0.176"/>
<rect x="110.70" y="208.50" width="2.20" height="1.20" fill="#000" fill-opacity="0.199"/>
<rect x="110.70" y="211.00" width="2.20" height="1.20" fill="#000" fill-opacity="0.221"/>
<rect x="110.70" y="213.50" width="2.20" height="1.20" fill="#000" fill-opacity="0.244"/>
<rect x="110.70" y="216.00" width="2.20" height="1.20" fill="#000" fill-opacity="0.267"/>
<rect x="110.70" y="218.50" width="2.20" height="1.20" fill="#000" fill-opacity="0.289"/>
<rect x="110.70" y="221.00" width="2.20" height="1.20" fill="#000" fill-opacity="0.312"/>
<rect x="110.70" y="223.50" width="2.20" height="1.20" fill="#000" fill-opacity="0.334"/>
<rect x="110.70" y="226.00" width="2.20" height="1.20" fill="#000" fill-opacity="0.357"/>
<rect x="110.70" y="228.50" width="2.20" height="1.20" fill="#000" fill-opacity="0.380"/>
<rect x="110.70" y="231.00" width="2.20" height="1.20" fill="#000" fill-opacity="0.400"/>
<rect x="110.70" y="233.50" width="2.20" height="1.20" fill="#000" fill-opacity="0.400"/>
<rect x="110.70" y="236.00" width="2.20" height="1.20" fill="#000" fill-opacity="0.400"/>
<rect x="110.70" y="238.50" width="2.20" height="1.20" fill="#000" fill-opacity="0.400"/>
<rect x="110.70" y="241.00" width="2.20" height="1.20" fill="#000" fill-opacity="0.400"/>
<rect x="110.70" y="243.50" width="2.20" height="1.20" fill="#000" fill-opacity="0.400"/>
<rect x="110.70" y="246.00" width="2.20" height="1.20" fill="#000" fill-opacity="0.400"/>
<rect x="117.90" y="202.00" width="2.80" height="46.00" fill="url(#g131)"/>
<rect x="118.20" y="203.50" width="2.20" height="1.20" fill="#000" fill-opacity="0.154"/>
<rect x="118.20" y="206.00" width="2.20" height="1.20" fill="#000" fill-opacity="0.176"/>
<rect x="118.20" y="208.50" width="2.20" height="1.20" fill="#000" fill-opacity="0.199"/>
<rect x="118.20" y="211.00" width="2.20" height="1.20" fill="#000" fill-opacity="0.221"/>
<rect x="118.20" y="213.50" width="2.20" height="1.20" fill="#000" fill-opacity="0.244"/>
<rect x="118.20" y="216.00" width="2.20" height="1.20" fill="#000" fill-opacity="0.267"/>
<rect x="118.20" y="218.50" width="2.20" height="1.20" fill="#000" fill-opacity="0.289"/>
<rect x="118.20" y="221.00" width="2.20" height="1.20" fill="#000" fill-opacity="0.312"/>
<rect x="118.20" y="223.50" width="2.20" height="1.20" fill="#000" fill-opacity="0.334"/>
<rect x="118.20" y="226.00" width="2.20" height="1.20" fill="#000" fill-opacity="0.357"/>
<rect x="118.20" y="228.50" width="2.20" height="1.20" fill="#000" fill-opacity="0.380"/>
<rect x="118.20" y="231.00" width="2.20" height="1.20" fill="#000" fill-opacity="0.400"/>
<rect x="118.20" y="233.50" width="2.20" height="1.20" fill="#000" fill-opacity="0.400"/>
<rect x="118.20" y="236.00" width="2.20" height="1.20" fill="#000" fill-opacity="0.400"/>
<rect x="118.20" y="238.50" width="2.20" height="1.20" fill="#000" fill-opacity="0.400"/>
<rect x="118.20" y="241.00" width="2.20" height="1.20" fill="#000" fill-opacity="0.400"/>
<rect x="118.20" y="243.50" width="2.20" height="1.20" fill="#000" fill-opacity="0.400"/>
<rect x="118.20" y="246.00" width="2.20" height="1.20" fill="#000" fill-opacity="0.400"/>
<rect x="122.50" y="202.00" width="2.80" height="46.00" fill="url(#g132)"/>
<rect x="122.80" y="203.50" width="2.20" height="1.20" fill="#000" fill-opacity="0.154"/>
<rect x="122.80" y="206.00" width="2.20" height="1.20" fill="#000" fill-opacity="0.176"/>
<rect x="122.80" y="208.50" width="2.20" height="1.20" fill="#000" fill-opacity="0.199"/>
<rect x="122.80" y="211.00" width="2.20" height="1.20" fill="#000" fill-opacity="0.221"/>
<rect x="122.80" y="213.50" width="2.20" height="1.20" fill="#000" fill-opacity="0.244"/>
<rect x="122.80" y="216.00" width="2.20" height="1.20" fill="#000" fill-opacity="0.267"/>
<rect x="122.80" y="218.50" width="2.20" height="1.20" fill="#000" fill-opacity="0.289"/>
<rect x="122.80" y="221.00" width="2.20" height="1.20" fill="#000" fill-opacity="0.312"/>
<rect x="122.80" y="223.50" width="2.20" height="1.20" fill="#000" fill-opacity="0.334"/>
<rect x="122.80" y="226.00" width="2.20" height="1.20" fill="#000" fill-opacity="0.357"/>
<rect x="122.80" y="228.50" width="2.20" height="1.20" fill="#000" fill-opacity="0.380"/>
<rect x="122.80" y="231.00" width="2.20" height="1.20" fill="#000" fill-opacity="0.400"/>
<rect x="122.80" y="233.50" width="2.20" height="1.20" fill="#000" fill-opacity="0.400"/>
<rect x="122.80" y="236.00" width="2.20" height="1.20" fill="#000" fill-opacity="0.400"/>
<rect x="122.80" y="238.50" width="2.20" height="1.20" fill="#000" fill-opacity="0.400"/>
<rect x="122.80" y="241.00" width="2.20" height="1.20" fill="#000" fill-opacity="0.400"/>
<rect x="122.80" y="243.50" width="2.20" height="1.20" fill="#000" fill-opacity="0.400"/>
<rect x="122.80" y="246.00" width="2.20" height="1.20" fill="#000" fill-opacity="0.400"/>
<rect x="56.00" y="215.00" width="72.00" height="33.00" fill="#000" fill-opacity="0.040"/>
<rect x="137.30" y="202.50" width="1.20" height="45.50" fill="url(#g134)"/>
<rect x="161.00" y="202.50" width="1.20" height="45.50" fill="url(#g134)"/>
<rect x="138.50" y="202.50" width="22.50" height="45.50" fill="url(#g133)"/>
<rect x="137.60" y="204.00" width="24.30" height="1.50" fill="#000" fill-opacity="0.192"/>
<rect x="137.60" y="206.90" width="24.30" height="1.50" fill="#000" fill-opacity="0.225"/>
<rect x="137.60" y="209.80" width="24.30" height="1.50" fill="#000" fill-opacity="0.258"/>
<rect x="137.60" y="212.70" width="24.30" height="1.50" fill="#000" fill-opacity="0.292"/>
<rect x="137.60" y="215.60" width="24.30" height="1.50" fill="#000" fill-opacity="0.325"/>
<rect x="137.60" y="218.50" width="24.30" height="1.50" fill="#000" fill-opacity="0.358"/>
<rect x="137.60" y="221.40" width="24.30" height="1.50" fill="#000" fill-opacity="0.391"/>
<rect x="137.60" y="224.30" width="24.30" height="1.50" fill="#000" fill-opacity="0.424"/>
<rect x="137.60" y="227.20" width="24.30" height="1.50" fill="#000" fill-opacity="0.457"/>
<rect x="137.60" y="230.10" width="24.30" height="1.50" fill="#000" fill-opacity="0.490"/>
<rect x="137.60" y="233.00" width="24.30" height="1.50" fill="#000" fill-opacity="0.500"/>
<rect x="137.60" y="235.90" width="24.30" height="1.50" fill="#000" fill-opacity="0.500"/>
<rect x="137.60" y="238.80" width="24.30" height="1.50" fill="#000" fill-opacity="0.500"/>
<rect x="137.60" y="241.70" width="24.30" height="1.50" fill="#000" fill-opacity="0.500"/>
<rect x="137.60" y="244.60" width="24.30" height="1.50" fill="#000" fill-opacity="0.500"/>
<ellipse cx="151.00" cy="232.00" rx="12.00" ry="18.00" fill="url(#g135)"/>
<rect x="174.00" y="206.00" width="1.20" height="44.00" fill="url(#g136)"/>
<rect x="172.63" y="209.00" width="3.00" height="1.40" fill="#000" fill-opacity="0.051"/>
<rect x="172.67" y="211.90" width="3.00" height="1.40" fill="#000" fill-opacity="0.082"/>
<rect x="172.70" y="214.80" width="3.00" height="1.40" fill="#000" fill-opacity="0.117"/>
<rect x="172.73" y="217.70" width="3.00" height="1.40" fill="#000" fill-opacity="0.156"/>
<rect x="172.77" y="220.60" width="3.00" height="1.40" fill="#000" fill-opacity="0.198"/>
<rect x="172.80" y="223.50" width="3.00" height="1.40" fill="#000" fill-opacity="0.242"/>
<rect x="172.83" y="226.40" width="3.00" height="1.40" fill="#000" fill-opacity="0.289"/>
<rect x="172.86" y="229.30" width="3.00" height="1.40" fill="#000" fill-opacity="0.338"/>
<rect x="172.90" y="232.20" width="3.00" height="1.40" fill="#000" fill-opacity="0.389"/>
<rect x="172.93" y="235.10" width="3.00" height="1.40" fill="#000" fill-opacity="0.441"/>
<rect x="172.96" y="238.00" width="3.00" height="1.40" fill="#000" fill-opacity="0.495"/>
<rect x="173.00" y="240.90" width="3.00" height="1.40" fill="#000" fill-opacity="0.551"/>
<rect x="173.03" y="243.80" width="3.00" height="1.40" fill="#000" fill-opacity="0.608"/>
<rect x="173.06" y="246.70" width="3.00" height="1.40" fill="#000" fill-opacity="0.666"/>
<ellipse cx="174.60" cy="247.80" rx="1.70" ry="2.4" fill="#000" fill-opacity="0.84"/>
<rect x="192.70" y="206.00" width="1.20" height="44.00" fill="url(#g137)"/>
<rect x="191.33" y="209.00" width="3.00" height="1.40" fill="#000" fill-opacity="0.051"/>
<rect x="191.37" y="211.90" width="3.00" height="1.40" fill="#000" fill-opacity="0.082"/>
<rect x="191.40" y="214.80" width="3.00" height="1.40" fill="#000" fill-opacity="0.117"/>
<rect x="191.43" y="217.70" width="3.00" height="1.40" fill="#000" fill-opacity="0.156"/>
<rect x="191.47" y="220.60" width="3.00" height="1.40" fill="#000" fill-opacity="0.198"/>
<rect x="191.50" y="223.50" width="3.00" height="1.40" fill="#000" fill-opacity="0.242"/>
<rect x="191.53" y="226.40" width="3.00" height="1.40" fill="#000" fill-opacity="0.289"/>
<rect x="191.56" y="229.30" width="3.00" height="1.40" fill="#000" fill-opacity="0.338"/>
<rect x="191.60" y="232.20" width="3.00" height="1.40" fill="#000" fill-opacity="0.389"/>
<rect x="191.63" y="235.10" width="3.00" height="1.40" fill="#000" fill-opacity="0.441"/>
<rect x="191.66" y="238.00" width="3.00" height="1.40" fill="#000" fill-opacity="0.495"/>
<rect x="191.70" y="240.90" width="3.00" height="1.40" fill="#000" fill-opacity="0.551"/>
<rect x="191.73" y="243.80" width="3.00" height="1.40" fill="#000" fill-opacity="0.608"/>
<rect x="191.76" y="246.70" width="3.00" height="1.40" fill="#000" fill-opacity="0.666"/>
<ellipse cx="193.30" cy="247.80" rx="1.70" ry="2.4" fill="#000" fill-opacity="0.84"/>
<rect x="204.10" y="206.00" width="1.20" height="44.00" fill="url(#g138)"/>
<rect x="202.73" y="209.00" width="3.00" height="1.40" fill="#000" fill-opacity="0.051"/>
<rect x="202.77" y="211.90" width="3.00" height="1.40" fill="#000" fill-opacity="0.082"/>
<rect x="202.80" y="214.80" width="3.00" height="1.40" fill="#000" fill-opacity="0.117"/>
<rect x="202.83" y="217.70" width="3.00" height="1.40" fill="#000" fill-opacity="0.156"/>
<rect x="202.87" y="220.60" width="3.00" height="1.40" fill="#000" fill-opacity="0.198"/>
<rect x="202.90" y="223.50" width="3.00" height="1.40" fill="#000" fill-opacity="0.242"/>
<rect x="202.93" y="226.40" width="3.00" height="1.40" fill="#000" fill-opacity="0.289"/>
<rect x="202.96" y="229.30" width="3.00" height="1.40" fill="#000" fill-opacity="0.338"/>
<rect x="203.00" y="232.20" width="3.00" height="1.40" fill="#000" fill-opacity="0.389"/>
<rect x="203.03" y="235.10" width="3.00" height="1.40" fill="#000" fill-opacity="0.441"/>
<rect x="203.06" y="238.00" width="3.00" height="1.40" fill="#000" fill-opacity="0.495"/>
<rect x="203.10" y="240.90" width="3.00" height="1.40" fill="#000" fill-opacity="0.551"/>
<rect x="203.13" y="243.80" width="3.00" height="1.40" fill="#000" fill-opacity="0.608"/>
<rect x="203.16" y="246.70" width="3.00" height="1.40" fill="#000" fill-opacity="0.666"/>
<ellipse cx="204.70" cy="247.80" rx="1.70" ry="2.4" fill="#000" fill-opacity="0.84"/>
<rect x="221.50" y="203.00" width="1.20" height="43.00" fill="url(#g140)"/>
<rect x="232.80" y="203.00" width="1.20" height="43.00" fill="url(#g140)"/>
<rect x="222.70" y="203.00" width="10.10" height="43.00" fill="url(#g139)"/>
<rect x="221.80" y="204.50" width="11.90" height="1.50" fill="#000" fill-opacity="0.193"/>
<rect x="221.80" y="207.50" width="11.90" height="1.50" fill="#000" fill-opacity="0.229"/>
<rect x="221.80" y="210.50" width="11.90" height="1.50" fill="#000" fill-opacity="0.266"/>
<rect x="221.80" y="213.50" width="11.90" height="1.50" fill="#000" fill-opacity="0.302"/>
<rect x="221.80" y="216.50" width="11.90" height="1.50" fill="#000" fill-opacity="0.338"/>
<rect x="221.80" y="219.50" width="11.90" height="1.50" fill="#000" fill-opacity="0.375"/>
<rect x="221.80" y="222.50" width="11.90" height="1.50" fill="#000" fill-opacity="0.411"/>
<rect x="221.80" y="225.50" width="11.90" height="1.50" fill="#000" fill-opacity="0.447"/>
<rect x="221.80" y="228.50" width="11.90" height="1.50" fill="#000" fill-opacity="0.483"/>
<rect x="221.80" y="231.50" width="11.90" height="1.50" fill="#000" fill-opacity="0.500"/>
<rect x="221.80" y="234.50" width="11.90" height="1.50" fill="#000" fill-opacity="0.500"/>
<rect x="221.80" y="237.50" width="11.90" height="1.50" fill="#000" fill-opacity="0.500"/>
<rect x="221.80" y="240.50" width="11.90" height="1.50" fill="#000" fill-opacity="0.500"/>
<rect x="221.80" y="243.50" width="11.90" height="1.50" fill="#000" fill-opacity="0.500"/>
<ellipse cx="228.00" cy="230.00" rx="7.00" ry="15.00" fill="url(#g141)"/>
<rect x="236.80" y="203.00" width="4.40" height="46.00" fill="url(#g142)"/>
<rect x="237.10" y="204.50" width="3.80" height="1.10" fill="#000" fill-opacity="0.154"/>
<rect x="237.10" y="207.50" width="3.80" height="1.10" fill="#000" fill-opacity="0.181"/>
<rect x="237.10" y="210.50" width="3.80" height="1.10" fill="#000" fill-opacity="0.208"/>
<rect x="237.10" y="213.50" width="3.80" height="1.10" fill="#000" fill-opacity="0.235"/>
<rect x="237.10" y="216.50" width="3.80" height="1.10" fill="#000" fill-opacity="0.262"/>
<rect x="237.10" y="219.50" width="3.80" height="1.10" fill="#000" fill-opacity="0.289"/>
<rect x="237.10" y="222.50" width="3.80" height="1.10" fill="#000" fill-opacity="0.316"/>
<rect x="237.10" y="225.50" width="3.80" height="1.10" fill="#000" fill-opacity="0.343"/>
<rect x="237.10" y="228.50" width="3.80" height="1.10" fill="#000" fill-opacity="0.371"/>
<rect x="237.10" y="231.50" width="3.80" height="1.10" fill="#000" fill-opacity="0.398"/>
<rect x="237.10" y="234.50" width="3.80" height="1.10" fill="#000" fill-opacity="0.400"/>
<rect x="237.10" y="237.50" width="3.80" height="1.10" fill="#000" fill-opacity="0.400"/>
<rect x="237.10" y="240.50" width="3.80" height="1.10" fill="#000" fill-opacity="0.400"/>
<rect x="237.10" y="243.50" width="3.80" height="1.10" fill="#000" fill-opacity="0.400"/>
<rect x="237.10" y="246.50" width="3.80" height="1.10" fill="#000" fill-opacity="0.400"/>
<rect x="251.00" y="203.00" width="1.20" height="44.00" fill="url(#g144)"/>
<rect x="262.80" y="203.00" width="1.20" height="44.00" fill="url(#g144)"/>
<rect x="252.20" y="203.00" width="10.60" height="44.00" fill="url(#g143)"/>
<rect x="251.30" y="204.50" width="12.40" height="1.50" fill="#000" fill-opacity="0.193"/>
<rect x="251.30" y="207.50" width="12.40" height="1.50" fill="#000" fill-opacity="0.228"/>
<rect x="251.30" y="210.50" width="12.40" height="1.50" fill="#000" fill-opacity="0.264"/>
<rect x="251.30" y="213.50" width="12.40" height="1.50" fill="#000" fill-opacity="0.299"/>
<rect x="251.30" y="216.50" width="12.40" height="1.50" fill="#000" fill-opacity="0.335"/>
<rect x="251.30" y="219.50" width="12.40" height="1.50" fill="#000" fill-opacity="0.370"/>
<rect x="251.30" y="222.50" width="12.40" height="1.50" fill="#000" fill-opacity="0.405"/>
<rect x="251.30" y="225.50" width="12.40" height="1.50" fill="#000" fill-opacity="0.441"/>
<rect x="251.30" y="228.50" width="12.40" height="1.50" fill="#000" fill-opacity="0.476"/>
<rect x="251.30" y="231.50" width="12.40" height="1.50" fill="#000" fill-opacity="0.500"/>
<rect x="251.30" y="234.50" width="12.40" height="1.50" fill="#000" fill-opacity="0.500"/>
<rect x="251.30" y="237.50" width="12.40" height="1.50" fill="#000" fill-opacity="0.500"/>
<rect x="251.30" y="240.50" width="12.40" height="1.50" fill="#000" fill-opacity="0.500"/>
<rect x="251.30" y="243.50" width="12.40" height="1.50" fill="#000" fill-opacity="0.500"/>
<ellipse cx="257.50" cy="228.00" rx="7.00" ry="17.00" fill="url(#g145)"/>
<rect x="265.30" y="203.00" width="4.50" height="46.00" fill="url(#g146)"/>
<rect x="265.60" y="204.50" width="3.90" height="1.10" fill="#000" fill-opacity="0.154"/>
<rect x="265.60" y="207.50" width="3.90" height="1.10" fill="#000" fill-opacity="0.181"/>
<rect x="265.60" y="210.50" width="3.90" height="1.10" fill="#000" fill-opacity="0.208"/>
<rect x="265.60" y="213.50" width="3.90" height="1.10" fill="#000" fill-opacity="0.235"/>
<rect x="265.60" y="216.50" width="3.90" height="1.10" fill="#000" fill-opacity="0.262"/>
<rect x="265.60" y="219.50" width="3.90" height="1.10" fill="#000" fill-opacity="0.289"/>
<rect x="265.60" y="222.50" width="3.90" height="1.10" fill="#000" fill-opacity="0.316"/>
<rect x="265.60" y="225.50" width="3.90" height="1.10" fill="#000" fill-opacity="0.343"/>
<rect x="265.60" y="228.50" width="3.90" height="1.10" fill="#000" fill-opacity="0.371"/>
<rect x="265.60" y="231.50" width="3.90" height="1.10" fill="#000" fill-opacity="0.398"/>
<rect x="265.60" y="234.50" width="3.90" height="1.10" fill="#000" fill-opacity="0.400"/>
<rect x="265.60" y="237.50" width="3.90" height="1.10" fill="#000" fill-opacity="0.400"/>
<rect x="265.60" y="240.50" width="3.90" height="1.10" fill="#000" fill-opacity="0.400"/>
<rect x="265.60" y="243.50" width="3.90" height="1.10" fill="#000" fill-opacity="0.400"/>
<rect x="265.60" y="246.50" width="3.90" height="1.10" fill="#000" fill-opacity="0.400"/>
<rect x="280.40" y="206.00" width="1.20" height="44.00" fill="url(#g147)"/>
<rect x="279.03" y="209.00" width="3.00" height="1.40" fill="#000" fill-opacity="0.051"/>
<rect x="279.07" y="211.90" width="3.00" height="1.40" fill="#000" fill-opacity="0.082"/>
<rect x="279.10" y="214.80" width="3.00" height="1.40" fill="#000" fill-opacity="0.117"/>
<rect x="279.13" y="217.70" width="3.00" height="1.40" fill="#000" fill-opacity="0.156"/>
<rect x="279.17" y="220.60" width="3.00" height="1.40" fill="#000" fill-opacity="0.198"/>
<rect x="279.20" y="223.50" width="3.00" height="1.40" fill="#000" fill-opacity="0.242"/>
<rect x="279.23" y="226.40" width="3.00" height="1.40" fill="#000" fill-opacity="0.289"/>
<rect x="279.26" y="229.30" width="3.00" height="1.40" fill="#000" fill-opacity="0.338"/>
<rect x="279.30" y="232.20" width="3.00" height="1.40" fill="#000" fill-opacity="0.389"/>
<rect x="279.33" y="235.10" width="3.00" height="1.40" fill="#000" fill-opacity="0.441"/>
<rect x="279.36" y="238.00" width="3.00" height="1.40" fill="#000" fill-opacity="0.495"/>
<rect x="279.40" y="240.90" width="3.00" height="1.40" fill="#000" fill-opacity="0.551"/>
<rect x="279.43" y="243.80" width="3.00" height="1.40" fill="#000" fill-opacity="0.608"/>
<rect x="279.46" y="246.70" width="3.00" height="1.40" fill="#000" fill-opacity="0.666"/>
<ellipse cx="281.00" cy="247.80" rx="1.70" ry="2.4" fill="#000" fill-opacity="0.84"/>
<rect x="301.30" y="206.00" width="1.20" height="44.00" fill="url(#g148)"/>
<rect x="299.93" y="209.00" width="3.00" height="1.40" fill="#000" fill-opacity="0.051"/>
<rect x="299.97" y="211.90" width="3.00" height="1.40" fill="#000" fill-opacity="0.082"/>
<rect x="300.00" y="214.80" width="3.00" height="1.40" fill="#000" fill-opacity="0.117"/>
<rect x="300.03" y="217.70" width="3.00" height="1.40" fill="#000" fill-opacity="0.156"/>
<rect x="300.07" y="220.60" width="3.00" height="1.40" fill="#000" fill-opacity="0.198"/>
<rect x="300.10" y="223.50" width="3.00" height="1.40" fill="#000" fill-opacity="0.242"/>
<rect x="300.13" y="226.40" width="3.00" height="1.40" fill="#000" fill-opacity="0.289"/>
<rect x="300.16" y="229.30" width="3.00" height="1.40" fill="#000" fill-opacity="0.338"/>
<rect x="300.20" y="232.20" width="3.00" height="1.40" fill="#000" fill-opacity="0.389"/>
<rect x="300.23" y="235.10" width="3.00" height="1.40" fill="#000" fill-opacity="0.441"/>
<rect x="300.26" y="238.00" width="3.00" height="1.40" fill="#000" fill-opacity="0.495"/>
<rect x="300.30" y="240.90" width="3.00" height="1.40" fill="#000" fill-opacity="0.551"/>
<rect x="300.33" y="243.80" width="3.00" height="1.40" fill="#000" fill-opacity="0.608"/>
<rect x="300.36" y="246.70" width="3.00" height="1.40" fill="#000" fill-opacity="0.666"/>
<ellipse cx="301.90" cy="247.80" rx="1.70" ry="2.4" fill="#000" fill-opacity="0.84"/>
<rect x="313.30" y="206.00" width="1.20" height="44.00" fill="url(#g149)"/>
<rect x="311.93" y="209.00" width="3.00" height="1.40" fill="#000" fill-opacity="0.051"/>
<rect x="311.97" y="211.90" width="3.00" height="1.40" fill="#000" fill-opacity="0.082"/>
<rect x="312.00" y="214.80" width="3.00" height="1.40" fill="#000" fill-opacity="0.117"/>
<rect x="312.03" y="217.70" width="3.00" height="1.40" fill="#000" fill-opacity="0.156"/>
<rect x="312.07" y="220.60" width="3.00" height="1.40" fill="#000" fill-opacity="0.198"/>
<rect x="312.10" y="223.50" width="3.00" height="1.40" fill="#000" fill-opacity="0.242"/>
<rect x="312.13" y="226.40" width="3.00" height="1.40" fill="#000" fill-opacity="0.289"/>
<rect x="312.16" y="229.30" width="3.00" height="1.40" fill="#000" fill-opacity="0.338"/>
<rect x="312.20" y="232.20" width="3.00" height="1.40" fill="#000" fill-opacity="0.389"/>
<rect x="312.23" y="235.10" width="3.00" height="1.40" fill="#000" fill-opacity="0.441"/>
<rect x="312.26" y="238.00" width="3.00" height="1.40" fill="#000" fill-opacity="0.495"/>
<rect x="312.30" y="240.90" width="3.00" height="1.40" fill="#000" fill-opacity="0.551"/>
<rect x="312.33" y="243.80" width="3.00" height="1.40" fill="#000" fill-opacity="0.608"/>
<rect x="312.36" y="246.70" width="3.00" height="1.40" fill="#000" fill-opacity="0.666"/>
<ellipse cx="313.90" cy="247.80" rx="1.70" ry="2.4" fill="#000" fill-opacity="0.84"/>
<rect x="330.00" y="202.50" width="1.20" height="44.50" fill="url(#g151)"/>
<rect x="343.80" y="202.50" width="1.20" height="44.50" fill="url(#g151)"/>
<rect x="331.20" y="202.50" width="12.60" height="44.50" fill="url(#g150)"/>
<rect x="330.30" y="204.00" width="14.40" height="1.50" fill="#000" fill-opacity="0.193"/>
<rect x="330.30" y="207.00" width="14.40" height="1.50" fill="#000" fill-opacity="0.228"/>
<rect x="330.30" y="210.00" width="14.40" height="1.50" fill="#000" fill-opacity="0.263"/>
<rect x="330.30" y="213.00" width="14.40" height="1.50" fill="#000" fill-opacity="0.298"/>
<rect x="330.30" y="216.00" width="14.40" height="1.50" fill="#000" fill-opacity="0.333"/>
<rect x="330.30" y="219.00" width="14.40" height="1.50" fill="#000" fill-opacity="0.368"/>
<rect x="330.30" y="222.00" width="14.40" height="1.50" fill="#000" fill-opacity="0.403"/>
<rect x="330.30" y="225.00" width="14.40" height="1.50" fill="#000" fill-opacity="0.438"/>
<rect x="330.30" y="228.00" width="14.40" height="1.50" fill="#000" fill-opacity="0.473"/>
<rect x="330.30" y="231.00" width="14.40" height="1.50" fill="#000" fill-opacity="0.500"/>
<rect x="330.30" y="234.00" width="14.40" height="1.50" fill="#000" fill-opacity="0.500"/>
<rect x="330.30" y="237.00" width="14.40" height="1.50" fill="#000" fill-opacity="0.500"/>
<rect x="330.30" y="240.00" width="14.40" height="1.50" fill="#000" fill-opacity="0.500"/>
<rect x="330.30" y="243.00" width="14.40" height="1.50" fill="#000" fill-opacity="0.500"/>
<ellipse cx="337.50" cy="226.00" rx="8.00" ry="19.00" fill="url(#g152)"/>
<rect x="347.00" y="203.00" width="5.00" height="46.00" fill="url(#g153)"/>
<rect x="347.30" y="204.50" width="4.40" height="1.10" fill="#000" fill-opacity="0.046"/>
<rect x="347.30" y="207.50" width="4.40" height="1.10" fill="#000" fill-opacity="0.054"/>
<rect x="347.30" y="210.50" width="4.40" height="1.10" fill="#000" fill-opacity="0.062"/>
<rect x="347.30" y="213.50" width="4.40" height="1.10" fill="#000" fill-opacity="0.070"/>
<rect x="347.30" y="216.50" width="4.40" height="1.10" fill="#000" fill-opacity="0.079"/>
<rect x="347.30" y="219.50" width="4.40" height="1.10" fill="#000" fill-opacity="0.087"/>
<rect x="347.30" y="222.50" width="4.40" height="1.10" fill="#000" fill-opacity="0.095"/>
<rect x="347.30" y="225.50" width="4.40" height="1.10" fill="#000" fill-opacity="0.103"/>
<rect x="347.30" y="228.50" width="4.40" height="1.10" fill="#000" fill-opacity="0.111"/>
<rect x="347.30" y="231.50" width="4.40" height="1.10" fill="#000" fill-opacity="0.119"/>
<rect x="347.30" y="234.50" width="4.40" height="1.10" fill="#000" fill-opacity="0.120"/>
<rect x="347.30" y="237.50" width="4.40" height="1.10" fill="#000" fill-opacity="0.120"/>
<rect x="347.30" y="240.50" width="4.40" height="1.10" fill="#000" fill-opacity="0.120"/>
<rect x="347.30" y="243.50" width="4.40" height="1.10" fill="#000" fill-opacity="0.120"/>
<rect x="347.30" y="246.50" width="4.40" height="1.10" fill="#000" fill-opacity="0.120"/>
<rect x="360.50" y="202.50" width="1.20" height="44.50" fill="url(#g155)"/>
<rect x="374.30" y="202.50" width="1.20" height="44.50" fill="url(#g155)"/>
<rect x="361.70" y="202.50" width="12.60" height="44.50" fill="url(#g154)"/>
<rect x="360.80" y="204.00" width="14.40" height="1.50" fill="#000" fill-opacity="0.193"/>
<rect x="360.80" y="207.00" width="14.40" height="1.50" fill="#000" fill-opacity="0.228"/>
<rect x="360.80" y="210.00" width="14.40" height="1.50" fill="#000" fill-opacity="0.263"/>
<rect x="360.80" y="213.00" width="14.40" height="1.50" fill="#000" fill-opacity="0.298"/>
<rect x="360.80" y="216.00" width="14.40" height="1.50" fill="#000" fill-opacity="0.333"/>
<rect x="360.80" y="219.00" width="14.40" height="1.50" fill="#000" fill-opacity="0.368"/>
<rect x="360.80" y="222.00" width="14.40" height="1.50" fill="#000" fill-opacity="0.403"/>
<rect x="360.80" y="225.00" width="14.40" height="1.50" fill="#000" fill-opacity="0.438"/>
<rect x="360.80" y="228.00" width="14.40" height="1.50" fill="#000" fill-opacity="0.473"/>
<rect x="360.80" y="231.00" width="14.40" height="1.50" fill="#000" fill-opacity="0.500"/>
<rect x="360.80" y="234.00" width="14.40" height="1.50" fill="#000" fill-opacity="0.500"/>
<rect x="360.80" y="237.00" width="14.40" height="1.50" fill="#000" fill-opacity="0.500"/>
<rect x="360.80" y="240.00" width="14.40" height="1.50" fill="#000" fill-opacity="0.500"/>
<rect x="360.80" y="243.00" width="14.40" height="1.50" fill="#000" fill-opacity="0.500"/>
<ellipse cx="368.00" cy="226.00" rx="8.00" ry="19.00" fill="url(#g156)"/>
<rect x="376.00" y="203.00" width="5.60" height="46.00" fill="url(#g157)"/>
<rect x="376.30" y="204.50" width="5.00" height="1.10" fill="#000" fill-opacity="0.046"/>
<rect x="376.30" y="207.50" width="5.00" height="1.10" fill="#000" fill-opacity="0.054"/>
<rect x="376.30" y="210.50" width="5.00" height="1.10" fill="#000" fill-opacity="0.062"/>
<rect x="376.30" y="213.50" width="5.00" height="1.10" fill="#000" fill-opacity="0.070"/>
<rect x="376.30" y="216.50" width="5.00" height="1.10" fill="#000" fill-opacity="0.079"/>
<rect x="376.30" y="219.50" width="5.00" height="1.10" fill="#000" fill-opacity="0.087"/>
<rect x="376.30" y="222.50" width="5.00" height="1.10" fill="#000" fill-opacity="0.095"/>
<rect x="376.30" y="225.50" width="5.00" height="1.10" fill="#000" fill-opacity="0.103"/>
<rect x="376.30" y="228.50" width="5.00" height="1.10" fill="#000" fill-opacity="0.111"/>
<rect x="376.30" y="231.50" width="5.00" height="1.10" fill="#000" fill-opacity="0.119"/>
<rect x="376.30" y="234.50" width="5.00" height="1.10" fill="#000" fill-opacity="0.120"/>
<rect x="376.30" y="237.50" width="5.00" height="1.10" fill="#000" fill-opacity="0.120"/>
<rect x="376.30" y="240.50" width="5.00" height="1.10" fill="#000" fill-opacity="0.120"/>
<rect x="376.30" y="243.50" width="5.00" height="1.10" fill="#000" fill-opacity="0.120"/>
<rect x="376.30" y="246.50" width="5.00" height="1.10" fill="#000" fill-opacity="0.120"/>
<rect x="394.60" y="206.00" width="1.20" height="44.00" fill="url(#g158)"/>
<rect x="393.23" y="209.00" width="3.00" height="1.40" fill="#000" fill-opacity="0.051"/>
<rect x="393.27" y="211.90" width="3.00" height="1.40" fill="#000" fill-opacity="0.082"/>
<rect x="393.30" y="214.80" width="3.00" height="1.40" fill="#000" fill-opacity="0.117"/>
<rect x="393.33" y="217.70" width="3.00" height="1.40" fill="#000" fill-opacity="0.156"/>
<rect x="393.37" y="220.60" width="3.00" height="1.40" fill="#000" fill-opacity="0.198"/>
<rect x="393.40" y="223.50" width="3.00" height="1.40" fill="#000" fill-opacity="0.242"/>
<rect x="393.43" y="226.40" width="3.00" height="1.40" fill="#000" fill-opacity="0.289"/>
<rect x="393.46" y="229.30" width="3.00" height="1.40" fill="#000" fill-opacity="0.338"/>
<rect x="393.50" y="232.20" width="3.00" height="1.40" fill="#000" fill-opacity="0.389"/>
<rect x="393.53" y="235.10" width="3.00" height="1.40" fill="#000" fill-opacity="0.441"/>
<rect x="393.56" y="238.00" width="3.00" height="1.40" fill="#000" fill-opacity="0.495"/>
<rect x="393.60" y="240.90" width="3.00" height="1.40" fill="#000" fill-opacity="0.551"/>
<rect x="393.63" y="243.80" width="3.00" height="1.40" fill="#000" fill-opacity="0.608"/>
<rect x="393.66" y="246.70" width="3.00" height="1.40" fill="#000" fill-opacity="0.666"/>
<ellipse cx="395.20" cy="247.80" rx="1.70" ry="2.4" fill="#000" fill-opacity="0.84"/>
<rect x="415.30" y="206.00" width="1.20" height="44.00" fill="url(#g159)"/>
<rect x="413.93" y="209.00" width="3.00" height="1.40" fill="#000" fill-opacity="0.051"/>
<rect x="413.97" y="211.90" width="3.00" height="1.40" fill="#000" fill-opacity="0.082"/>
<rect x="414.00" y="214.80" width="3.00" height="1.40" fill="#000" fill-opacity="0.117"/>
<rect x="414.03" y="217.70" width="3.00" height="1.40" fill="#000" fill-opacity="0.156"/>
<rect x="414.07" y="220.60" width="3.00" height="1.40" fill="#000" fill-opacity="0.198"/>
<rect x="414.10" y="223.50" width="3.00" height="1.40" fill="#000" fill-opacity="0.242"/>
<rect x="414.13" y="226.40" width="3.00" height="1.40" fill="#000" fill-opacity="0.289"/>
<rect x="414.16" y="229.30" width="3.00" height="1.40" fill="#000" fill-opacity="0.338"/>
<rect x="414.20" y="232.20" width="3.00" height="1.40" fill="#000" fill-opacity="0.389"/>
<rect x="414.23" y="235.10" width="3.00" height="1.40" fill="#000" fill-opacity="0.441"/>
<rect x="414.26" y="238.00" width="3.00" height="1.40" fill="#000" fill-opacity="0.495"/>
<rect x="414.30" y="240.90" width="3.00" height="1.40" fill="#000" fill-opacity="0.551"/>
<rect x="414.33" y="243.80" width="3.00" height="1.40" fill="#000" fill-opacity="0.608"/>
<rect x="414.36" y="246.70" width="3.00" height="1.40" fill="#000" fill-opacity="0.666"/>
<ellipse cx="415.90" cy="247.80" rx="1.70" ry="2.4" fill="#000" fill-opacity="0.84"/>
<rect x="426.70" y="206.00" width="1.20" height="44.00" fill="url(#g160)"/>
<rect x="425.33" y="209.00" width="3.00" height="1.40" fill="#000" fill-opacity="0.051"/>
<rect x="425.37" y="211.90" width="3.00" height="1.40" fill="#000" fill-opacity="0.082"/>
<rect x="425.40" y="214.80" width="3.00" height="1.40" fill="#000" fill-opacity="0.117"/>
<rect x="425.43" y="217.70" width="3.00" height="1.40" fill="#000" fill-opacity="0.156"/>
<rect x="425.47" y="220.60" width="3.00" height="1.40" fill="#000" fill-opacity="0.198"/>
<rect x="425.50" y="223.50" width="3.00" height="1.40" fill="#000" fill-opacity="0.242"/>
<rect x="425.53" y="226.40" width="3.00" height="1.40" fill="#000" fill-opacity="0.289"/>
<rect x="425.56" y="229.30" width="3.00" height="1.40" fill="#000" fill-opacity="0.338"/>
<rect x="425.60" y="232.20" width="3.00" height="1.40" fill="#000" fill-opacity="0.389"/>
<rect x="425.63" y="235.10" width="3.00" height="1.40" fill="#000" fill-opacity="0.441"/>
<rect x="425.66" y="238.00" width="3.00" height="1.40" fill="#000" fill-opacity="0.495"/>
<rect x="425.70" y="240.90" width="3.00" height="1.40" fill="#000" fill-opacity="0.551"/>
<rect x="425.73" y="243.80" width="3.00" height="1.40" fill="#000" fill-opacity="0.608"/>
<rect x="425.76" y="246.70" width="3.00" height="1.40" fill="#000" fill-opacity="0.666"/>
<ellipse cx="427.30" cy="247.80" rx="1.70" ry="2.4" fill="#000" fill-opacity="0.84"/>
</g>
<line x1="18" y1="202" x2="18" y2="251" stroke="#000" stroke-width="1.6"/>
<line x1="17.2" y1="250.5" x2="442" y2="250.5" stroke="#000" stroke-width="1.6"/>
<line x1="16.2" y1="259.5" x2="444.2" y2="259.5" stroke="#000" stroke-width="1.15"/>
<line x1="133" y1="198" x2="133" y2="250.5" stroke="#000" stroke-width="1.6"/>
<line x1="216" y1="198" x2="216" y2="250.5" stroke="#000" stroke-width="1.6"/>
<line x1="324" y1="198" x2="324" y2="250.5" stroke="#000" stroke-width="1.6"/>
<text x="16" y="210.5" style="font-family:'DejaVu Sans',sans-serif;font-size:6.6px" text-anchor="end" >5</text>
<text x="16" y="218.3" style="font-family:'DejaVu Sans',sans-serif;font-size:6.6px" text-anchor="end" >4</text>
<text x="16" y="227.8" style="font-family:'DejaVu Sans',sans-serif;font-size:6.6px" text-anchor="end" >3</text>
<text x="16" y="235.7" style="font-family:'DejaVu Sans',sans-serif;font-size:6.6px" text-anchor="end" >2</text>
<text x="16" y="245.0" style="font-family:'DejaVu Sans',sans-serif;font-size:6.6px" text-anchor="end" >1</text>
<text x="19.5" y="267" style="font-family:'DejaVu Sans',sans-serif;font-size:6.9px" text-anchor="middle" >0</text>
<text x="72" y="267" style="font-family:'DejaVu Sans',sans-serif;font-size:6.9px" text-anchor="middle" >10</text>
<text x="120" y="267" style="font-family:'DejaVu Sans',sans-serif;font-size:6.9px" text-anchor="middle" >20</text>
<text x="168.5" y="267" style="font-family:'DejaVu Sans',sans-serif;font-size:6.9px" text-anchor="middle" >30</text>
<text x="216.7" y="267" style="font-family:'DejaVu Sans',sans-serif;font-size:6.9px" text-anchor="middle" >40</text>
<text x="264.5" y="267" style="font-family:'DejaVu Sans',sans-serif;font-size:6.9px" text-anchor="middle" >50</text>
<text x="315" y="267" style="font-family:'DejaVu Sans',sans-serif;font-size:6.9px" text-anchor="middle" >60</text>
<text x="373.7" y="267" style="font-family:'DejaVu Sans',sans-serif;font-size:6.9px" text-anchor="middle" >70</text>
<text x="430.5" y="267" style="font-family:'DejaVu Sans',sans-serif;font-size:6.9px" text-anchor="middle" >80</text>
<text x="239" y="278.3" style="font-family:'DejaVu Sans',sans-serif;font-size:8.1px" text-anchor="middle" >Time (s)</text>
<text x="0" y="0" style="font-family:'DejaVu Sans',sans-serif;font-size:7.9px" text-anchor="middle" transform="translate(6.5,190.5) rotate(-90) scale(1.055,1)">Frequency (kHz)</text>
<text x="0" y="0" style="font-family:'Liberation Sans',Arial,sans-serif;font-size:8.5px" text-anchor="middle" transform="translate(69.10,190.40) scale(0.925,1)">Theme 28a</text>
<text x="0" y="0" style="font-family:'Liberation Sans',Arial,sans-serif;font-size:6.5px" text-anchor="middle" transform="translate(71.30,198.80) scale(0.875,1)">Phrase 1</text>
<text x="0" y="0" style="font-family:'Liberation Sans',Arial,sans-serif;font-size:8.5px" text-anchor="middle" transform="translate(171.70,190.40) scale(0.925,1)">Theme 29</text>
<text x="0" y="0" style="font-family:'Liberation Sans',Arial,sans-serif;font-size:6.5px" text-anchor="middle" transform="translate(172.90,198.80) scale(0.875,1)">Phrase 1</text>
<text x="0" y="0" style="font-family:'Liberation Sans',Arial,sans-serif;font-size:8.5px" text-anchor="middle" transform="translate(265.60,190.40) scale(0.925,1)">Theme 30b</text>
<text x="0" y="0" style="font-family:'Liberation Sans',Arial,sans-serif;font-size:6.5px" text-anchor="middle" transform="translate(267.20,198.80) scale(0.875,1)">Phrase 1</text>
<text x="0" y="0" style="font-family:'Liberation Sans',Arial,sans-serif;font-size:8.5px" text-anchor="middle" transform="translate(380.60,190.40) scale(0.925,1)">Theme 30b</text>
<text x="0" y="0" style="font-family:'Liberation Sans',Arial,sans-serif;font-size:6.5px" text-anchor="middle" transform="translate(381.40,198.80) scale(0.875,1)">Phrase 2</text></svg>
</body></html>
